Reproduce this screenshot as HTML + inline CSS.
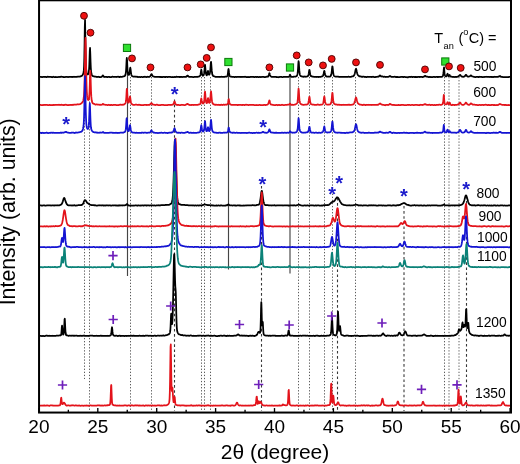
<!DOCTYPE html>
<html><head><meta charset="utf-8"><title>XRD patterns</title>
<style>
html,body{margin:0;padding:0;background:#fff;}
body{width:520px;height:464px;overflow:hidden;}
svg{display:block;}
.t{font-family:"Liberation Sans",sans-serif;fill:#000;}
</style></head><body>
<svg width="520" height="464" viewBox="0 0 520 464">
<rect x="0" y="0" width="520" height="464" fill="#ffffff"/>
<line x1="84.5" y1="77" x2="84.5" y2="379" stroke="#5c5c5c" stroke-width="1" stroke-dasharray="1.3 1.77"/>
<line x1="89.5" y1="77" x2="89.5" y2="411" stroke="#5c5c5c" stroke-width="1" stroke-dasharray="1.3 1.77"/>
<line x1="130.5" y1="77" x2="130.5" y2="411" stroke="#5c5c5c" stroke-width="1" stroke-dasharray="1.3 1.77"/>
<line x1="151.5" y1="77" x2="151.5" y2="411" stroke="#5c5c5c" stroke-width="1" stroke-dasharray="1.3 1.77"/>
<line x1="201.5" y1="77" x2="201.5" y2="411" stroke="#5c5c5c" stroke-width="1" stroke-dasharray="1.3 1.77"/>
<line x1="204.5" y1="77" x2="204.5" y2="411" stroke="#5c5c5c" stroke-width="1" stroke-dasharray="1.3 1.77"/>
<line x1="210.5" y1="77" x2="210.5" y2="411" stroke="#5c5c5c" stroke-width="1" stroke-dasharray="1.3 1.77"/>
<line x1="298.5" y1="77" x2="298.5" y2="411" stroke="#5c5c5c" stroke-width="1" stroke-dasharray="1.3 1.77"/>
<line x1="309.5" y1="77" x2="309.5" y2="411" stroke="#5c5c5c" stroke-width="1" stroke-dasharray="1.3 1.77"/>
<line x1="324.5" y1="77" x2="324.5" y2="411" stroke="#5c5c5c" stroke-width="1" stroke-dasharray="1.3 1.77"/>
<line x1="332.5" y1="77" x2="332.5" y2="411" stroke="#5c5c5c" stroke-width="1" stroke-dasharray="1.3 1.77"/>
<line x1="355.5" y1="77" x2="355.5" y2="411" stroke="#5c5c5c" stroke-width="1" stroke-dasharray="1.3 1.77"/>
<line x1="444.5" y1="77" x2="444.5" y2="411" stroke="#5c5c5c" stroke-width="1" stroke-dasharray="1.3 1.77"/>
<line x1="449.0" y1="77" x2="449.0" y2="411" stroke="#5c5c5c" stroke-width="1" stroke-dasharray="1.3 1.77"/>
<line x1="459.0" y1="77" x2="459.0" y2="411" stroke="#5c5c5c" stroke-width="1" stroke-dasharray="1.3 1.77"/>
<line x1="174.5" y1="99.5" x2="174.5" y2="411" stroke="#383838" stroke-width="1.1" stroke-dasharray="2.6 2.5"/>
<line x1="261.5" y1="186" x2="261.5" y2="411" stroke="#383838" stroke-width="1.1" stroke-dasharray="2.6 2.5"/>
<line x1="337.5" y1="198" x2="337.5" y2="411" stroke="#383838" stroke-width="1.1" stroke-dasharray="2.6 2.5"/>
<line x1="404.0" y1="206" x2="404.0" y2="411" stroke="#383838" stroke-width="1.1" stroke-dasharray="2.6 2.5"/>
<line x1="466.5" y1="196" x2="466.5" y2="411" stroke="#383838" stroke-width="1.1" stroke-dasharray="2.6 2.5"/>
<line x1="127.5" y1="60" x2="127.5" y2="276" stroke="#454545" stroke-width="1.15"/>
<line x1="228.5" y1="70" x2="228.5" y2="269.5" stroke="#454545" stroke-width="1.15"/>
<line x1="290.0" y1="76" x2="290.0" y2="273.5" stroke="#454545" stroke-width="1.15"/>
<polyline fill="none" stroke="#000000" stroke-width="1.75" stroke-linejoin="round" points="39.05,77.11 39.30,77.01 39.55,77.00 39.80,76.89 40.05,76.86 40.30,76.82 40.55,76.92 40.80,76.91 41.05,76.86 41.30,76.91 41.55,76.99 41.80,77.08 42.05,77.10 42.30,77.15 42.55,77.08 42.80,76.95 43.05,76.91 43.30,76.85 43.55,76.81 43.80,76.83 44.05,76.99 44.30,76.95 44.55,76.95 44.80,76.98 45.05,77.02 45.30,76.93 45.55,76.88 45.80,76.92 46.05,77.00 46.30,77.07 46.55,77.01 46.80,77.02 47.05,76.99 47.30,76.82 47.55,76.67 47.80,76.68 48.05,76.78 48.30,76.81 48.55,76.85 48.80,76.93 49.05,76.97 49.30,76.82 49.55,76.79 49.80,76.85 50.05,76.77 50.30,76.79 50.55,76.76 50.80,76.78 51.05,76.86 51.30,76.95 51.55,77.01 51.80,77.18 52.05,77.27 52.30,77.16 52.55,77.16 52.80,77.01 53.05,76.92 53.30,76.74 53.55,76.85 53.80,76.88 54.05,76.96 54.30,77.09 54.55,77.15 54.80,77.10 55.05,77.04 55.30,77.00 55.55,76.93 55.80,77.06 56.05,77.00 56.30,77.04 56.55,77.09 56.80,77.16 57.05,77.08 57.30,77.17 57.55,77.15 57.80,77.17 58.05,77.01 58.30,77.06 58.55,76.95 58.80,76.93 59.05,76.95 59.30,76.98 59.55,76.91 59.80,77.04 60.05,77.03 60.30,76.95 60.55,76.84 60.80,76.78 61.05,76.69 61.30,76.66 61.55,76.66 61.80,76.83 62.05,76.85 62.30,76.87 62.55,76.94 62.80,76.94 63.05,76.90 63.30,77.05 63.55,77.10 63.80,76.99 64.05,77.03 64.30,77.08 64.55,77.03 64.80,76.99 65.05,77.03 65.30,76.99 65.55,77.00 65.80,76.95 66.05,76.91 66.30,76.93 66.55,76.94 66.80,76.95 67.05,76.89 67.30,76.94 67.55,77.00 67.80,77.04 68.05,76.96 68.30,77.06 68.55,77.00 68.80,76.98 69.05,76.91 69.30,76.86 69.55,76.80 69.80,76.85 70.05,76.82 70.30,76.87 70.55,76.93 70.80,76.88 71.05,76.85 71.30,76.95 71.55,76.98 71.80,76.98 72.05,77.05 72.30,77.03 72.55,76.90 72.80,76.90 73.05,76.89 73.30,76.77 73.55,76.75 73.80,76.77 74.05,76.73 74.30,76.82 74.55,76.86 74.80,76.94 75.05,76.95 75.30,76.93 75.55,76.90 75.80,76.96 76.05,76.86 76.30,76.89 76.55,76.82 76.80,76.77 77.05,76.73 77.30,76.79 77.55,76.68 77.80,76.73 78.05,76.70 78.30,76.73 78.55,76.65 78.80,76.67 79.05,76.63 79.30,76.54 79.55,76.59 79.80,76.59 80.05,76.47 80.30,76.50 80.55,76.46 80.80,76.27 81.05,76.24 81.30,76.18 81.55,75.97 81.80,75.85 82.05,75.64 82.30,75.28 82.55,74.95 82.80,74.57 83.05,74.10 83.30,73.36 83.55,72.34 83.80,70.43 84.05,66.54 84.30,58.80 84.55,44.99 84.80,26.97 85.05,19.98 85.30,33.93 85.55,50.97 85.80,62.08 86.05,67.90 86.30,70.75 86.55,72.24 86.80,73.11 87.05,73.71 87.30,74.03 87.55,74.37 87.80,74.44 88.05,74.27 88.30,73.88 88.55,73.23 88.80,71.87 89.05,69.38 89.30,65.05 89.55,58.31 89.80,50.61 90.05,47.97 90.30,53.70 90.55,61.63 90.80,67.50 91.05,70.99 91.30,73.02 91.55,74.11 91.80,74.87 92.05,75.32 92.30,75.68 92.55,75.88 92.80,76.09 93.05,76.15 93.30,76.27 93.55,76.33 93.80,76.34 94.05,76.37 94.30,76.49 94.55,76.54 94.80,76.69 95.05,76.59 95.30,76.66 95.55,76.63 95.80,76.65 96.05,76.63 96.30,76.83 96.55,76.83 96.80,76.83 97.05,77.01 97.30,76.98 97.55,76.97 97.80,76.97 98.05,76.96 98.30,76.76 98.55,76.74 98.80,76.86 99.05,76.94 99.30,76.97 99.55,77.10 99.80,77.21 100.05,77.11 100.30,77.16 100.55,77.18 100.80,77.12 101.05,77.10 101.30,76.93 101.55,76.76 101.80,76.66 102.05,76.49 102.30,76.17 102.55,75.91 102.80,75.47 103.05,75.44 103.30,75.85 103.55,76.28 103.80,76.69 104.05,76.88 104.30,76.88 104.55,76.92 104.80,77.04 105.05,76.92 105.30,76.98 105.55,76.96 105.80,76.89 106.05,76.86 106.30,76.90 106.55,76.95 106.80,76.97 107.05,77.07 107.30,77.02 107.55,77.12 107.80,76.94 108.05,76.92 108.30,76.85 108.55,76.86 108.80,76.82 109.05,76.95 109.30,76.90 109.55,77.03 109.80,77.14 110.05,77.13 110.30,77.10 110.55,77.15 110.80,77.12 111.05,77.10 111.30,77.05 111.55,77.02 111.80,76.95 112.05,76.83 112.30,76.64 112.55,76.72 112.80,76.70 113.05,76.83 113.30,76.93 113.55,76.96 113.80,76.89 114.05,76.92 114.30,76.91 114.55,76.82 114.80,76.80 115.05,76.85 115.30,76.90 115.55,76.79 115.80,76.91 116.05,77.00 116.30,77.03 116.55,76.96 116.80,76.99 117.05,76.90 117.30,76.76 117.55,76.75 117.80,76.70 118.05,76.70 118.30,76.62 118.55,76.84 118.80,76.84 119.05,76.97 119.30,77.02 119.55,77.02 119.80,76.79 120.05,76.75 120.30,76.74 120.55,76.69 120.80,76.79 121.05,76.95 121.30,76.87 121.55,76.83 121.80,76.91 122.05,76.82 122.30,76.64 122.55,76.68 122.80,76.61 123.05,76.49 123.30,76.43 123.55,76.48 123.80,76.31 124.05,76.29 124.30,76.24 124.55,76.20 124.80,75.92 125.05,75.77 125.30,75.15 125.55,74.37 125.80,72.98 126.05,70.54 126.30,66.34 126.55,60.94 126.80,57.78 127.05,60.92 127.30,66.48 127.55,70.49 127.80,72.80 128.05,73.94 128.30,74.52 128.55,74.74 128.80,74.90 129.05,74.62 129.30,73.94 129.55,72.70 129.80,70.82 130.05,68.66 130.30,67.64 130.55,68.85 130.80,71.04 131.05,73.08 131.30,74.42 131.55,75.38 131.80,75.74 132.05,76.09 132.30,76.21 132.55,76.36 132.80,76.45 133.05,76.54 133.30,76.51 133.55,76.53 133.80,76.57 134.05,76.44 134.30,76.54 134.55,76.56 134.80,76.57 135.05,76.56 135.30,76.69 135.55,76.67 135.80,76.72 136.05,76.79 136.30,76.80 136.55,76.65 136.80,76.67 137.05,76.71 137.30,76.77 137.55,76.90 137.80,77.08 138.05,77.11 138.30,77.06 138.55,77.01 138.80,76.95 139.05,76.98 139.30,76.93 139.55,77.00 139.80,77.04 140.05,77.10 140.30,77.04 140.55,77.06 140.80,77.02 141.05,76.96 141.30,76.83 141.55,76.86 141.80,76.94 142.05,77.02 142.30,77.10 142.55,77.11 142.80,77.09 143.05,77.01 143.30,76.97 143.55,76.98 143.80,77.00 144.05,76.88 144.30,76.89 144.55,76.84 144.80,76.70 145.05,76.66 145.30,76.80 145.55,76.90 145.80,76.91 146.05,77.04 146.30,77.14 146.55,77.02 146.80,76.92 147.05,76.94 147.30,76.89 147.55,76.73 147.80,76.76 148.05,76.80 148.30,76.85 148.55,76.92 148.80,76.95 149.05,77.03 149.30,76.95 149.55,76.73 149.80,76.56 150.05,76.38 150.30,76.05 150.55,75.63 150.80,75.27 151.05,74.68 151.30,74.21 151.55,74.09 151.80,74.41 152.05,74.87 152.30,75.47 152.55,75.91 152.80,76.16 153.05,76.35 153.30,76.44 153.55,76.45 153.80,76.63 154.05,76.67 154.30,76.73 154.55,76.78 154.80,76.80 155.05,76.80 155.30,76.91 155.55,76.89 155.80,76.96 156.05,76.96 156.30,76.84 156.55,76.76 156.80,76.75 157.05,76.77 157.30,76.85 157.55,76.92 157.80,76.96 158.05,76.94 158.30,76.92 158.55,76.84 158.80,76.87 159.05,76.91 159.30,77.02 159.55,77.00 159.80,76.96 160.05,76.97 160.30,77.00 160.55,76.89 160.80,76.91 161.05,77.07 161.30,76.97 161.55,76.99 161.80,77.05 162.05,76.99 162.30,77.00 162.55,77.07 162.80,76.95 163.05,77.01 163.30,76.97 163.55,76.99 163.80,76.93 164.05,76.98 164.30,76.92 164.55,77.04 164.80,76.99 165.05,76.99 165.30,77.02 165.55,77.03 165.80,76.97 166.05,76.91 166.30,76.90 166.55,76.82 166.80,76.88 167.05,76.91 167.30,76.98 167.55,77.06 167.80,77.05 168.05,76.90 168.30,76.87 168.55,76.82 168.80,76.80 169.05,76.81 169.30,76.96 169.55,76.91 169.80,76.83 170.05,76.84 170.30,76.99 170.55,76.96 170.80,77.00 171.05,77.10 171.30,77.13 171.55,77.06 171.80,77.02 172.05,77.03 172.30,77.00 172.55,76.99 172.80,77.02 173.05,77.15 173.30,77.16 173.55,77.12 173.80,77.10 174.05,77.00 174.30,76.92 174.55,76.98 174.80,77.02 175.05,77.09 175.30,77.10 175.55,77.02 175.80,76.91 176.05,76.85 176.30,76.72 176.55,76.63 176.80,76.72 177.05,76.81 177.30,76.84 177.55,76.85 177.80,76.86 178.05,76.78 178.30,76.87 178.55,76.77 178.80,76.83 179.05,76.95 179.30,77.00 179.55,76.89 179.80,77.04 180.05,76.97 180.30,76.96 180.55,77.03 180.80,76.99 181.05,76.91 181.30,76.97 181.55,76.99 181.80,76.98 182.05,77.07 182.30,77.07 182.55,77.01 182.80,76.96 183.05,76.91 183.30,76.81 183.55,76.84 183.80,76.91 184.05,76.94 184.30,76.86 184.55,76.94 184.80,76.86 185.05,76.80 185.30,76.71 185.55,76.80 185.80,76.88 186.05,76.87 186.30,76.78 186.55,76.65 186.80,76.25 187.05,75.84 187.30,75.52 187.55,75.51 187.80,75.68 188.05,76.05 188.30,76.24 188.55,76.61 188.80,76.71 189.05,76.75 189.30,76.83 189.55,76.83 189.80,76.80 190.05,76.86 190.30,76.89 190.55,76.88 190.80,76.93 191.05,76.95 191.30,76.91 191.55,76.90 191.80,76.86 192.05,76.96 192.30,76.99 192.55,77.00 192.80,77.05 193.05,77.15 193.30,77.18 193.55,77.13 193.80,77.10 194.05,77.03 194.30,76.95 194.55,76.90 194.80,76.93 195.05,76.91 195.30,76.94 195.55,76.88 195.80,76.91 196.05,76.83 196.30,76.87 196.55,76.81 196.80,76.83 197.05,76.72 197.30,76.81 197.55,76.79 197.80,76.80 198.05,76.74 198.30,76.71 198.55,76.61 198.80,76.63 199.05,76.50 199.30,76.41 199.55,76.31 199.80,76.06 200.05,75.58 200.30,75.10 200.55,74.21 200.80,72.57 201.05,70.66 201.30,69.72 201.55,70.79 201.80,72.61 202.05,74.30 202.30,75.21 202.55,75.57 202.80,75.75 203.05,75.74 203.30,75.56 203.55,75.20 203.80,74.76 204.05,73.67 204.30,71.97 204.55,69.13 204.80,65.97 205.05,64.79 205.30,67.22 205.55,70.30 205.80,72.68 206.05,74.09 206.30,74.83 206.55,75.10 206.80,75.34 207.05,74.88 207.30,73.92 207.55,72.40 207.80,71.12 208.05,70.99 208.30,72.50 208.55,73.81 208.80,74.52 209.05,74.70 209.30,74.74 209.55,74.28 209.80,73.50 210.05,72.19 210.30,69.85 210.55,66.49 210.80,62.90 211.05,61.82 211.30,64.26 211.55,67.93 211.80,70.90 212.05,73.01 212.30,74.33 212.55,74.99 212.80,75.42 213.05,75.77 213.30,76.08 213.55,76.11 213.80,76.22 214.05,76.26 214.30,76.37 214.55,76.45 214.80,76.52 215.05,76.65 215.30,76.77 215.55,76.81 215.80,76.80 216.05,76.83 216.30,76.85 216.55,76.88 216.80,76.86 217.05,76.87 217.30,76.88 217.55,76.86 217.80,76.85 218.05,76.91 218.30,76.83 218.55,76.86 218.80,76.91 219.05,76.84 219.30,76.90 219.55,77.00 219.80,76.97 220.05,76.81 220.30,76.94 220.55,76.81 220.80,76.77 221.05,76.81 221.30,76.85 221.55,76.74 221.80,76.73 222.05,76.75 222.30,76.75 222.55,76.83 222.80,76.90 223.05,76.94 223.30,76.94 223.55,76.87 223.80,76.95 224.05,76.93 224.30,76.84 224.55,76.76 224.80,76.87 225.05,76.68 225.30,76.62 225.55,76.72 225.80,76.68 226.05,76.61 226.30,76.70 226.55,76.60 226.80,76.51 227.05,76.33 227.30,75.89 227.55,75.20 227.80,74.09 228.05,72.09 228.30,69.86 228.55,68.99 228.80,70.67 229.05,72.89 229.30,74.56 229.55,75.48 229.80,76.07 230.05,76.31 230.30,76.53 230.55,76.62 230.80,76.57 231.05,76.55 231.30,76.70 231.55,76.76 231.80,76.78 232.05,76.91 232.30,76.99 232.55,76.97 232.80,76.94 233.05,76.90 233.30,76.86 233.55,76.83 233.80,76.95 234.05,76.98 234.30,77.03 234.55,77.03 234.80,77.05 235.05,76.92 235.30,76.94 235.55,76.94 235.80,77.00 236.05,76.97 236.30,77.00 236.55,77.02 236.80,76.97 237.05,76.93 237.30,76.98 237.55,76.95 237.80,76.88 238.05,76.85 238.30,76.90 238.55,76.84 238.80,76.79 239.05,76.85 239.30,76.85 239.55,76.84 239.80,76.92 240.05,77.01 240.30,76.97 240.55,77.00 240.80,76.86 241.05,76.91 241.30,76.85 241.55,76.84 241.80,76.98 242.05,77.05 242.30,76.96 242.55,76.97 242.80,76.99 243.05,76.86 243.30,76.86 243.55,76.94 243.80,76.99 244.05,76.85 244.30,76.80 244.55,76.84 244.80,76.77 245.05,76.71 245.30,76.92 245.55,76.93 245.80,76.98 246.05,76.99 246.30,77.04 246.55,77.00 246.80,77.13 247.05,77.06 247.30,77.02 247.55,77.04 247.80,77.03 248.05,76.92 248.30,77.01 248.55,77.10 248.80,77.13 249.05,77.13 249.30,77.21 249.55,77.12 249.80,77.01 250.05,76.94 250.30,76.94 250.55,76.89 250.80,77.00 251.05,76.97 251.30,76.92 251.55,76.88 251.80,76.98 252.05,76.87 252.30,76.94 252.55,76.94 252.80,76.93 253.05,76.80 253.30,76.86 253.55,76.91 253.80,77.01 254.05,77.01 254.30,77.21 254.55,77.11 254.80,76.97 255.05,76.90 255.30,76.94 255.55,76.85 255.80,76.85 256.05,76.99 256.30,77.09 256.55,77.04 256.80,76.96 257.05,76.93 257.30,76.91 257.55,76.86 257.80,76.95 258.05,77.03 258.30,77.19 258.55,77.18 258.80,77.19 259.05,77.10 259.30,77.01 259.55,76.95 259.80,76.90 260.05,76.88 260.30,77.00 260.55,77.06 260.80,77.01 261.05,77.01 261.30,77.05 261.55,76.94 261.80,76.92 262.05,76.94 262.30,76.98 262.55,76.97 262.80,76.98 263.05,76.90 263.30,76.99 263.55,76.99 263.80,76.97 264.05,76.99 264.30,77.10 264.55,77.09 264.80,77.14 265.05,77.08 265.30,77.06 265.55,77.03 265.80,76.96 266.05,76.91 266.30,76.86 266.55,76.74 266.80,76.71 267.05,76.71 267.30,76.66 267.55,76.71 267.80,76.77 268.05,76.55 268.30,76.27 268.55,75.73 268.80,74.95 269.05,73.95 269.30,73.22 269.55,73.28 269.80,74.16 270.05,74.96 270.30,75.65 270.55,75.97 270.80,76.25 271.05,76.45 271.30,76.74 271.55,76.82 271.80,76.94 272.05,76.87 272.30,76.95 272.55,76.79 272.80,76.83 273.05,76.76 273.30,76.85 273.55,76.80 273.80,76.89 274.05,76.85 274.30,76.93 274.55,76.89 274.80,76.92 275.05,76.92 275.30,76.92 275.55,76.98 275.80,76.98 276.05,76.98 276.30,77.03 276.55,77.00 276.80,76.99 277.05,77.09 277.30,77.01 277.55,77.05 277.80,77.17 278.05,77.15 278.30,77.15 278.55,77.27 278.80,77.10 279.05,77.05 279.30,77.06 279.55,77.00 279.80,76.95 280.05,76.99 280.30,76.88 280.55,76.82 280.80,76.83 281.05,76.82 281.30,76.84 281.55,76.91 281.80,76.98 282.05,77.05 282.30,77.04 282.55,77.00 282.80,77.00 283.05,77.06 283.30,76.96 283.55,76.91 283.80,76.95 284.05,76.90 284.30,76.89 284.55,76.80 284.80,76.90 285.05,76.87 285.30,76.86 285.55,76.82 285.80,76.84 286.05,76.79 286.30,76.85 286.55,76.88 286.80,76.84 287.05,76.97 287.30,76.90 287.55,76.84 287.80,76.87 288.05,76.95 288.30,76.84 288.55,76.83 288.80,76.80 289.05,76.49 289.30,76.10 289.55,75.55 289.80,74.87 290.05,74.70 290.30,75.27 290.55,75.93 290.80,76.41 291.05,76.76 291.30,76.75 291.55,76.77 291.80,76.72 292.05,76.76 292.30,76.82 292.55,76.84 292.80,76.89 293.05,76.87 293.30,76.87 293.55,76.71 293.80,76.76 294.05,76.70 294.30,76.69 294.55,76.64 294.80,76.73 295.05,76.66 295.30,76.64 295.55,76.58 295.80,76.53 296.05,76.41 296.30,76.27 296.55,76.15 296.80,75.95 297.05,75.56 297.30,74.77 297.55,73.63 297.80,71.59 298.05,68.21 298.30,64.01 298.55,61.12 298.80,62.42 299.05,66.29 299.30,70.13 299.55,72.56 299.80,74.18 300.05,75.03 300.30,75.55 300.55,75.73 300.80,76.09 301.05,76.21 301.30,76.27 301.55,76.38 301.80,76.46 302.05,76.49 302.30,76.60 302.55,76.63 302.80,76.67 303.05,76.68 303.30,76.76 303.55,76.67 303.80,76.75 304.05,76.59 304.30,76.59 304.55,76.46 304.80,76.58 305.05,76.54 305.30,76.62 305.55,76.63 305.80,76.77 306.05,76.69 306.30,76.68 306.55,76.64 306.80,76.54 307.05,76.44 307.30,76.48 307.55,76.30 307.80,76.23 308.05,75.95 308.30,75.47 308.55,74.45 308.80,73.13 309.05,71.30 309.30,69.98 309.55,70.11 309.80,71.72 310.05,73.33 310.30,74.72 310.55,75.52 310.80,75.96 311.05,76.12 311.30,76.26 311.55,76.26 311.80,76.45 312.05,76.46 312.30,76.53 312.55,76.72 312.80,76.70 313.05,76.66 313.30,76.71 313.55,76.76 313.80,76.76 314.05,76.87 314.30,76.85 314.55,76.92 314.80,76.95 315.05,76.87 315.30,76.88 315.55,76.82 315.80,76.85 316.05,76.76 316.30,76.81 316.55,76.91 316.80,77.02 317.05,76.94 317.30,76.97 317.55,76.92 317.80,76.88 318.05,76.85 318.30,76.87 318.55,77.04 318.80,77.02 319.05,76.94 319.30,76.90 319.55,76.90 319.80,76.78 320.05,76.80 320.30,76.85 320.55,76.88 320.80,76.83 321.05,76.67 321.30,76.69 321.55,76.57 321.80,76.46 322.05,76.40 322.30,76.38 322.55,76.17 322.80,76.02 323.05,75.71 323.30,75.18 323.55,74.30 323.80,73.03 324.05,71.51 324.30,70.79 324.55,71.51 324.80,72.99 325.05,74.22 325.30,75.16 325.55,75.73 325.80,76.09 326.05,76.29 326.30,76.46 326.55,76.49 326.80,76.64 327.05,76.56 327.30,76.53 327.55,76.56 327.80,76.54 328.05,76.49 328.30,76.54 328.55,76.61 328.80,76.55 329.05,76.59 329.30,76.54 329.55,76.52 329.80,76.57 330.05,76.58 330.30,76.38 330.55,76.15 330.80,75.79 331.05,75.23 331.30,74.35 331.55,73.10 331.80,70.99 332.05,68.38 332.30,66.28 332.55,66.53 332.80,68.79 333.05,71.35 333.30,73.35 333.55,74.53 333.80,75.28 334.05,75.77 334.30,76.15 334.55,76.27 334.80,76.38 335.05,76.46 335.30,76.58 335.55,76.56 335.80,76.62 336.05,76.73 336.30,76.69 336.55,76.65 336.80,76.68 337.05,76.68 337.30,76.54 337.55,76.63 337.80,76.69 338.05,76.68 338.30,76.66 338.55,76.75 338.80,76.83 339.05,76.90 339.30,76.96 339.55,77.00 339.80,76.97 340.05,76.90 340.30,76.90 340.55,76.88 340.80,76.91 341.05,76.96 341.30,76.99 341.55,76.98 341.80,76.90 342.05,76.85 342.30,76.81 342.55,76.85 342.80,76.79 343.05,76.88 343.30,76.87 343.55,76.92 343.80,76.91 344.05,76.94 344.30,76.93 344.55,76.96 344.80,76.97 345.05,76.92 345.30,76.93 345.55,76.90 345.80,76.84 346.05,76.80 346.30,76.84 346.55,76.79 346.80,76.89 347.05,76.90 347.30,76.92 347.55,76.91 347.80,76.86 348.05,76.77 348.30,76.72 348.55,76.67 348.80,76.68 349.05,76.85 349.30,76.88 349.55,76.87 349.80,76.85 350.05,76.88 350.30,76.77 350.55,76.80 350.80,76.82 351.05,76.79 351.30,76.61 351.55,76.55 351.80,76.48 352.05,76.42 352.30,76.44 352.55,76.47 352.80,76.44 353.05,76.26 353.30,76.17 353.55,76.05 353.80,75.70 354.05,75.35 354.30,74.96 354.55,74.34 354.80,73.49 355.05,72.39 355.30,71.19 355.55,69.91 355.80,69.03 356.05,68.72 356.30,69.39 356.55,70.36 356.80,71.63 357.05,72.68 357.30,73.67 357.55,74.38 357.80,74.91 358.05,75.20 358.30,75.49 358.55,75.62 358.80,75.80 359.05,76.09 359.30,76.32 359.55,76.42 359.80,76.42 360.05,76.45 360.30,76.35 360.55,76.33 360.80,76.40 361.05,76.68 361.30,76.63 361.55,76.74 361.80,76.86 362.05,76.89 362.30,76.73 362.55,76.92 362.80,76.81 363.05,76.63 363.30,76.60 363.55,76.67 363.80,76.63 364.05,76.74 364.30,76.95 364.55,77.01 364.80,76.99 365.05,76.94 365.30,77.02 365.55,76.91 365.80,76.90 366.05,77.00 366.30,77.08 366.55,77.08 366.80,77.01 367.05,76.98 367.30,76.88 367.55,76.81 367.80,76.73 368.05,76.79 368.30,76.88 368.55,76.85 368.80,76.87 369.05,76.88 369.30,76.87 369.55,76.82 369.80,76.91 370.05,76.91 370.30,76.90 370.55,76.94 370.80,76.96 371.05,76.95 371.30,76.92 371.55,77.01 371.80,77.02 372.05,76.95 372.30,76.86 372.55,76.80 372.80,76.77 373.05,76.72 373.30,76.76 373.55,76.82 373.80,76.96 374.05,77.05 374.30,77.08 374.55,77.20 374.80,77.23 375.05,77.22 375.30,77.09 375.55,77.03 375.80,76.94 376.05,76.97 376.30,76.82 376.55,76.82 376.80,76.88 377.05,76.87 377.30,76.72 377.55,76.74 377.80,76.75 378.05,76.77 378.30,76.66 378.55,76.65 378.80,76.54 379.05,76.32 379.30,75.98 379.55,75.74 379.80,75.49 380.05,75.44 380.30,75.58 380.55,75.81 380.80,76.08 381.05,76.29 381.30,76.50 381.55,76.41 381.80,76.43 382.05,76.46 382.30,76.45 382.55,76.48 382.80,76.68 383.05,76.73 383.30,76.77 383.55,76.80 383.80,76.73 384.05,76.71 384.30,76.68 384.55,76.73 384.80,76.78 385.05,76.88 385.30,76.90 385.55,77.00 385.80,76.90 386.05,76.92 386.30,76.84 386.55,76.86 386.80,76.91 387.05,76.92 387.30,76.92 387.55,76.95 387.80,76.96 388.05,76.86 388.30,76.83 388.55,76.75 388.80,76.65 389.05,76.49 389.30,76.30 389.55,76.11 389.80,76.02 390.05,75.98 390.30,76.04 390.55,76.29 390.80,76.53 391.05,76.67 391.30,76.82 391.55,76.90 391.80,76.93 392.05,76.94 392.30,76.94 392.55,76.83 392.80,76.86 393.05,76.88 393.30,76.89 393.55,76.88 393.80,76.98 394.05,76.89 394.30,76.80 394.55,76.62 394.80,76.62 395.05,76.71 395.30,76.90 395.55,76.92 395.80,77.11 396.05,77.19 396.30,77.09 396.55,76.90 396.80,77.03 397.05,76.98 397.30,76.89 397.55,77.00 397.80,77.13 398.05,77.10 398.30,77.20 398.55,77.21 398.80,77.07 399.05,77.09 399.30,77.05 399.55,77.01 399.80,77.04 400.05,77.05 400.30,77.01 400.55,76.99 400.80,76.94 401.05,76.92 401.30,76.98 401.55,76.99 401.80,76.94 402.05,76.99 402.30,76.92 402.55,77.01 402.80,76.96 403.05,77.03 403.30,77.06 403.55,77.13 403.80,76.95 404.05,76.91 404.30,76.93 404.55,76.88 404.80,76.94 405.05,77.02 405.30,77.07 405.55,77.08 405.80,77.13 406.05,77.05 406.30,77.22 406.55,77.22 406.80,77.26 407.05,77.29 407.30,77.37 407.55,77.20 407.80,77.26 408.05,77.27 408.30,77.03 408.55,77.01 408.80,76.97 409.05,76.90 409.30,76.83 409.55,76.98 409.80,76.98 410.05,76.97 410.30,77.07 410.55,76.95 410.80,76.89 411.05,76.80 411.30,76.84 411.55,76.75 411.80,76.89 412.05,76.89 412.30,77.02 412.55,77.06 412.80,77.05 413.05,76.94 413.30,76.92 413.55,76.77 413.80,76.79 414.05,76.86 414.30,76.88 414.55,77.04 414.80,77.11 415.05,76.92 415.30,76.94 415.55,77.07 415.80,76.98 416.05,76.94 416.30,77.13 416.55,77.04 416.80,76.97 417.05,77.00 417.30,77.06 417.55,76.97 417.80,76.94 418.05,76.98 418.30,76.84 418.55,76.84 418.80,76.88 419.05,76.96 419.30,76.90 419.55,77.02 419.80,77.05 420.05,76.98 420.30,76.95 420.55,76.98 420.80,76.90 421.05,76.81 421.30,76.94 421.55,76.99 421.80,76.92 422.05,77.02 422.30,77.08 422.55,77.06 422.80,77.04 423.05,76.93 423.30,76.84 423.55,76.83 423.80,76.75 424.05,76.53 424.30,76.43 424.55,76.27 424.80,76.01 425.05,75.87 425.30,75.95 425.55,76.23 425.80,76.43 426.05,76.64 426.30,76.69 426.55,76.74 426.80,76.68 427.05,76.71 427.30,76.62 427.55,76.72 427.80,76.92 428.05,76.96 428.30,76.93 428.55,77.08 428.80,77.10 429.05,76.98 429.30,77.01 429.55,77.02 429.80,76.96 430.05,76.95 430.30,77.00 430.55,77.07 430.80,76.98 431.05,77.06 431.30,77.07 431.55,77.05 431.80,77.00 432.05,77.14 432.30,77.10 432.55,77.04 432.80,77.06 433.05,77.00 433.30,76.88 433.55,76.82 433.80,76.80 434.05,76.79 434.30,76.87 434.55,76.95 434.80,77.07 435.05,77.10 435.30,77.06 435.55,76.98 435.80,76.92 436.05,76.82 436.30,76.90 436.55,76.85 436.80,76.92 437.05,76.96 437.30,77.02 437.55,76.92 437.80,77.03 438.05,76.98 438.30,77.01 438.55,76.86 438.80,76.90 439.05,76.90 439.30,76.84 439.55,76.84 439.80,76.87 440.05,76.89 440.30,76.84 440.55,76.94 440.80,76.90 441.05,76.87 441.30,76.87 441.55,76.89 441.80,76.75 442.05,76.68 442.30,76.67 442.55,76.39 442.80,76.01 443.05,75.63 443.30,74.49 443.55,72.21 443.80,68.77 444.05,67.28 444.30,70.21 444.55,73.44 444.80,75.05 445.05,75.68 445.30,76.15 445.55,76.33 445.80,76.38 446.05,76.41 446.30,76.38 446.55,76.04 446.80,75.54 447.05,74.79 447.30,74.01 447.55,73.75 447.80,74.40 448.05,75.32 448.30,75.93 448.55,76.13 448.80,76.05 449.05,75.81 449.30,75.53 449.55,74.95 449.80,74.99 450.05,75.57 450.30,76.06 450.55,76.27 450.80,76.52 451.05,76.56 451.30,76.62 451.55,76.69 451.80,76.72 452.05,76.80 452.30,76.84 452.55,76.79 452.80,76.85 453.05,77.01 453.30,76.93 453.55,76.86 453.80,76.96 454.05,77.06 454.30,77.03 454.55,76.99 454.80,76.96 455.05,76.98 455.30,76.86 455.55,76.82 455.80,76.87 456.05,77.06 456.30,76.99 456.55,76.97 456.80,76.94 457.05,76.87 457.30,76.77 457.55,76.74 457.80,76.60 458.05,76.48 458.30,76.40 458.55,76.19 458.80,76.04 459.05,75.95 459.30,75.70 459.55,75.31 459.80,74.97 460.05,74.90 460.30,75.03 460.55,75.36 460.80,75.73 461.05,76.01 461.30,76.30 461.55,76.43 461.80,76.52 462.05,76.59 462.30,76.81 462.55,76.70 462.80,76.73 463.05,76.75 463.30,76.80 463.55,76.78 463.80,76.67 464.05,76.67 464.30,76.56 464.55,76.42 464.80,76.14 465.05,76.01 465.30,75.59 465.55,75.21 465.80,74.94 466.05,74.86 466.30,75.01 466.55,75.45 466.80,75.85 467.05,76.10 467.30,76.34 467.55,76.47 467.80,76.58 468.05,76.58 468.30,76.54 468.55,76.58 468.80,76.55 469.05,76.44 469.30,76.44 469.55,76.48 469.80,76.31 470.05,76.18 470.30,75.96 470.55,75.72 470.80,75.42 471.05,75.39 471.30,75.64 471.55,75.93 471.80,76.17 472.05,76.37 472.30,76.48 472.55,76.47 472.80,76.50 473.05,76.54 473.30,76.64 473.55,76.73 473.80,76.79 474.05,76.88 474.30,76.85 474.55,76.95 474.80,77.07 475.05,77.09 475.30,77.11 475.55,77.18 475.80,77.12 476.05,76.96 476.30,76.89 476.55,76.91 476.80,76.85 477.05,76.83 477.30,76.82 477.55,76.86 477.80,76.87 478.05,77.01 478.30,76.99 478.55,77.02 478.80,77.07 479.05,77.00 479.30,76.82 479.55,76.83 479.80,76.74 480.05,76.75 480.30,76.75 480.55,76.85 480.80,76.77 481.05,76.85 481.30,76.86 481.55,76.96 481.80,76.99 482.05,77.09 482.30,77.07 482.55,77.07 482.80,77.01 483.05,76.95 483.30,76.99 483.55,77.01 483.80,77.08 484.05,77.03 484.30,77.02 484.55,76.94 484.80,76.92 485.05,76.80 485.30,76.84 485.55,76.79 485.80,76.75 486.05,76.74 486.30,76.75 486.55,76.80 486.80,76.87 487.05,76.90 487.30,76.98 487.55,76.95 487.80,76.90 488.05,76.90 488.30,76.87 488.55,76.77 488.80,76.80 489.05,76.84 489.30,76.93 489.55,76.95 489.80,77.04 490.05,77.05 490.30,76.94 490.55,76.78 490.80,76.89 491.05,76.83 491.30,76.86 491.55,77.00 491.80,77.08 492.05,76.98 492.30,77.04 492.55,77.01 492.80,76.95 493.05,76.95 493.30,77.02 493.55,77.03 493.80,76.99 494.05,76.90 494.30,76.89 494.55,76.80 494.80,76.73 495.05,76.84 495.30,76.87 495.55,76.88 495.80,76.91 496.05,76.85 496.30,76.82 496.55,76.88 496.80,76.97 497.05,76.90 497.30,76.97 497.55,76.95 497.80,76.88 498.05,76.71 498.30,76.76 498.55,76.72 498.80,76.63 499.05,76.47 499.30,76.43 499.55,76.18 499.80,76.00 500.05,75.98 500.30,76.19 500.55,76.27 500.80,76.53 501.05,76.80 501.30,76.88 501.55,76.82 501.80,76.95 502.05,76.99 502.30,76.88 502.55,76.97 502.80,77.04 503.05,77.02 503.30,77.02 503.55,77.09 503.80,77.08 504.05,77.09 504.30,77.12 504.55,77.07 504.80,77.07 505.05,77.04 505.30,77.07 505.55,77.03 505.80,77.08 506.05,77.07 506.30,77.10 506.55,77.11 506.80,77.12 507.05,77.03 507.30,77.04 507.55,77.05 507.80,77.03 508.05,77.09 508.30,77.12 508.55,77.10 508.80,77.00 509.05,76.88 509.30,76.85 509.55,76.86 509.80,76.87 510.05,76.95 510.30,77.00 510.55,77.07 510.80,77.07 511.05,77.07"/>
<polyline fill="none" stroke="#e3131b" stroke-width="1.75" stroke-linejoin="round" points="39.05,104.86 39.30,104.84 39.55,104.90 39.80,104.90 40.05,104.90 40.30,104.97 40.55,104.99 40.80,104.94 41.05,105.06 41.30,105.08 41.55,105.09 41.80,105.13 42.05,105.15 42.30,105.10 42.55,105.01 42.80,105.03 43.05,104.97 43.30,105.02 43.55,104.99 43.80,105.00 44.05,105.01 44.30,104.99 44.55,104.83 44.80,104.92 45.05,104.90 45.30,104.91 45.55,104.90 45.80,105.00 46.05,104.95 46.30,104.93 46.55,104.86 46.80,104.89 47.05,104.87 47.30,104.89 47.55,105.07 47.80,105.05 48.05,105.07 48.30,105.18 48.55,105.19 48.80,105.14 49.05,105.08 49.30,105.01 49.55,104.87 49.80,104.82 50.05,104.80 50.30,105.03 50.55,105.03 50.80,105.04 51.05,105.08 51.30,105.07 51.55,104.99 51.80,105.03 52.05,105.01 52.30,105.08 52.55,105.09 52.80,104.97 53.05,104.97 53.30,105.01 53.55,104.82 53.80,104.84 54.05,104.91 54.30,104.91 54.55,104.88 54.80,105.04 55.05,104.99 55.30,104.94 55.55,104.86 55.80,104.83 56.05,104.78 56.30,104.86 56.55,104.84 56.80,104.84 57.05,104.90 57.30,104.86 57.55,104.82 57.80,104.85 58.05,104.96 58.30,104.86 58.55,104.80 58.80,104.72 59.05,104.73 59.30,104.76 59.55,104.92 59.80,104.90 60.05,105.02 60.30,105.00 60.55,104.95 60.80,104.95 61.05,104.89 61.30,104.73 61.55,104.73 61.80,104.75 62.05,104.75 62.30,104.93 62.55,104.96 62.80,105.04 63.05,105.01 63.30,105.03 63.55,104.96 63.80,105.06 64.05,104.96 64.30,105.03 64.55,104.88 64.80,104.89 65.05,104.75 65.30,104.80 65.55,104.71 65.80,104.73 66.05,104.74 66.30,104.86 66.55,104.87 66.80,104.93 67.05,105.02 67.30,105.06 67.55,105.07 67.80,105.09 68.05,105.17 68.30,105.11 68.55,105.08 68.80,104.97 69.05,105.07 69.30,104.95 69.55,104.98 69.80,105.00 70.05,105.05 70.30,104.88 70.55,104.79 70.80,104.76 71.05,104.79 71.30,104.80 71.55,104.93 71.80,105.07 72.05,105.05 72.30,104.87 72.55,104.84 72.80,104.78 73.05,104.71 73.30,104.74 73.55,104.83 73.80,104.82 74.05,104.70 74.30,104.68 74.55,104.69 74.80,104.61 75.05,104.56 75.30,104.57 75.55,104.56 75.80,104.51 76.05,104.54 76.30,104.51 76.55,104.54 76.80,104.50 77.05,104.44 77.30,104.32 77.55,104.30 77.80,104.24 78.05,104.25 78.30,104.29 78.55,104.35 78.80,104.38 79.05,104.31 79.30,104.29 79.55,104.25 79.80,104.22 80.05,104.11 80.30,104.08 80.55,103.92 80.80,103.70 81.05,103.52 81.30,103.31 81.55,103.05 81.80,102.89 82.05,102.73 82.30,102.47 82.55,102.14 82.80,101.74 83.05,101.09 83.30,100.19 83.55,98.85 83.80,97.23 84.05,94.48 84.30,89.91 84.55,82.50 84.80,71.40 85.05,56.63 85.30,42.39 85.55,37.82 85.80,47.23 86.05,62.47 86.30,75.90 86.55,85.43 86.80,91.55 87.05,95.15 87.30,97.39 87.55,98.63 87.80,99.44 88.05,99.91 88.30,100.07 88.55,99.94 88.80,99.42 89.05,98.21 89.30,95.69 89.55,91.25 89.80,84.12 90.05,75.50 90.30,70.92 90.55,75.60 90.80,84.31 91.05,91.61 91.30,96.39 91.55,99.10 91.80,100.81 92.05,101.89 92.30,102.52 92.55,102.87 92.80,103.30 93.05,103.54 93.30,103.62 93.55,103.68 93.80,103.89 94.05,103.89 94.30,103.93 94.55,104.11 94.80,104.25 95.05,104.40 95.30,104.56 95.55,104.59 95.80,104.57 96.05,104.53 96.30,104.43 96.55,104.42 96.80,104.44 97.05,104.44 97.30,104.50 97.55,104.58 97.80,104.67 98.05,104.66 98.30,104.60 98.55,104.55 98.80,104.66 99.05,104.68 99.30,104.69 99.55,104.80 99.80,104.85 100.05,104.73 100.30,104.70 100.55,104.76 100.80,104.83 101.05,104.81 101.30,104.81 101.55,104.76 101.80,104.68 102.05,104.58 102.30,104.39 102.55,104.24 102.80,103.95 103.05,103.88 103.30,104.04 103.55,104.41 103.80,104.51 104.05,104.62 104.30,104.54 104.55,104.65 104.80,104.61 105.05,104.68 105.30,104.74 105.55,104.86 105.80,104.83 106.05,104.92 106.30,104.89 106.55,104.86 106.80,104.92 107.05,104.96 107.30,105.05 107.55,105.07 107.80,105.04 108.05,104.97 108.30,104.88 108.55,104.78 108.80,104.75 109.05,104.87 109.30,104.93 109.55,105.09 109.80,105.01 110.05,105.06 110.30,105.02 110.55,105.01 110.80,104.90 111.05,105.00 111.30,105.00 111.55,104.95 111.80,104.95 112.05,105.02 112.30,105.03 112.55,105.04 112.80,105.03 113.05,105.04 113.30,104.96 113.55,104.98 113.80,104.95 114.05,104.99 114.30,104.94 114.55,104.97 114.80,104.93 115.05,104.89 115.30,104.90 115.55,104.95 115.80,104.96 116.05,105.03 116.30,105.06 116.55,105.01 116.80,105.04 117.05,105.17 117.30,105.11 117.55,105.20 117.80,105.21 118.05,105.11 118.30,105.01 118.55,105.07 118.80,104.99 119.05,105.00 119.30,104.98 119.55,104.83 119.80,104.77 120.05,104.68 120.30,104.64 120.55,104.66 120.80,104.77 121.05,104.79 121.30,104.76 121.55,104.74 121.80,104.75 122.05,104.79 122.30,104.73 122.55,104.75 122.80,104.70 123.05,104.77 123.30,104.62 123.55,104.57 123.80,104.57 124.05,104.47 124.30,104.25 124.55,104.08 124.80,103.87 125.05,103.68 125.30,103.44 125.55,102.88 125.80,102.17 126.05,100.47 126.30,97.37 126.55,92.91 126.80,88.81 127.05,89.28 127.30,93.97 127.55,98.19 127.80,100.73 128.05,102.02 128.30,102.61 128.55,102.68 128.80,102.54 129.05,101.86 129.30,100.71 129.55,98.89 129.80,97.02 130.05,96.46 130.30,97.80 130.55,99.79 130.80,101.60 131.05,102.79 131.30,103.45 131.55,103.86 131.80,104.02 132.05,104.19 132.30,104.40 132.55,104.55 132.80,104.63 133.05,104.80 133.30,104.83 133.55,104.87 133.80,104.90 134.05,104.90 134.30,104.91 134.55,104.89 134.80,104.80 135.05,104.72 135.30,104.74 135.55,104.63 135.80,104.67 136.05,104.68 136.30,104.66 136.55,104.66 136.80,104.75 137.05,104.80 137.30,104.77 137.55,104.84 137.80,104.87 138.05,104.87 138.30,104.75 138.55,104.83 138.80,104.81 139.05,104.74 139.30,104.71 139.55,104.81 139.80,104.87 140.05,104.87 140.30,104.94 140.55,105.08 140.80,105.10 141.05,104.99 141.30,105.05 141.55,105.06 141.80,105.14 142.05,105.10 142.30,105.18 142.55,105.20 142.80,105.20 143.05,105.02 143.30,105.03 143.55,105.05 143.80,104.99 144.05,104.97 144.30,104.98 144.55,104.98 144.80,104.92 145.05,104.98 145.30,104.94 145.55,104.96 145.80,104.92 146.05,104.91 146.30,104.88 146.55,105.01 146.80,105.00 147.05,105.06 147.30,105.01 147.55,104.97 147.80,104.90 148.05,104.95 148.30,104.93 148.55,104.87 148.80,105.00 149.05,105.03 149.30,104.93 149.55,104.79 149.80,104.74 150.05,104.50 150.30,104.17 150.55,103.97 150.80,103.68 151.05,103.48 151.30,103.14 151.55,103.07 151.80,103.36 152.05,103.77 152.30,104.00 152.55,104.30 152.80,104.57 153.05,104.60 153.30,104.69 153.55,104.73 153.80,104.71 154.05,104.70 154.30,104.75 154.55,104.85 154.80,104.90 155.05,104.96 155.30,105.00 155.55,105.03 155.80,104.84 156.05,104.81 156.30,104.73 156.55,104.64 156.80,104.57 157.05,104.68 157.30,104.71 157.55,104.83 157.80,104.98 158.05,105.05 158.30,105.07 158.55,105.06 158.80,105.15 159.05,105.15 159.30,105.10 159.55,105.05 159.80,105.11 160.05,105.06 160.30,104.98 160.55,105.07 160.80,105.04 161.05,104.99 161.30,104.99 161.55,104.98 161.80,104.93 162.05,104.99 162.30,104.99 162.55,104.84 162.80,104.86 163.05,104.86 163.30,104.87 163.55,104.92 163.80,105.06 164.05,105.06 164.30,105.04 164.55,105.12 164.80,105.12 165.05,105.08 165.30,105.08 165.55,105.15 165.80,105.12 166.05,105.07 166.30,105.09 166.55,105.10 166.80,105.05 167.05,105.09 167.30,105.02 167.55,105.04 167.80,104.98 168.05,104.95 168.30,104.89 168.55,104.89 168.80,104.80 169.05,104.79 169.30,104.79 169.55,104.76 169.80,104.88 170.05,104.89 170.30,104.99 170.55,104.95 170.80,105.03 171.05,104.94 171.30,104.93 171.55,104.88 171.80,104.92 172.05,104.77 172.30,104.67 172.55,104.68 172.80,104.63 173.05,104.48 173.30,104.21 173.55,103.95 173.80,103.40 174.05,102.47 174.30,101.62 174.55,101.42 174.80,101.93 175.05,102.71 175.30,103.50 175.55,104.08 175.80,104.41 176.05,104.67 176.30,104.83 176.55,104.87 176.80,104.76 177.05,104.77 177.30,104.76 177.55,104.76 177.80,104.77 178.05,105.01 178.30,104.92 178.55,104.94 178.80,104.96 179.05,105.04 179.30,105.02 179.55,105.14 179.80,105.12 180.05,105.07 180.30,105.07 180.55,105.02 180.80,105.03 181.05,104.96 181.30,104.90 181.55,104.86 181.80,104.87 182.05,104.75 182.30,104.76 182.55,104.81 182.80,104.82 183.05,104.81 183.30,104.94 183.55,104.98 183.80,105.01 184.05,105.06 184.30,105.02 184.55,105.08 184.80,105.06 185.05,105.03 185.30,104.85 185.55,104.84 185.80,104.65 186.05,104.58 186.30,104.50 186.55,104.42 186.80,104.27 187.05,104.00 187.30,103.85 187.55,103.86 187.80,104.02 188.05,104.22 188.30,104.46 188.55,104.56 188.80,104.67 189.05,104.79 189.30,104.86 189.55,104.93 189.80,105.08 190.05,105.01 190.30,105.00 190.55,105.00 190.80,104.96 191.05,104.98 191.30,105.01 191.55,105.02 191.80,104.91 192.05,104.89 192.30,104.80 192.55,104.82 192.80,104.84 193.05,104.93 193.30,104.98 193.55,105.03 193.80,104.99 194.05,104.94 194.30,104.94 194.55,104.91 194.80,104.89 195.05,104.83 195.30,104.77 195.55,104.78 195.80,104.77 196.05,104.77 196.30,104.85 196.55,104.87 196.80,104.90 197.05,104.94 197.30,104.87 197.55,104.82 197.80,104.81 198.05,104.64 198.30,104.64 198.55,104.63 198.80,104.52 199.05,104.40 199.30,104.46 199.55,104.30 199.80,104.24 200.05,104.04 200.30,103.59 200.55,102.71 200.80,101.35 201.05,99.38 201.30,98.42 201.55,99.28 201.80,100.89 202.05,102.07 202.30,102.97 202.55,103.28 202.80,103.45 203.05,103.56 203.30,103.57 203.55,103.24 203.80,102.62 204.05,101.58 204.30,99.40 204.55,96.23 204.80,92.76 205.05,91.65 205.30,94.18 205.55,97.85 205.80,100.50 206.05,101.97 206.30,102.72 206.55,103.15 206.80,103.13 207.05,102.82 207.30,102.04 207.55,100.52 207.80,98.70 208.05,98.03 208.30,99.23 208.55,100.84 208.80,102.02 209.05,102.57 209.30,102.78 209.55,102.53 209.80,101.88 210.05,100.64 210.30,98.59 210.55,95.53 210.80,92.40 211.05,91.37 211.30,93.50 211.55,96.76 211.80,99.54 212.05,101.47 212.30,102.58 212.55,103.24 212.80,103.72 213.05,104.01 213.30,104.07 213.55,104.22 213.80,104.35 214.05,104.42 214.30,104.60 214.55,104.65 214.80,104.74 215.05,104.78 215.30,104.81 215.55,104.70 215.80,104.77 216.05,104.72 216.30,104.71 216.55,104.77 216.80,104.77 217.05,104.78 217.30,104.87 217.55,104.89 217.80,104.91 218.05,104.86 218.30,104.80 218.55,104.73 218.80,104.77 219.05,104.84 219.30,104.89 219.55,104.96 219.80,105.09 220.05,105.08 220.30,104.88 220.55,104.85 220.80,104.81 221.05,104.65 221.30,104.66 221.55,104.74 221.80,104.87 222.05,104.93 222.30,105.02 222.55,105.01 222.80,104.96 223.05,104.76 223.30,104.71 223.55,104.59 223.80,104.60 224.05,104.72 224.30,104.78 224.55,104.81 224.80,104.87 225.05,104.77 225.30,104.68 225.55,104.67 225.80,104.66 226.05,104.68 226.30,104.77 226.55,104.68 226.80,104.65 227.05,104.58 227.30,104.39 227.55,104.06 227.80,103.61 228.05,102.63 228.30,101.03 228.55,99.31 228.80,99.10 229.05,100.64 229.30,102.24 229.55,103.33 229.80,103.96 230.05,104.29 230.30,104.39 230.55,104.54 230.80,104.59 231.05,104.64 231.30,104.79 231.55,104.83 231.80,104.79 232.05,104.83 232.30,104.93 232.55,104.89 232.80,104.91 233.05,104.95 233.30,104.99 233.55,104.90 233.80,104.80 234.05,104.86 234.30,104.89 234.55,104.86 234.80,104.91 235.05,104.90 235.30,104.85 235.55,104.84 235.80,104.94 236.05,104.93 236.30,104.99 236.55,104.96 236.80,104.91 237.05,104.92 237.30,105.03 237.55,105.04 237.80,104.99 238.05,105.05 238.30,104.99 238.55,104.89 238.80,104.80 239.05,104.96 239.30,104.88 239.55,104.91 239.80,104.90 240.05,104.97 240.30,104.93 240.55,104.94 240.80,104.87 241.05,104.90 241.30,104.98 241.55,104.98 241.80,105.04 242.05,105.00 242.30,105.06 242.55,104.98 242.80,104.95 243.05,104.85 243.30,104.90 243.55,104.87 243.80,104.87 244.05,104.89 244.30,105.05 244.55,105.14 244.80,105.08 245.05,105.02 245.30,104.87 245.55,104.78 245.80,104.62 246.05,104.67 246.30,104.64 246.55,104.82 246.80,104.84 247.05,104.84 247.30,104.83 247.55,104.97 247.80,104.94 248.05,104.94 248.30,105.05 248.55,105.06 248.80,105.02 249.05,104.99 249.30,104.93 249.55,104.93 249.80,104.84 250.05,104.85 250.30,104.78 250.55,104.90 250.80,104.87 251.05,104.88 251.30,104.90 251.55,104.95 251.80,104.93 252.05,104.93 252.30,104.98 252.55,104.95 252.80,104.88 253.05,104.87 253.30,104.90 253.55,104.85 253.80,104.89 254.05,105.03 254.30,105.06 254.55,105.09 254.80,105.18 255.05,105.14 255.30,105.19 255.55,105.15 255.80,105.06 256.05,105.09 256.30,105.08 256.55,105.01 256.80,104.97 257.05,105.06 257.30,105.05 257.55,105.07 257.80,105.05 258.05,105.13 258.30,105.07 258.55,105.03 258.80,105.05 259.05,104.99 259.30,104.90 259.55,104.92 259.80,104.92 260.05,104.97 260.30,105.02 260.55,105.11 260.80,105.08 261.05,105.14 261.30,105.06 261.55,105.07 261.80,105.03 262.05,105.03 262.30,105.05 262.55,105.11 262.80,105.02 263.05,105.04 263.30,105.03 263.55,105.02 263.80,104.95 264.05,105.01 264.30,104.96 264.55,104.95 264.80,104.88 265.05,104.97 265.30,105.02 265.55,105.03 265.80,105.02 266.05,104.99 266.30,104.90 266.55,104.89 266.80,104.79 267.05,104.80 267.30,104.66 267.55,104.55 267.80,104.27 268.05,104.07 268.30,103.74 268.55,103.20 268.80,102.34 269.05,101.27 269.30,100.42 269.55,100.48 269.80,101.53 270.05,102.65 270.30,103.50 270.55,104.05 270.80,104.41 271.05,104.50 271.30,104.62 271.55,104.64 271.80,104.64 272.05,104.68 272.30,104.76 272.55,104.76 272.80,104.78 273.05,104.87 273.30,104.96 273.55,105.00 273.80,105.05 274.05,105.10 274.30,105.14 274.55,105.02 274.80,105.15 275.05,105.13 275.30,105.15 275.55,105.15 275.80,105.12 276.05,104.94 276.30,104.89 276.55,104.88 276.80,104.91 277.05,104.92 277.30,105.08 277.55,105.17 277.80,105.26 278.05,105.18 278.30,105.15 278.55,104.97 278.80,104.99 279.05,104.89 279.30,104.90 279.55,104.99 279.80,105.13 280.05,105.13 280.30,105.16 280.55,105.15 280.80,105.19 281.05,105.06 281.30,104.96 281.55,104.87 281.80,104.82 282.05,104.69 282.30,104.79 282.55,104.81 282.80,104.97 283.05,105.00 283.30,105.09 283.55,105.02 283.80,105.07 284.05,105.01 284.30,105.01 284.55,105.01 284.80,104.99 285.05,104.92 285.30,104.84 285.55,104.90 285.80,104.83 286.05,104.81 286.30,104.88 286.55,104.92 286.80,104.80 287.05,104.78 287.30,104.80 287.55,104.68 287.80,104.66 288.05,104.65 288.30,104.62 288.55,104.65 288.80,104.72 289.05,104.68 289.30,104.49 289.55,104.22 289.80,103.73 290.05,103.58 290.30,103.85 290.55,104.32 290.80,104.68 291.05,104.92 291.30,104.92 291.55,104.90 291.80,104.88 292.05,104.73 292.30,104.76 292.55,104.74 292.80,104.83 293.05,104.85 293.30,104.87 293.55,104.79 293.80,104.80 294.05,104.74 294.30,104.71 294.55,104.73 294.80,104.64 295.05,104.57 295.30,104.49 295.55,104.39 295.80,104.30 296.05,104.12 296.30,103.92 296.55,103.73 296.80,103.57 297.05,103.17 297.30,102.54 297.55,101.44 297.80,99.31 298.05,95.82 298.30,91.51 298.55,88.67 298.80,90.04 299.05,94.15 299.30,97.98 299.55,100.63 299.80,102.05 300.05,102.86 300.30,103.44 300.55,103.77 300.80,103.92 301.05,104.15 301.30,104.28 301.55,104.40 301.80,104.52 302.05,104.65 302.30,104.71 302.55,104.73 302.80,104.74 303.05,104.83 303.30,104.80 303.55,104.75 303.80,104.78 304.05,104.82 304.30,104.75 304.55,104.74 304.80,104.70 305.05,104.71 305.30,104.56 305.55,104.59 305.80,104.56 306.05,104.53 306.30,104.55 306.55,104.59 306.80,104.51 307.05,104.43 307.30,104.43 307.55,104.25 307.80,104.02 308.05,103.67 308.30,103.14 308.55,102.04 308.80,100.48 309.05,98.44 309.30,96.76 309.55,96.96 309.80,98.82 310.05,100.82 310.30,102.31 310.55,103.27 310.80,103.81 311.05,104.18 311.30,104.23 311.55,104.29 311.80,104.38 312.05,104.48 312.30,104.53 312.55,104.63 312.80,104.65 313.05,104.59 313.30,104.58 313.55,104.54 313.80,104.59 314.05,104.72 314.30,104.80 314.55,104.88 314.80,104.89 315.05,104.87 315.30,104.84 315.55,104.79 315.80,104.85 316.05,104.85 316.30,104.92 316.55,104.88 316.80,104.90 317.05,104.72 317.30,104.68 317.55,104.53 317.80,104.43 318.05,104.54 318.30,104.55 318.55,104.61 318.80,104.76 319.05,104.86 319.30,104.81 319.55,104.89 319.80,104.89 320.05,104.82 320.30,104.78 320.55,104.71 320.80,104.67 321.05,104.61 321.30,104.60 321.55,104.63 321.80,104.63 322.05,104.54 322.30,104.45 322.55,104.29 322.80,103.87 323.05,103.35 323.30,102.55 323.55,101.34 323.80,99.36 324.05,97.38 324.30,96.41 324.55,97.48 324.80,99.43 325.05,101.24 325.30,102.56 325.55,103.35 325.80,103.77 326.05,104.08 326.30,104.38 326.55,104.44 326.80,104.50 327.05,104.58 327.30,104.59 327.55,104.55 327.80,104.57 328.05,104.58 328.30,104.50 328.55,104.55 328.80,104.59 329.05,104.57 329.30,104.54 329.55,104.51 329.80,104.47 330.05,104.43 330.30,104.26 330.55,103.98 330.80,103.55 331.05,102.94 331.30,101.96 331.55,100.45 331.80,98.02 332.05,95.17 332.30,92.79 332.55,93.07 332.80,95.74 333.05,98.74 333.30,100.91 333.55,102.28 333.80,103.14 334.05,103.65 334.30,103.91 334.55,104.05 334.80,104.09 335.05,104.25 335.30,104.34 335.55,104.48 335.80,104.54 336.05,104.62 336.30,104.50 336.55,104.49 336.80,104.48 337.05,104.50 337.30,104.61 337.55,104.78 337.80,104.78 338.05,104.77 338.30,104.86 338.55,104.71 338.80,104.66 339.05,104.76 339.30,104.81 339.55,104.75 339.80,104.90 340.05,104.89 340.30,104.81 340.55,104.82 340.80,104.84 341.05,104.84 341.30,104.93 341.55,105.04 341.80,104.91 342.05,104.94 342.30,104.94 342.55,104.92 342.80,104.84 343.05,104.94 343.30,104.95 343.55,104.88 343.80,104.75 344.05,104.80 344.30,104.85 344.55,104.77 344.80,104.87 345.05,104.91 345.30,104.89 345.55,104.79 345.80,104.84 346.05,104.75 346.30,104.77 346.55,104.76 346.80,104.85 347.05,104.80 347.30,104.91 347.55,104.89 347.80,104.78 348.05,104.73 348.30,104.87 348.55,104.76 348.80,104.72 349.05,104.76 349.30,104.78 349.55,104.70 349.80,104.74 350.05,104.85 350.30,104.97 350.55,104.94 350.80,104.92 351.05,104.88 351.30,104.82 351.55,104.75 351.80,104.72 352.05,104.61 352.30,104.60 352.55,104.60 352.80,104.47 353.05,104.44 353.30,104.42 353.55,104.12 353.80,103.78 354.05,103.38 354.30,102.81 354.55,102.11 354.80,101.42 355.05,100.52 355.30,99.40 355.55,98.41 355.80,97.66 356.05,97.50 356.30,97.91 356.55,98.83 356.80,99.88 357.05,100.94 357.30,101.79 357.55,102.51 357.80,103.10 358.05,103.46 358.30,103.69 358.55,103.83 358.80,103.99 359.05,104.18 359.30,104.36 359.55,104.50 359.80,104.60 360.05,104.68 360.30,104.70 360.55,104.65 360.80,104.71 361.05,104.74 361.30,104.72 361.55,104.81 361.80,104.90 362.05,104.91 362.30,105.03 362.55,105.10 362.80,105.10 363.05,105.08 363.30,104.96 363.55,104.74 363.80,104.64 364.05,104.72 364.30,104.71 364.55,104.79 364.80,104.95 365.05,105.06 365.30,104.97 365.55,105.01 365.80,105.05 366.05,105.01 366.30,104.93 366.55,104.79 366.80,104.76 367.05,104.74 367.30,104.78 367.55,104.86 367.80,104.90 368.05,104.85 368.30,104.88 368.55,104.79 368.80,104.75 369.05,104.82 369.30,104.90 369.55,104.82 369.80,104.94 370.05,104.86 370.30,104.90 370.55,104.88 370.80,104.90 371.05,104.87 371.30,105.00 371.55,104.90 371.80,104.89 372.05,104.85 372.30,104.89 372.55,104.86 372.80,104.87 373.05,104.86 373.30,104.87 373.55,104.82 373.80,104.83 374.05,104.85 374.30,104.86 374.55,104.83 374.80,104.91 375.05,104.79 375.30,104.82 375.55,104.80 375.80,104.93 376.05,104.82 376.30,104.85 376.55,104.77 376.80,104.83 377.05,104.67 377.30,104.74 377.55,104.80 377.80,104.91 378.05,104.75 378.30,104.71 378.55,104.53 378.80,104.37 379.05,104.03 379.30,103.92 379.55,103.68 379.80,103.54 380.05,103.44 380.30,103.61 380.55,103.74 380.80,104.07 381.05,104.15 381.30,104.38 381.55,104.48 381.80,104.57 382.05,104.57 382.30,104.75 382.55,104.76 382.80,104.80 383.05,104.78 383.30,104.93 383.55,104.90 383.80,104.92 384.05,104.93 384.30,105.04 384.55,105.02 384.80,105.09 385.05,105.15 385.30,105.26 385.55,105.10 385.80,105.00 386.05,104.88 386.30,104.83 386.55,104.76 386.80,104.80 387.05,104.91 387.30,104.97 387.55,105.01 387.80,104.95 388.05,105.03 388.30,104.98 388.55,104.89 388.80,104.74 389.05,104.65 389.30,104.42 389.55,104.19 389.80,103.95 390.05,103.92 390.30,104.03 390.55,104.17 390.80,104.37 391.05,104.51 391.30,104.53 391.55,104.66 391.80,104.80 392.05,104.77 392.30,104.96 392.55,105.02 392.80,104.96 393.05,104.95 393.30,105.02 393.55,104.98 393.80,104.96 394.05,104.95 394.30,104.98 394.55,105.01 394.80,105.00 395.05,105.09 395.30,105.16 395.55,105.08 395.80,105.02 396.05,105.11 396.30,105.06 396.55,105.05 396.80,105.04 397.05,105.20 397.30,105.06 397.55,105.11 397.80,105.10 398.05,105.09 398.30,104.92 398.55,105.02 398.80,104.95 399.05,104.97 399.30,105.04 399.55,105.11 399.80,105.17 400.05,105.15 400.30,105.12 400.55,105.10 400.80,104.99 401.05,104.87 401.30,104.94 401.55,104.94 401.80,105.00 402.05,104.94 402.30,104.91 402.55,104.79 402.80,104.78 403.05,104.80 403.30,104.93 403.55,104.93 403.80,105.05 404.05,105.08 404.30,105.06 404.55,105.02 404.80,105.03 405.05,105.08 405.30,105.03 405.55,105.01 405.80,105.04 406.05,105.09 406.30,105.06 406.55,105.04 406.80,105.02 407.05,105.00 407.30,104.98 407.55,104.98 407.80,104.92 408.05,105.02 408.30,104.98 408.55,104.97 408.80,104.89 409.05,104.93 409.30,104.85 409.55,104.93 409.80,104.94 410.05,105.04 410.30,105.05 410.55,105.13 410.80,105.02 411.05,105.02 411.30,105.00 411.55,104.99 411.80,104.91 412.05,104.94 412.30,104.95 412.55,104.91 412.80,104.97 413.05,104.99 413.30,105.06 413.55,105.04 413.80,105.02 414.05,105.02 414.30,105.04 414.55,105.00 414.80,104.94 415.05,104.95 415.30,104.97 415.55,104.85 415.80,104.88 416.05,104.92 416.30,104.99 416.55,104.86 416.80,104.97 417.05,104.90 417.30,104.94 417.55,104.99 417.80,105.05 418.05,105.12 418.30,105.18 418.55,105.18 418.80,105.21 419.05,105.28 419.30,105.21 419.55,105.08 419.80,105.01 420.05,104.91 420.30,104.82 420.55,104.74 420.80,104.88 421.05,104.84 421.30,104.76 421.55,104.83 421.80,104.97 422.05,104.90 422.30,104.97 422.55,105.04 422.80,104.95 423.05,104.78 423.30,104.80 423.55,104.68 423.80,104.52 424.05,104.52 424.30,104.31 424.55,104.19 424.80,104.16 425.05,104.12 425.30,104.19 425.55,104.48 425.80,104.51 426.05,104.56 426.30,104.67 426.55,104.76 426.80,104.74 427.05,104.76 427.30,104.79 427.55,104.80 427.80,104.85 428.05,104.89 428.30,104.92 428.55,104.91 428.80,104.90 429.05,104.70 429.30,104.73 429.55,104.73 429.80,104.75 430.05,104.85 430.30,105.01 430.55,105.04 430.80,105.04 431.05,105.05 431.30,104.96 431.55,104.89 431.80,104.84 432.05,104.86 432.30,104.92 432.55,104.91 432.80,104.99 433.05,105.02 433.30,105.05 433.55,105.02 433.80,105.04 434.05,104.95 434.30,104.98 434.55,104.97 434.80,105.16 435.05,105.12 435.30,105.07 435.55,105.08 435.80,105.07 436.05,104.82 436.30,104.82 436.55,104.88 436.80,104.77 437.05,104.83 437.30,104.82 437.55,104.87 437.80,104.91 438.05,104.96 438.30,104.89 438.55,104.86 438.80,104.78 439.05,104.66 439.30,104.68 439.55,104.66 439.80,104.68 440.05,104.76 440.30,104.84 440.55,104.83 440.80,104.86 441.05,104.84 441.30,104.74 441.55,104.69 441.80,104.57 442.05,104.44 442.30,104.27 442.55,104.11 442.80,103.70 443.05,102.76 443.30,100.79 443.55,97.41 443.80,94.96 444.05,97.39 444.30,100.79 444.55,102.77 444.80,103.61 445.05,104.09 445.30,104.21 445.55,104.33 445.80,104.35 446.05,104.45 446.30,104.31 446.55,104.12 446.80,103.79 447.05,103.24 447.30,102.48 447.55,102.28 447.80,102.92 448.05,103.56 448.30,104.02 448.55,104.27 448.80,104.14 449.05,103.78 449.30,103.24 449.55,102.77 449.80,102.68 450.05,103.27 450.30,103.92 450.55,104.49 450.80,104.66 451.05,104.88 451.30,105.03 451.55,105.23 451.80,105.13 452.05,105.11 452.30,105.00 452.55,104.98 452.80,104.75 453.05,104.85 453.30,104.78 453.55,104.87 453.80,104.87 454.05,104.99 454.30,104.98 454.55,105.09 454.80,105.05 455.05,104.92 455.30,104.82 455.55,104.79 455.80,104.87 456.05,104.85 456.30,104.86 456.55,104.97 456.80,104.90 457.05,104.79 457.30,104.70 457.55,104.57 457.80,104.45 458.05,104.41 458.30,104.34 458.55,104.21 458.80,104.20 459.05,103.93 459.30,103.58 459.55,103.06 459.80,102.66 460.05,102.51 460.30,102.61 460.55,103.03 460.80,103.52 461.05,103.84 461.30,104.05 461.55,104.39 461.80,104.50 462.05,104.64 462.30,104.79 462.55,104.92 462.80,104.85 463.05,104.94 463.30,104.91 463.55,104.86 463.80,104.69 464.05,104.55 464.30,104.37 464.55,104.10 464.80,103.92 465.05,103.73 465.30,103.41 465.55,102.98 465.80,102.64 466.05,102.52 466.30,102.76 466.55,103.13 466.80,103.55 467.05,103.91 467.30,104.20 467.55,104.35 467.80,104.48 468.05,104.65 468.30,104.74 468.55,104.77 468.80,104.88 469.05,104.90 469.30,104.81 469.55,104.71 469.80,104.48 470.05,104.23 470.30,104.02 470.55,103.72 470.80,103.46 471.05,103.44 471.30,103.53 471.55,103.83 471.80,103.98 472.05,104.22 472.30,104.37 472.55,104.52 472.80,104.57 473.05,104.71 473.30,104.65 473.55,104.59 473.80,104.54 474.05,104.50 474.30,104.52 474.55,104.60 474.80,104.71 475.05,104.83 475.30,104.85 475.55,104.80 475.80,104.80 476.05,104.77 476.30,104.85 476.55,104.93 476.80,104.96 477.05,104.98 477.30,105.09 477.55,105.01 477.80,105.02 478.05,105.08 478.30,105.11 478.55,105.08 478.80,105.04 479.05,104.95 479.30,104.92 479.55,104.96 479.80,104.95 480.05,104.91 480.30,105.01 480.55,105.05 480.80,105.04 481.05,105.04 481.30,105.11 481.55,104.96 481.80,104.95 482.05,104.81 482.30,104.78 482.55,104.87 482.80,104.98 483.05,104.99 483.30,105.05 483.55,105.08 483.80,104.92 484.05,104.90 484.30,104.89 484.55,104.90 484.80,104.83 485.05,104.78 485.30,104.76 485.55,104.70 485.80,104.68 486.05,104.76 486.30,104.79 486.55,104.86 486.80,104.83 487.05,104.99 487.30,105.03 487.55,105.16 487.80,105.07 488.05,105.15 488.30,105.03 488.55,104.94 488.80,104.88 489.05,104.98 489.30,104.98 489.55,105.07 489.80,105.16 490.05,105.19 490.30,105.17 490.55,105.17 490.80,105.01 491.05,104.97 491.30,104.93 491.55,104.97 491.80,105.02 492.05,104.96 492.30,104.94 492.55,104.92 492.80,104.93 493.05,104.87 493.30,105.01 493.55,105.04 493.80,105.04 494.05,104.96 494.30,105.04 494.55,104.99 494.80,104.98 495.05,105.02 495.30,105.13 495.55,105.16 495.80,105.19 496.05,105.14 496.30,105.18 496.55,105.05 496.80,104.94 497.05,104.90 497.30,104.99 497.55,105.07 497.80,105.08 498.05,104.98 498.30,104.90 498.55,104.77 498.80,104.52 499.05,104.34 499.30,104.26 499.55,104.12 499.80,104.00 500.05,103.93 500.30,104.07 500.55,104.18 500.80,104.40 501.05,104.38 501.30,104.54 501.55,104.66 501.80,104.74 502.05,104.78 502.30,104.87 502.55,104.92 502.80,104.85 503.05,104.93 503.30,104.87 503.55,104.89 503.80,104.92 504.05,104.91 504.30,104.92 504.55,105.03 504.80,105.06 505.05,104.91 505.30,105.04 505.55,104.94 505.80,104.90 506.05,104.91 506.30,105.11 506.55,105.02 506.80,105.04 507.05,105.08 507.30,105.14 507.55,105.01 507.80,105.04 508.05,105.08 508.30,105.06 508.55,104.96 508.80,105.03 509.05,105.03 509.30,105.16 509.55,105.05 509.80,105.16 510.05,105.14 510.30,105.06 510.55,104.86 510.80,104.96 511.05,104.87"/>
<polyline fill="none" stroke="#1414d2" stroke-width="1.75" stroke-linejoin="round" points="39.05,132.97 39.30,132.90 39.55,132.92 39.80,132.80 40.05,132.81 40.30,132.68 40.55,132.86 40.80,132.84 41.05,132.91 41.30,133.03 41.55,133.13 41.80,132.98 42.05,132.99 42.30,132.98 42.55,132.91 42.80,132.74 43.05,132.84 43.30,132.85 43.55,132.82 43.80,133.03 44.05,133.08 44.30,133.02 44.55,132.99 44.80,132.98 45.05,132.78 45.30,132.93 45.55,132.88 45.80,132.76 46.05,132.77 46.30,132.72 46.55,132.61 46.80,132.63 47.05,132.73 47.30,132.88 47.55,132.93 47.80,133.07 48.05,133.10 48.30,133.07 48.55,132.84 48.80,132.85 49.05,132.76 49.30,132.90 49.55,132.84 49.80,132.90 50.05,132.87 50.30,132.83 50.55,132.69 50.80,132.73 51.05,132.76 51.30,132.73 51.55,132.69 51.80,132.70 52.05,132.81 52.30,132.78 52.55,132.73 52.80,132.76 53.05,132.74 53.30,132.68 53.55,132.78 53.80,132.82 54.05,132.83 54.30,132.79 54.55,132.89 54.80,132.84 55.05,132.88 55.30,132.85 55.55,132.93 55.80,132.77 56.05,132.81 56.30,132.88 56.55,132.96 56.80,132.92 57.05,132.99 57.30,132.97 57.55,132.91 57.80,132.93 58.05,132.84 58.30,132.91 58.55,132.86 58.80,132.93 59.05,132.90 59.30,132.95 59.55,132.87 59.80,132.84 60.05,132.82 60.30,132.72 60.55,132.67 60.80,132.73 61.05,132.78 61.30,132.68 61.55,132.78 61.80,132.79 62.05,132.74 62.30,132.64 62.55,132.72 62.80,132.68 63.05,132.75 63.30,132.63 63.55,132.62 63.80,132.49 64.05,132.44 64.30,132.38 64.55,132.34 64.80,132.28 65.05,132.22 65.30,132.10 65.55,131.90 65.80,131.84 66.05,131.89 66.30,131.91 66.55,132.13 66.80,132.25 67.05,132.38 67.30,132.38 67.55,132.56 67.80,132.53 68.05,132.70 68.30,132.64 68.55,132.75 68.80,132.77 69.05,132.85 69.30,132.77 69.55,132.93 69.80,132.89 70.05,132.90 70.30,132.85 70.55,132.91 70.80,132.91 71.05,132.88 71.30,132.74 71.55,132.74 71.80,132.74 72.05,132.63 72.30,132.62 72.55,132.63 72.80,132.64 73.05,132.54 73.30,132.62 73.55,132.69 73.80,132.87 74.05,132.90 74.30,133.01 74.55,132.96 74.80,133.00 75.05,132.79 75.30,132.65 75.55,132.68 75.80,132.62 76.05,132.45 76.30,132.50 76.55,132.59 76.80,132.54 77.05,132.60 77.30,132.61 77.55,132.62 77.80,132.58 78.05,132.49 78.30,132.45 78.55,132.38 78.80,132.42 79.05,132.35 79.30,132.32 79.55,132.21 79.80,132.11 80.05,132.05 80.30,131.94 80.55,131.85 80.80,131.77 81.05,131.82 81.30,131.60 81.55,131.55 81.80,131.37 82.05,131.08 82.30,130.66 82.55,130.35 82.80,129.62 83.05,128.75 83.30,127.54 83.55,125.71 83.80,122.39 84.05,116.98 84.30,107.86 84.55,94.77 84.80,81.00 85.05,76.25 85.30,85.84 85.55,100.09 85.80,111.68 86.05,119.00 86.30,123.52 86.55,125.93 86.80,127.44 87.05,128.19 87.30,128.73 87.55,128.96 87.80,129.03 88.05,128.86 88.30,128.43 88.55,127.43 88.80,125.13 89.05,121.14 89.30,114.82 89.55,107.25 89.80,103.22 90.05,107.50 90.30,115.26 90.55,121.64 90.80,125.74 91.05,128.03 91.30,129.29 91.55,129.95 91.80,130.52 92.05,130.86 92.30,131.18 92.55,131.39 92.80,131.71 93.05,131.85 93.30,132.03 93.55,132.17 93.80,132.20 94.05,132.27 94.30,132.33 94.55,132.42 94.80,132.42 95.05,132.50 95.30,132.45 95.55,132.44 95.80,132.45 96.05,132.52 96.30,132.47 96.55,132.51 96.80,132.61 97.05,132.61 97.30,132.64 97.55,132.77 97.80,132.72 98.05,132.65 98.30,132.74 98.55,132.75 98.80,132.75 99.05,132.82 99.30,132.73 99.55,132.66 99.80,132.51 100.05,132.48 100.30,132.47 100.55,132.59 100.80,132.61 101.05,132.71 101.30,132.64 101.55,132.60 101.80,132.62 102.05,132.63 102.30,132.42 102.55,132.28 102.80,132.07 103.05,131.95 103.30,132.05 103.55,132.47 103.80,132.74 104.05,132.81 104.30,132.80 104.55,132.77 104.80,132.77 105.05,132.76 105.30,132.75 105.55,132.81 105.80,132.88 106.05,132.95 106.30,132.84 106.55,132.89 106.80,132.86 107.05,132.92 107.30,132.84 107.55,132.96 107.80,132.91 108.05,132.91 108.30,132.84 108.55,132.76 108.80,132.75 109.05,132.76 109.30,132.71 109.55,132.75 109.80,132.78 110.05,132.63 110.30,132.62 110.55,132.70 110.80,132.65 111.05,132.65 111.30,132.68 111.55,132.63 111.80,132.73 112.05,132.69 112.30,132.75 112.55,132.84 112.80,132.91 113.05,132.70 113.30,132.83 113.55,132.76 113.80,132.84 114.05,132.82 114.30,132.87 114.55,132.87 114.80,132.89 115.05,132.79 115.30,132.86 115.55,132.87 115.80,132.74 116.05,132.76 116.30,132.80 116.55,132.74 116.80,132.77 117.05,132.91 117.30,132.96 117.55,132.91 117.80,133.03 118.05,133.02 118.30,132.96 118.55,132.85 118.80,132.88 119.05,132.83 119.30,132.84 119.55,132.74 119.80,132.80 120.05,132.75 120.30,132.71 120.55,132.64 120.80,132.73 121.05,132.66 121.30,132.71 121.55,132.68 121.80,132.72 122.05,132.69 122.30,132.75 122.55,132.76 122.80,132.72 123.05,132.71 123.30,132.63 123.55,132.55 123.80,132.33 124.05,132.24 124.30,132.21 124.55,132.12 124.80,131.92 125.05,131.71 125.30,131.27 125.55,130.51 125.80,129.14 126.05,126.66 126.30,122.90 126.55,118.80 126.80,118.21 127.05,121.98 127.30,126.14 127.55,128.81 127.80,130.18 128.05,130.87 128.30,131.20 128.55,131.22 128.80,130.88 129.05,130.27 129.30,129.11 129.55,127.43 129.80,125.68 130.05,125.14 130.30,126.35 130.55,128.18 130.80,129.75 131.05,130.76 131.30,131.39 131.55,131.84 131.80,132.17 132.05,132.41 132.30,132.44 132.55,132.59 132.80,132.53 133.05,132.56 133.30,132.52 133.55,132.68 133.80,132.58 134.05,132.71 134.30,132.61 134.55,132.69 134.80,132.62 135.05,132.80 135.30,132.75 135.55,132.84 135.80,132.77 136.05,132.86 136.30,132.74 136.55,132.76 136.80,132.74 137.05,132.75 137.30,132.78 137.55,132.77 137.80,132.79 138.05,132.80 138.30,132.80 138.55,132.76 138.80,132.80 139.05,132.74 139.30,132.79 139.55,132.80 139.80,132.80 140.05,132.91 140.30,132.97 140.55,132.86 140.80,132.93 141.05,132.87 141.30,132.72 141.55,132.68 141.80,132.80 142.05,132.65 142.30,132.67 142.55,132.65 142.80,132.72 143.05,132.69 143.30,132.77 143.55,132.80 143.80,132.80 144.05,132.70 144.30,132.73 144.55,132.70 144.80,132.70 145.05,132.72 145.30,132.71 145.55,132.59 145.80,132.64 146.05,132.74 146.30,132.77 146.55,132.91 146.80,132.97 147.05,132.94 147.30,132.85 147.55,132.79 147.80,132.70 148.05,132.67 148.30,132.69 148.55,132.53 148.80,132.61 149.05,132.63 149.30,132.63 149.55,132.55 149.80,132.55 150.05,132.34 150.30,132.08 150.55,131.68 150.80,131.21 151.05,130.72 151.30,130.45 151.55,130.30 151.80,130.73 152.05,131.19 152.30,131.50 152.55,131.75 152.80,132.05 153.05,132.23 153.30,132.35 153.55,132.63 153.80,132.65 154.05,132.71 154.30,132.67 154.55,132.69 154.80,132.73 155.05,132.82 155.30,132.77 155.55,132.81 155.80,132.83 156.05,132.82 156.30,132.77 156.55,132.78 156.80,132.80 157.05,132.93 157.30,132.96 157.55,133.02 157.80,133.05 158.05,133.11 158.30,133.02 158.55,133.00 158.80,132.93 159.05,132.89 159.30,132.80 159.55,132.83 159.80,132.75 160.05,132.76 160.30,132.82 160.55,132.81 160.80,132.71 161.05,132.68 161.30,132.67 161.55,132.68 161.80,132.71 162.05,132.75 162.30,132.92 162.55,132.89 162.80,132.85 163.05,132.81 163.30,132.84 163.55,132.76 163.80,132.79 164.05,132.77 164.30,132.69 164.55,132.72 164.80,132.66 165.05,132.70 165.30,132.80 165.55,132.88 165.80,132.76 166.05,132.79 166.30,132.80 166.55,132.84 166.80,132.85 167.05,132.89 167.30,133.07 167.55,133.11 167.80,133.03 168.05,132.96 168.30,132.93 168.55,132.75 168.80,132.70 169.05,132.64 169.30,132.70 169.55,132.75 169.80,132.66 170.05,132.73 170.30,132.65 170.55,132.66 170.80,132.62 171.05,132.57 171.30,132.40 171.55,132.52 171.80,132.34 172.05,132.28 172.30,132.38 172.55,132.25 172.80,132.05 173.05,131.78 173.30,131.41 173.55,130.76 173.80,130.07 174.05,129.15 174.30,128.57 174.55,128.28 174.80,128.82 175.05,129.63 175.30,130.45 175.55,131.08 175.80,131.69 176.05,131.97 176.30,132.18 176.55,132.47 176.80,132.56 177.05,132.55 177.30,132.70 177.55,132.81 177.80,132.75 178.05,132.71 178.30,132.83 178.55,132.73 178.80,132.68 179.05,132.67 179.30,132.67 179.55,132.73 179.80,132.79 180.05,132.86 180.30,132.86 180.55,133.01 180.80,132.75 181.05,132.70 181.30,132.51 181.55,132.55 181.80,132.52 182.05,132.70 182.30,132.65 182.55,132.80 182.80,132.77 183.05,132.75 183.30,132.78 183.55,132.82 183.80,132.86 184.05,132.91 184.30,132.93 184.55,132.82 184.80,132.81 185.05,132.73 185.30,132.62 185.55,132.51 185.80,132.46 186.05,132.46 186.30,132.36 186.55,132.33 186.80,132.18 187.05,132.13 187.30,131.96 187.55,131.94 187.80,131.94 188.05,132.19 188.30,132.34 188.55,132.47 188.80,132.62 189.05,132.86 189.30,132.82 189.55,132.83 189.80,132.86 190.05,132.83 190.30,132.69 190.55,132.74 190.80,132.70 191.05,132.76 191.30,132.74 191.55,132.78 191.80,132.90 192.05,132.91 192.30,132.90 192.55,132.95 192.80,132.91 193.05,132.80 193.30,132.80 193.55,132.68 193.80,132.77 194.05,132.80 194.30,132.76 194.55,132.76 194.80,132.87 195.05,132.80 195.30,132.83 195.55,132.93 195.80,132.95 196.05,132.91 196.30,132.89 196.55,132.85 196.80,132.75 197.05,132.73 197.30,132.68 197.55,132.59 197.80,132.59 198.05,132.57 198.30,132.50 198.55,132.45 198.80,132.52 199.05,132.43 199.30,132.39 199.55,132.29 199.80,132.08 200.05,131.68 200.30,131.12 200.55,130.09 200.80,128.30 201.05,126.20 201.30,125.09 201.55,126.11 201.80,128.02 202.05,129.74 202.30,130.76 202.55,131.26 202.80,131.41 203.05,131.55 203.30,131.47 203.55,131.22 203.80,130.64 204.05,129.84 204.30,128.00 204.55,125.36 204.80,122.32 205.05,121.20 205.30,123.39 205.55,126.57 205.80,128.81 206.05,130.10 206.30,130.89 206.55,131.20 206.80,131.21 207.05,130.87 207.30,130.23 207.55,129.01 207.80,127.64 208.05,127.18 208.30,128.20 208.55,129.62 208.80,130.64 209.05,131.10 209.30,131.06 209.55,130.83 209.80,130.07 210.05,128.77 210.30,126.62 210.55,123.75 210.80,120.77 211.05,119.84 211.30,121.94 211.55,125.19 211.80,127.84 212.05,129.59 212.30,130.62 212.55,131.22 212.80,131.67 213.05,131.94 213.30,132.14 213.55,132.25 213.80,132.37 214.05,132.41 214.30,132.49 214.55,132.50 214.80,132.59 215.05,132.54 215.30,132.56 215.55,132.58 215.80,132.51 216.05,132.56 216.30,132.73 216.55,132.81 216.80,132.82 217.05,132.96 217.30,132.84 217.55,132.92 217.80,132.83 218.05,132.85 218.30,132.82 218.55,132.87 218.80,132.67 219.05,132.70 219.30,132.61 219.55,132.66 219.80,132.67 220.05,132.78 220.30,132.75 220.55,132.80 220.80,132.73 221.05,132.80 221.30,132.82 221.55,132.89 221.80,132.85 222.05,132.86 222.30,132.83 222.55,132.86 222.80,132.79 223.05,132.76 223.30,132.75 223.55,132.64 223.80,132.63 224.05,132.63 224.30,132.75 224.55,132.63 224.80,132.72 225.05,132.58 225.30,132.57 225.55,132.57 225.80,132.63 226.05,132.69 226.30,132.71 226.55,132.71 226.80,132.57 227.05,132.54 227.30,132.38 227.55,132.00 227.80,131.51 228.05,130.67 228.30,129.30 228.55,127.74 228.80,127.64 229.05,128.99 229.30,130.40 229.55,131.37 229.80,131.92 230.05,132.19 230.30,132.31 230.55,132.45 230.80,132.49 231.05,132.51 231.30,132.65 231.55,132.69 231.80,132.73 232.05,132.75 232.30,132.79 232.55,132.67 232.80,132.75 233.05,132.75 233.30,132.67 233.55,132.71 233.80,132.75 234.05,132.68 234.30,132.68 234.55,132.79 234.80,132.72 235.05,132.84 235.30,132.92 235.55,132.90 235.80,132.89 236.05,132.79 236.30,132.66 236.55,132.63 236.80,132.70 237.05,132.73 237.30,132.78 237.55,132.83 237.80,132.82 238.05,132.82 238.30,132.82 238.55,132.86 238.80,132.93 239.05,132.88 239.30,132.86 239.55,132.82 239.80,132.81 240.05,132.90 240.30,132.94 240.55,133.00 240.80,133.02 241.05,133.01 241.30,132.93 241.55,132.88 241.80,132.79 242.05,132.80 242.30,132.76 242.55,132.79 242.80,132.83 243.05,132.88 243.30,132.83 243.55,132.90 243.80,132.81 244.05,132.90 244.30,132.85 244.55,132.86 244.80,132.90 245.05,132.90 245.30,132.77 245.55,132.79 245.80,132.84 246.05,132.84 246.30,132.89 246.55,133.00 246.80,133.07 247.05,133.02 247.30,132.99 247.55,132.94 247.80,132.86 248.05,132.79 248.30,132.77 248.55,132.72 248.80,132.66 249.05,132.72 249.30,132.73 249.55,132.70 249.80,132.73 250.05,132.78 250.30,132.81 250.55,132.85 250.80,132.91 251.05,132.88 251.30,132.87 251.55,132.90 251.80,132.90 252.05,133.02 252.30,133.02 252.55,133.10 252.80,133.04 253.05,133.03 253.30,132.93 253.55,132.91 253.80,132.94 254.05,132.88 254.30,132.87 254.55,133.01 254.80,132.99 255.05,132.90 255.30,132.98 255.55,132.86 255.80,132.76 256.05,132.75 256.30,132.67 256.55,132.65 256.80,132.69 257.05,132.70 257.30,132.80 257.55,132.93 257.80,132.88 258.05,132.88 258.30,132.85 258.55,132.71 258.80,132.69 259.05,132.76 259.30,132.86 259.55,132.84 259.80,132.88 260.05,132.91 260.30,132.80 260.55,132.75 260.80,132.73 261.05,132.65 261.30,132.55 261.55,132.56 261.80,132.47 262.05,132.38 262.30,132.23 262.55,132.07 262.80,131.86 263.05,131.76 263.30,131.87 263.55,132.07 263.80,132.29 264.05,132.49 264.30,132.53 264.55,132.52 264.80,132.58 265.05,132.52 265.30,132.53 265.55,132.68 265.80,132.80 266.05,132.83 266.30,132.89 266.55,132.83 266.80,132.76 267.05,132.64 267.30,132.66 267.55,132.49 267.80,132.40 268.05,132.19 268.30,131.96 268.55,131.49 268.80,130.93 269.05,130.00 269.30,129.35 269.55,129.40 269.80,130.16 270.05,130.90 270.30,131.66 270.55,132.12 270.80,132.39 271.05,132.37 271.30,132.44 271.55,132.52 271.80,132.52 272.05,132.48 272.30,132.56 272.55,132.63 272.80,132.60 273.05,132.53 273.30,132.59 273.55,132.72 273.80,132.80 274.05,132.77 274.30,132.79 274.55,132.83 274.80,132.72 275.05,132.73 275.30,132.78 275.55,132.76 275.80,132.73 276.05,132.77 276.30,132.61 276.55,132.66 276.80,132.75 277.05,132.75 277.30,132.80 277.55,132.89 277.80,132.77 278.05,132.81 278.30,132.79 278.55,132.82 278.80,132.78 279.05,132.78 279.30,132.83 279.55,132.86 279.80,132.78 280.05,132.92 280.30,132.96 280.55,132.81 280.80,132.78 281.05,132.82 281.30,132.76 281.55,132.69 281.80,132.76 282.05,132.76 282.30,132.73 282.55,132.68 282.80,132.77 283.05,132.75 283.30,132.84 283.55,132.81 283.80,132.88 284.05,132.79 284.30,132.73 284.55,132.69 284.80,132.67 285.05,132.61 285.30,132.63 285.55,132.78 285.80,132.77 286.05,132.84 286.30,132.80 286.55,132.83 286.80,132.73 287.05,132.70 287.30,132.70 287.55,132.74 287.80,132.70 288.05,132.81 288.30,132.85 288.55,132.73 288.80,132.63 289.05,132.58 289.30,132.25 289.55,131.86 289.80,131.45 290.05,131.28 290.30,131.56 290.55,131.97 290.80,132.24 291.05,132.40 291.30,132.41 291.55,132.45 291.80,132.57 292.05,132.56 292.30,132.67 292.55,132.79 292.80,132.75 293.05,132.64 293.30,132.69 293.55,132.59 293.80,132.64 294.05,132.70 294.30,132.75 294.55,132.68 294.80,132.57 295.05,132.53 295.30,132.53 295.55,132.43 295.80,132.29 296.05,132.26 296.30,132.13 296.55,131.88 296.80,131.60 297.05,131.24 297.30,130.65 297.55,129.53 297.80,127.57 298.05,124.58 298.30,120.76 298.55,118.15 298.80,119.36 299.05,123.09 299.30,126.48 299.55,128.91 299.80,130.17 300.05,130.86 300.30,131.49 300.55,131.80 300.80,131.88 301.05,132.11 301.30,132.25 301.55,132.31 301.80,132.53 302.05,132.66 302.30,132.63 302.55,132.70 302.80,132.63 303.05,132.66 303.30,132.67 303.55,132.72 303.80,132.76 304.05,132.75 304.30,132.65 304.55,132.62 304.80,132.62 305.05,132.59 305.30,132.62 305.55,132.55 305.80,132.47 306.05,132.42 306.30,132.48 306.55,132.41 306.80,132.38 307.05,132.37 307.30,132.38 307.55,132.22 307.80,131.99 308.05,131.75 308.30,131.39 308.55,130.57 308.80,129.42 309.05,128.01 309.30,126.78 309.55,126.86 309.80,128.20 310.05,129.67 310.30,130.87 310.55,131.65 310.80,132.08 311.05,132.32 311.30,132.54 311.55,132.58 311.80,132.53 312.05,132.63 312.30,132.72 312.55,132.62 312.80,132.58 313.05,132.58 313.30,132.63 313.55,132.64 313.80,132.75 314.05,132.81 314.30,132.88 314.55,132.83 314.80,132.82 315.05,132.69 315.30,132.67 315.55,132.68 315.80,132.64 316.05,132.65 316.30,132.72 316.55,132.73 316.80,132.73 317.05,132.81 317.30,132.88 317.55,132.95 317.80,132.94 318.05,132.89 318.30,132.85 318.55,132.75 318.80,132.65 319.05,132.67 319.30,132.73 319.55,132.71 319.80,132.82 320.05,132.86 320.30,132.82 320.55,132.81 320.80,132.84 321.05,132.69 321.30,132.69 321.55,132.63 321.80,132.48 322.05,132.34 322.30,132.32 322.55,132.11 322.80,131.84 323.05,131.51 323.30,130.96 323.55,129.97 323.80,128.62 324.05,127.15 324.30,126.44 324.55,127.27 324.80,128.83 325.05,130.17 325.30,131.21 325.55,131.82 325.80,132.04 326.05,132.13 326.30,132.27 326.55,132.37 326.80,132.42 327.05,132.40 327.30,132.50 327.55,132.57 327.80,132.47 328.05,132.47 328.30,132.47 328.55,132.47 328.80,132.43 329.05,132.45 329.30,132.34 329.55,132.43 329.80,132.29 330.05,132.20 330.30,132.02 330.55,131.87 330.80,131.61 331.05,131.14 331.30,130.22 331.55,128.81 331.80,126.54 332.05,123.64 332.30,121.51 332.55,121.81 332.80,124.34 333.05,127.15 333.30,129.05 333.55,130.21 333.80,131.02 334.05,131.49 334.30,131.75 334.55,132.08 334.80,132.26 335.05,132.36 335.30,132.37 335.55,132.49 335.80,132.62 336.05,132.72 336.30,132.63 336.55,132.67 336.80,132.69 337.05,132.62 337.30,132.70 337.55,132.80 337.80,132.73 338.05,132.74 338.30,132.73 338.55,132.60 338.80,132.64 339.05,132.67 339.30,132.61 339.55,132.61 339.80,132.65 340.05,132.72 340.30,132.73 340.55,132.77 340.80,132.84 341.05,132.84 341.30,132.72 341.55,132.81 341.80,132.84 342.05,132.78 342.30,132.78 342.55,132.83 342.80,132.81 343.05,132.76 343.30,132.78 343.55,132.84 343.80,132.89 344.05,132.86 344.30,132.92 344.55,132.98 344.80,133.03 345.05,132.98 345.30,133.08 345.55,133.00 345.80,132.93 346.05,132.83 346.30,132.76 346.55,132.72 346.80,132.76 347.05,132.73 347.30,132.71 347.55,132.86 347.80,132.80 348.05,132.75 348.30,132.82 348.55,132.81 348.80,132.68 349.05,132.65 349.30,132.56 349.55,132.48 349.80,132.47 350.05,132.49 350.30,132.48 350.55,132.44 350.80,132.46 351.05,132.48 351.30,132.45 351.55,132.38 351.80,132.49 352.05,132.39 352.30,132.34 352.55,132.23 352.80,132.13 353.05,131.93 353.30,131.88 353.55,131.70 353.80,131.41 354.05,131.13 354.30,130.71 354.55,129.88 354.80,128.92 355.05,127.87 355.30,126.69 355.55,125.39 355.80,124.49 356.05,124.22 356.30,124.83 356.55,125.75 356.80,127.09 357.05,128.39 357.30,129.49 357.55,130.21 357.80,130.90 358.05,131.27 358.30,131.57 358.55,131.74 358.80,131.99 359.05,132.07 359.30,132.31 359.55,132.33 359.80,132.42 360.05,132.47 360.30,132.52 360.55,132.57 360.80,132.68 361.05,132.77 361.30,132.81 361.55,132.86 361.80,132.72 362.05,132.67 362.30,132.57 362.55,132.54 362.80,132.54 363.05,132.66 363.30,132.65 363.55,132.66 363.80,132.72 364.05,132.80 364.30,132.76 364.55,132.84 364.80,133.01 365.05,132.96 365.30,132.88 365.55,132.93 365.80,132.99 366.05,132.86 366.30,132.95 366.55,132.94 366.80,132.93 367.05,132.90 367.30,132.86 367.55,132.82 367.80,132.82 368.05,132.75 368.30,132.70 368.55,132.78 368.80,132.71 369.05,132.70 369.30,132.69 369.55,132.77 369.80,132.77 370.05,132.77 370.30,132.89 370.55,132.93 370.80,132.85 371.05,132.81 371.30,132.84 371.55,132.82 371.80,132.78 372.05,132.76 372.30,132.77 372.55,132.83 372.80,132.82 373.05,132.87 373.30,132.95 373.55,132.93 373.80,132.90 374.05,132.75 374.30,132.75 374.55,132.60 374.80,132.55 375.05,132.50 375.30,132.57 375.55,132.57 375.80,132.62 376.05,132.79 376.30,132.71 376.55,132.74 376.80,132.71 377.05,132.73 377.30,132.57 377.55,132.66 377.80,132.60 378.05,132.48 378.30,132.46 378.55,132.55 378.80,132.33 379.05,132.20 379.30,132.11 379.55,131.85 379.80,131.61 380.05,131.67 380.30,131.71 380.55,131.90 380.80,132.07 381.05,132.15 381.30,132.23 381.55,132.34 381.80,132.48 382.05,132.47 382.30,132.63 382.55,132.67 382.80,132.75 383.05,132.73 383.30,132.85 383.55,132.84 383.80,132.96 384.05,132.92 384.30,132.79 384.55,132.81 384.80,132.84 385.05,132.76 385.30,132.73 385.55,132.86 385.80,132.85 386.05,132.75 386.30,132.68 386.55,132.69 386.80,132.66 387.05,132.67 387.30,132.74 387.55,132.78 387.80,132.79 388.05,132.79 388.30,132.76 388.55,132.68 388.80,132.66 389.05,132.48 389.30,132.22 389.55,131.95 389.80,131.81 390.05,131.78 390.30,131.97 390.55,132.21 390.80,132.40 391.05,132.52 391.30,132.66 391.55,132.74 391.80,132.84 392.05,132.98 392.30,133.12 392.55,133.03 392.80,132.93 393.05,132.78 393.30,132.69 393.55,132.58 393.80,132.59 394.05,132.71 394.30,132.79 394.55,132.88 394.80,132.98 395.05,133.02 395.30,132.88 395.55,132.91 395.80,132.93 396.05,132.91 396.30,132.93 396.55,133.06 396.80,133.05 397.05,133.07 397.30,133.08 397.55,132.96 397.80,132.93 398.05,132.94 398.30,132.84 398.55,132.80 398.80,132.93 399.05,132.98 399.30,132.98 399.55,133.04 399.80,132.99 400.05,132.96 400.30,132.93 400.55,132.91 400.80,132.94 401.05,132.91 401.30,132.91 401.55,132.90 401.80,132.84 402.05,132.82 402.30,132.84 402.55,132.79 402.80,132.80 403.05,132.84 403.30,132.73 403.55,132.71 403.80,132.73 404.05,132.65 404.30,132.61 404.55,132.77 404.80,132.88 405.05,132.91 405.30,132.97 405.55,132.96 405.80,132.85 406.05,132.73 406.30,132.71 406.55,132.75 406.80,132.91 407.05,132.95 407.30,132.95 407.55,133.03 407.80,132.93 408.05,132.94 408.30,133.01 408.55,133.06 408.80,133.03 409.05,133.13 409.30,133.00 409.55,132.96 409.80,132.98 410.05,132.98 410.30,132.90 410.55,132.89 410.80,132.88 411.05,132.79 411.30,132.78 411.55,132.78 411.80,132.79 412.05,132.81 412.30,132.83 412.55,132.83 412.80,132.83 413.05,132.85 413.30,132.91 413.55,132.97 413.80,133.07 414.05,133.05 414.30,133.05 414.55,132.97 414.80,132.98 415.05,132.90 415.30,132.94 415.55,132.95 415.80,132.90 416.05,132.82 416.30,132.75 416.55,132.79 416.80,132.68 417.05,132.78 417.30,132.73 417.55,132.76 417.80,132.79 418.05,132.89 418.30,132.88 418.55,132.93 418.80,132.93 419.05,132.89 419.30,132.92 419.55,132.80 419.80,132.82 420.05,132.87 420.30,133.00 420.55,133.02 420.80,133.02 421.05,132.98 421.30,132.99 421.55,132.82 421.80,132.70 422.05,132.79 422.30,132.82 422.55,132.74 422.80,132.81 423.05,132.75 423.30,132.58 423.55,132.58 423.80,132.41 424.05,132.20 424.30,132.07 424.55,131.96 424.80,131.68 425.05,131.72 425.30,131.89 425.55,132.14 425.80,132.32 426.05,132.48 426.30,132.64 426.55,132.54 426.80,132.46 427.05,132.50 427.30,132.54 427.55,132.57 427.80,132.76 428.05,132.79 428.30,132.77 428.55,132.72 428.80,132.71 429.05,132.61 429.30,132.69 429.55,132.72 429.80,132.88 430.05,132.88 430.30,132.88 430.55,132.91 430.80,132.98 431.05,132.83 431.30,132.76 431.55,132.93 431.80,132.99 432.05,132.95 432.30,133.03 432.55,133.08 432.80,132.95 433.05,132.79 433.30,132.86 433.55,132.86 433.80,132.79 434.05,132.87 434.30,132.90 434.55,132.89 434.80,132.90 435.05,132.96 435.30,132.84 435.55,132.90 435.80,132.88 436.05,132.90 436.30,132.86 436.55,132.94 436.80,132.92 437.05,132.87 437.30,132.85 437.55,132.85 437.80,132.88 438.05,132.93 438.30,132.91 438.55,132.88 438.80,132.90 439.05,132.83 439.30,132.74 439.55,132.69 439.80,132.66 440.05,132.74 440.30,132.68 440.55,132.68 440.80,132.71 441.05,132.75 441.30,132.62 441.55,132.60 441.80,132.51 442.05,132.41 442.30,132.28 442.55,132.12 442.80,131.83 443.05,131.18 443.30,129.62 443.55,126.85 443.80,124.81 444.05,126.78 444.30,129.55 444.55,131.13 444.80,131.74 445.05,132.09 445.30,132.28 445.55,132.37 445.80,132.35 446.05,132.45 446.30,132.37 446.55,132.11 446.80,131.59 447.05,130.86 447.30,129.88 447.55,129.66 447.80,130.21 448.05,131.05 448.30,131.75 448.55,132.11 448.80,132.17 449.05,132.10 449.30,131.68 449.55,131.13 449.80,131.09 450.05,131.52 450.30,131.90 450.55,132.30 450.80,132.45 451.05,132.53 451.30,132.64 451.55,132.69 451.80,132.64 452.05,132.72 452.30,132.67 452.55,132.64 452.80,132.69 453.05,132.67 453.30,132.60 453.55,132.59 453.80,132.58 454.05,132.63 454.30,132.61 454.55,132.60 454.80,132.63 455.05,132.61 455.30,132.59 455.55,132.69 455.80,132.82 456.05,132.87 456.30,132.90 456.55,132.81 456.80,132.61 457.05,132.49 457.30,132.45 457.55,132.37 457.80,132.33 458.05,132.32 458.30,132.15 458.55,132.00 458.80,131.72 459.05,131.42 459.30,130.99 459.55,130.54 459.80,130.00 460.05,129.81 460.30,130.02 460.55,130.52 460.80,130.98 461.05,131.49 461.30,131.95 461.55,132.19 461.80,132.32 462.05,132.48 462.30,132.50 462.55,132.58 462.80,132.65 463.05,132.72 463.30,132.57 463.55,132.49 463.80,132.41 464.05,132.44 464.30,132.30 464.55,132.14 464.80,131.94 465.05,131.54 465.30,130.97 465.55,130.39 465.80,129.98 466.05,129.81 466.30,130.10 466.55,130.61 466.80,131.21 467.05,131.69 467.30,132.01 467.55,132.18 467.80,132.35 468.05,132.44 468.30,132.45 468.55,132.55 468.80,132.61 469.05,132.58 469.30,132.46 469.55,132.45 469.80,132.32 470.05,132.13 470.30,131.91 470.55,131.59 470.80,131.27 471.05,131.15 471.30,131.37 471.55,131.62 471.80,131.98 472.05,132.11 472.30,132.28 472.55,132.34 472.80,132.42 473.05,132.48 473.30,132.58 473.55,132.63 473.80,132.64 474.05,132.80 474.30,132.87 474.55,132.92 474.80,132.96 475.05,132.98 475.30,132.83 475.55,132.78 475.80,132.85 476.05,132.85 476.30,132.91 476.55,132.86 476.80,132.87 477.05,132.90 477.30,132.79 477.55,132.68 477.80,132.83 478.05,132.80 478.30,132.79 478.55,132.86 478.80,132.93 479.05,132.86 479.30,132.87 479.55,132.83 479.80,132.81 480.05,132.77 480.30,132.81 480.55,132.81 480.80,132.86 481.05,132.84 481.30,132.95 481.55,132.81 481.80,132.91 482.05,132.85 482.30,132.93 482.55,132.83 482.80,132.87 483.05,132.77 483.30,132.83 483.55,132.81 483.80,132.91 484.05,132.96 484.30,132.96 484.55,132.98 484.80,132.98 485.05,132.91 485.30,132.97 485.55,133.05 485.80,133.10 486.05,133.13 486.30,133.08 486.55,132.97 486.80,132.89 487.05,132.72 487.30,132.79 487.55,132.82 487.80,132.86 488.05,132.83 488.30,132.94 488.55,132.81 488.80,132.75 489.05,132.83 489.30,132.90 489.55,132.95 489.80,132.99 490.05,133.14 490.30,133.06 490.55,133.04 490.80,132.94 491.05,132.84 491.30,132.80 491.55,132.83 491.80,132.79 492.05,132.79 492.30,132.87 492.55,132.75 492.80,132.76 493.05,132.78 493.30,132.74 493.55,132.72 493.80,132.76 494.05,132.65 494.30,132.74 494.55,132.78 494.80,132.82 495.05,132.70 495.30,132.86 495.55,132.82 495.80,132.74 496.05,132.72 496.30,132.80 496.55,132.76 496.80,132.67 497.05,132.80 497.30,132.82 497.55,132.91 497.80,132.77 498.05,132.80 498.30,132.66 498.55,132.57 498.80,132.43 499.05,132.30 499.30,132.17 499.55,132.01 499.80,131.89 500.05,131.82 500.30,131.97 500.55,132.10 500.80,132.25 501.05,132.42 501.30,132.63 501.55,132.71 501.80,132.75 502.05,132.91 502.30,132.90 502.55,132.82 502.80,132.81 503.05,132.85 503.30,132.86 503.55,132.85 503.80,132.88 504.05,132.96 504.30,132.90 504.55,132.80 504.80,132.87 505.05,132.87 505.30,132.87 505.55,132.90 505.80,132.95 506.05,132.90 506.30,133.00 506.55,132.96 506.80,132.89 507.05,132.85 507.30,132.90 507.55,132.78 507.80,132.83 508.05,132.93 508.30,132.92 508.55,132.92 508.80,132.82 509.05,132.88 509.30,132.89 509.55,132.86 509.80,132.77 510.05,132.93 510.30,132.92 510.55,132.93 510.80,132.98 511.05,133.03"/>
<polyline fill="none" stroke="#000000" stroke-width="1.75" stroke-linejoin="round" points="39.05,205.30 39.30,205.28 39.55,205.28 39.80,205.25 40.05,205.32 40.30,205.37 40.55,205.37 40.80,205.34 41.05,205.42 41.30,205.53 41.55,205.57 41.80,205.71 42.05,205.67 42.30,205.61 42.55,205.51 42.80,205.52 43.05,205.43 43.30,205.42 43.55,205.37 43.80,205.43 44.05,205.37 44.30,205.37 44.55,205.44 44.80,205.61 45.05,205.61 45.30,205.66 45.55,205.59 45.80,205.62 46.05,205.52 46.30,205.54 46.55,205.43 46.80,205.48 47.05,205.41 47.30,205.39 47.55,205.35 47.80,205.46 48.05,205.45 48.30,205.49 48.55,205.49 48.80,205.48 49.05,205.43 49.30,205.42 49.55,205.47 49.80,205.45 50.05,205.42 50.30,205.40 50.55,205.54 50.80,205.40 51.05,205.46 51.30,205.50 51.55,205.56 51.80,205.40 52.05,205.46 52.30,205.42 52.55,205.40 52.80,205.30 53.05,205.29 53.30,205.32 53.55,205.39 53.80,205.53 54.05,205.52 54.30,205.52 54.55,205.46 54.80,205.50 55.05,205.41 55.30,205.42 55.55,205.47 55.80,205.43 56.05,205.39 56.30,205.31 56.55,205.35 56.80,205.33 57.05,205.48 57.30,205.46 57.55,205.38 57.80,205.38 58.05,205.34 58.30,205.31 58.55,205.32 58.80,205.40 59.05,205.38 59.30,205.40 59.55,205.27 59.80,205.20 60.05,205.15 60.30,204.97 60.55,204.77 60.80,204.77 61.05,204.65 61.30,204.37 61.55,204.24 61.80,203.96 62.05,203.38 62.30,202.79 62.55,202.20 62.80,201.40 63.05,200.51 63.30,199.71 63.55,198.92 63.80,198.29 64.05,197.95 64.30,197.95 64.55,198.36 64.80,198.88 65.05,199.70 65.30,200.42 65.55,201.36 65.80,202.02 66.05,202.75 66.30,203.17 66.55,203.77 66.80,204.03 67.05,204.39 67.30,204.66 67.55,204.99 67.80,205.15 68.05,205.25 68.30,205.29 68.55,205.32 68.80,205.31 69.05,205.30 69.30,205.43 69.55,205.38 69.80,205.30 70.05,205.32 70.30,205.41 70.55,205.34 70.80,205.45 71.05,205.48 71.30,205.55 71.55,205.43 71.80,205.48 72.05,205.40 72.30,205.48 72.55,205.47 72.80,205.53 73.05,205.52 73.30,205.48 73.55,205.44 73.80,205.34 74.05,205.24 74.30,205.18 74.55,205.23 74.80,205.29 75.05,205.34 75.30,205.54 75.55,205.59 75.80,205.61 76.05,205.59 76.30,205.53 76.55,205.39 76.80,205.35 77.05,205.35 77.30,205.33 77.55,205.31 77.80,205.29 78.05,205.25 78.30,205.19 78.55,205.09 78.80,205.12 79.05,205.17 79.30,205.23 79.55,205.13 79.80,205.16 80.05,205.10 80.30,205.12 80.55,205.03 80.80,205.07 81.05,204.98 81.30,205.04 81.55,204.85 81.80,204.80 82.05,204.75 82.30,204.63 82.55,204.32 82.80,204.09 83.05,203.56 83.30,203.08 83.55,202.48 83.80,201.89 84.05,201.30 84.30,200.89 84.55,200.46 84.80,200.21 85.05,200.17 85.30,200.26 85.55,200.40 85.80,200.70 86.05,201.08 86.30,201.49 86.55,201.86 86.80,202.31 87.05,202.68 87.30,202.98 87.55,203.16 87.80,203.24 88.05,203.47 88.30,203.55 88.55,203.63 88.80,203.85 89.05,204.07 89.30,204.29 89.55,204.40 89.80,204.63 90.05,204.71 90.30,204.80 90.55,204.81 90.80,204.98 91.05,204.98 91.30,205.03 91.55,205.06 91.80,205.07 92.05,205.13 92.30,205.24 92.55,205.19 92.80,205.22 93.05,205.15 93.30,205.14 93.55,205.18 93.80,205.26 94.05,205.25 94.30,205.30 94.55,205.28 94.80,205.16 95.05,205.27 95.30,205.34 95.55,205.38 95.80,205.44 96.05,205.56 96.30,205.52 96.55,205.57 96.80,205.58 97.05,205.64 97.30,205.58 97.55,205.59 97.80,205.46 98.05,205.48 98.30,205.38 98.55,205.36 98.80,205.36 99.05,205.42 99.30,205.45 99.55,205.44 99.80,205.49 100.05,205.40 100.30,205.46 100.55,205.41 100.80,205.41 101.05,205.41 101.30,205.53 101.55,205.44 101.80,205.39 102.05,205.39 102.30,205.35 102.55,205.25 102.80,205.29 103.05,205.41 103.30,205.53 103.55,205.47 103.80,205.53 104.05,205.52 104.30,205.57 104.55,205.43 104.80,205.49 105.05,205.49 105.30,205.57 105.55,205.48 105.80,205.45 106.05,205.50 106.30,205.47 106.55,205.37 106.80,205.39 107.05,205.48 107.30,205.40 107.55,205.42 107.80,205.46 108.05,205.53 108.30,205.51 108.55,205.48 108.80,205.46 109.05,205.44 109.30,205.41 109.55,205.35 109.80,205.38 110.05,205.44 110.30,205.47 110.55,205.49 110.80,205.63 111.05,205.67 111.30,205.62 111.55,205.56 111.80,205.53 112.05,205.47 112.30,205.46 112.55,205.41 112.80,205.48 113.05,205.46 113.30,205.43 113.55,205.46 113.80,205.54 114.05,205.45 114.30,205.39 114.55,205.39 114.80,205.44 115.05,205.33 115.30,205.44 115.55,205.52 115.80,205.53 116.05,205.45 116.30,205.51 116.55,205.51 116.80,205.48 117.05,205.53 117.30,205.49 117.55,205.54 117.80,205.50 118.05,205.53 118.30,205.41 118.55,205.59 118.80,205.53 119.05,205.42 119.30,205.44 119.55,205.53 119.80,205.36 120.05,205.32 120.30,205.50 120.55,205.47 120.80,205.43 121.05,205.39 121.30,205.46 121.55,205.50 121.80,205.46 122.05,205.49 122.30,205.52 122.55,205.50 122.80,205.33 123.05,205.31 123.30,205.31 123.55,205.36 123.80,205.37 124.05,205.46 124.30,205.41 124.55,205.37 124.80,205.31 125.05,205.27 125.30,205.18 125.55,205.15 125.80,205.12 126.05,204.93 126.30,204.61 126.55,204.37 126.80,204.15 127.05,204.02 127.30,204.22 127.55,204.59 127.80,204.82 128.05,205.10 128.30,205.26 128.55,205.44 128.80,205.58 129.05,205.61 129.30,205.52 129.55,205.57 129.80,205.56 130.05,205.43 130.30,205.44 130.55,205.52 130.80,205.52 131.05,205.47 131.30,205.57 131.55,205.59 131.80,205.65 132.05,205.61 132.30,205.60 132.55,205.59 132.80,205.59 133.05,205.48 133.30,205.53 133.55,205.53 133.80,205.55 134.05,205.57 134.30,205.58 134.55,205.52 134.80,205.50 135.05,205.45 135.30,205.34 135.55,205.29 135.80,205.32 136.05,205.34 136.30,205.37 136.55,205.47 136.80,205.64 137.05,205.68 137.30,205.76 137.55,205.72 137.80,205.61 138.05,205.50 138.30,205.34 138.55,205.30 138.80,205.36 139.05,205.44 139.30,205.40 139.55,205.55 139.80,205.55 140.05,205.46 140.30,205.49 140.55,205.56 140.80,205.52 141.05,205.49 141.30,205.54 141.55,205.49 141.80,205.41 142.05,205.43 142.30,205.47 142.55,205.38 142.80,205.42 143.05,205.51 143.30,205.53 143.55,205.47 143.80,205.55 144.05,205.48 144.30,205.41 144.55,205.34 144.80,205.26 145.05,205.24 145.30,205.29 145.55,205.29 145.80,205.44 146.05,205.51 146.30,205.48 146.55,205.52 146.80,205.65 147.05,205.45 147.30,205.32 147.55,205.43 147.80,205.38 148.05,205.26 148.30,205.27 148.55,205.47 148.80,205.46 149.05,205.48 149.30,205.57 149.55,205.55 149.80,205.50 150.05,205.39 150.30,205.38 150.55,205.28 150.80,205.37 151.05,205.32 151.30,205.31 151.55,205.28 151.80,205.30 152.05,205.30 152.30,205.33 152.55,205.41 152.80,205.46 153.05,205.51 153.30,205.53 153.55,205.50 153.80,205.42 154.05,205.42 154.30,205.40 154.55,205.44 154.80,205.51 155.05,205.58 155.30,205.59 155.55,205.60 155.80,205.55 156.05,205.52 156.30,205.43 156.55,205.32 156.80,205.37 157.05,205.29 157.30,205.26 157.55,205.28 157.80,205.33 158.05,205.25 158.30,205.23 158.55,205.34 158.80,205.48 159.05,205.46 159.30,205.38 159.55,205.51 159.80,205.43 160.05,205.33 160.30,205.29 160.55,205.31 160.80,205.27 161.05,205.14 161.30,205.06 161.55,205.16 161.80,205.20 162.05,205.20 162.30,205.23 162.55,205.22 162.80,205.15 163.05,205.18 163.30,205.12 163.55,205.19 163.80,205.18 164.05,205.12 164.30,205.02 164.55,205.04 164.80,205.03 165.05,205.05 165.30,204.97 165.55,204.95 165.80,204.92 166.05,204.91 166.30,204.92 166.55,204.95 166.80,205.02 167.05,204.96 167.30,204.90 167.55,204.86 167.80,204.89 168.05,204.86 168.30,204.86 168.55,204.87 168.80,204.83 169.05,204.81 169.30,204.75 169.55,204.59 169.80,204.48 170.05,204.33 170.30,204.13 170.55,203.93 170.80,203.85 171.05,203.59 171.30,203.33 171.55,203.07 171.80,202.53 172.05,201.90 172.30,200.77 172.55,199.01 172.80,196.31 173.05,192.62 173.30,187.23 173.55,180.51 173.80,172.58 174.05,163.50 174.30,154.21 174.55,146.29 174.80,141.10 175.05,139.63 175.30,142.71 175.55,149.35 175.80,157.91 176.05,167.03 176.30,175.85 176.55,183.46 176.80,189.68 177.05,194.37 177.30,197.64 177.55,199.79 177.80,201.41 178.05,202.36 178.30,203.00 178.55,203.52 178.80,203.97 179.05,204.07 179.30,204.21 179.55,204.30 179.80,204.29 180.05,204.36 180.30,204.40 180.55,204.51 180.80,204.61 181.05,204.84 181.30,204.83 181.55,204.90 181.80,204.87 182.05,204.93 182.30,204.88 182.55,204.94 182.80,204.97 183.05,204.97 183.30,204.95 183.55,204.96 183.80,204.90 184.05,204.94 184.30,204.93 184.55,204.94 184.80,204.97 185.05,205.04 185.30,205.07 185.55,205.14 185.80,205.19 186.05,205.20 186.30,205.20 186.55,205.15 186.80,205.22 187.05,205.24 187.30,205.20 187.55,205.20 187.80,205.25 188.05,205.24 188.30,205.26 188.55,205.41 188.80,205.36 189.05,205.43 189.30,205.37 189.55,205.38 189.80,205.35 190.05,205.32 190.30,205.30 190.55,205.28 190.80,205.32 191.05,205.30 191.30,205.44 191.55,205.44 191.80,205.48 192.05,205.49 192.30,205.51 192.55,205.46 192.80,205.46 193.05,205.49 193.30,205.40 193.55,205.42 193.80,205.51 194.05,205.55 194.30,205.45 194.55,205.56 194.80,205.55 195.05,205.45 195.30,205.35 195.55,205.48 195.80,205.45 196.05,205.51 196.30,205.54 196.55,205.63 196.80,205.54 197.05,205.46 197.30,205.39 197.55,205.47 197.80,205.42 198.05,205.46 198.30,205.56 198.55,205.57 198.80,205.48 199.05,205.46 199.30,205.52 199.55,205.49 199.80,205.46 200.05,205.44 200.30,205.40 200.55,205.31 200.80,205.31 201.05,205.31 201.30,205.34 201.55,205.29 201.80,205.42 202.05,205.34 202.30,205.25 202.55,205.13 202.80,205.17 203.05,204.94 203.30,204.90 203.55,204.83 203.80,204.77 204.05,204.54 204.30,204.41 204.55,204.41 204.80,204.39 205.05,204.40 205.30,204.56 205.55,204.66 205.80,204.69 206.05,204.75 206.30,204.80 206.55,204.85 206.80,204.96 207.05,204.98 207.30,204.98 207.55,205.09 207.80,205.14 208.05,205.12 208.30,205.17 208.55,205.25 208.80,205.21 209.05,205.07 209.30,205.14 209.55,205.14 209.80,205.19 210.05,205.30 210.30,205.41 210.55,205.26 210.80,205.32 211.05,205.25 211.30,205.20 211.55,205.24 211.80,205.33 212.05,205.36 212.30,205.47 212.55,205.52 212.80,205.46 213.05,205.51 213.30,205.45 213.55,205.53 213.80,205.53 214.05,205.66 214.30,205.63 214.55,205.64 214.80,205.60 215.05,205.62 215.30,205.63 215.55,205.60 215.80,205.58 216.05,205.52 216.30,205.47 216.55,205.42 216.80,205.53 217.05,205.58 217.30,205.58 217.55,205.55 217.80,205.53 218.05,205.47 218.30,205.39 218.55,205.43 218.80,205.46 219.05,205.53 219.30,205.55 219.55,205.67 219.80,205.63 220.05,205.55 220.30,205.48 220.55,205.50 220.80,205.40 221.05,205.40 221.30,205.46 221.55,205.49 221.80,205.44 222.05,205.56 222.30,205.64 222.55,205.57 222.80,205.54 223.05,205.55 223.30,205.57 223.55,205.54 223.80,205.64 224.05,205.60 224.30,205.63 224.55,205.55 224.80,205.53 225.05,205.52 225.30,205.64 225.55,205.61 225.80,205.40 226.05,205.23 226.30,205.31 226.55,205.24 226.80,205.13 227.05,205.34 227.30,205.30 227.55,204.97 227.80,204.78 228.05,204.62 228.30,204.40 228.55,204.36 228.80,204.61 229.05,204.81 229.30,205.00 229.55,205.09 229.80,205.32 230.05,205.40 230.30,205.46 230.55,205.40 230.80,205.41 231.05,205.42 231.30,205.32 231.55,205.32 231.80,205.45 232.05,205.46 232.30,205.54 232.55,205.55 232.80,205.48 233.05,205.42 233.30,205.42 233.55,205.28 233.80,205.26 234.05,205.36 234.30,205.36 234.55,205.44 234.80,205.48 235.05,205.58 235.30,205.42 235.55,205.53 235.80,205.50 236.05,205.52 236.30,205.53 236.55,205.68 236.80,205.54 237.05,205.44 237.30,205.36 237.55,205.28 237.80,205.27 238.05,205.40 238.30,205.45 238.55,205.45 238.80,205.46 239.05,205.58 239.30,205.43 239.55,205.52 239.80,205.46 240.05,205.53 240.30,205.47 240.55,205.57 240.80,205.56 241.05,205.69 241.30,205.70 241.55,205.65 241.80,205.56 242.05,205.54 242.30,205.54 242.55,205.57 242.80,205.58 243.05,205.61 243.30,205.63 243.55,205.53 243.80,205.47 244.05,205.46 244.30,205.51 244.55,205.52 244.80,205.52 245.05,205.56 245.30,205.50 245.55,205.47 245.80,205.45 246.05,205.48 246.30,205.42 246.55,205.44 246.80,205.55 247.05,205.45 247.30,205.46 247.55,205.44 247.80,205.47 248.05,205.41 248.30,205.43 248.55,205.42 248.80,205.42 249.05,205.38 249.30,205.36 249.55,205.38 249.80,205.33 250.05,205.35 250.30,205.36 250.55,205.35 250.80,205.38 251.05,205.46 251.30,205.39 251.55,205.39 251.80,205.36 252.05,205.26 252.30,205.15 252.55,205.14 252.80,205.11 253.05,205.17 253.30,205.21 253.55,205.30 253.80,205.30 254.05,205.32 254.30,205.28 254.55,205.33 254.80,205.24 255.05,205.27 255.30,205.37 255.55,205.40 255.80,205.37 256.05,205.31 256.30,205.21 256.55,205.05 256.80,204.94 257.05,204.88 257.30,204.92 257.55,204.94 257.80,204.91 258.05,204.87 258.30,204.78 258.55,204.74 258.80,204.64 259.05,204.32 259.30,203.92 259.55,203.38 259.80,202.50 260.05,201.34 260.30,199.92 260.55,198.31 260.80,196.28 261.05,194.26 261.30,192.44 261.55,191.23 261.80,190.84 262.05,191.53 262.30,192.98 262.55,194.89 262.80,196.97 263.05,198.79 263.30,200.37 263.55,201.69 263.80,202.64 264.05,203.30 264.30,203.85 264.55,204.29 264.80,204.54 265.05,204.78 265.30,205.04 265.55,205.19 265.80,205.22 266.05,205.24 266.30,205.24 266.55,205.17 266.80,205.10 267.05,205.14 267.30,205.24 267.55,205.24 267.80,205.22 268.05,205.23 268.30,205.22 268.55,205.29 268.80,205.33 269.05,205.32 269.30,205.31 269.55,205.40 269.80,205.29 270.05,205.32 270.30,205.33 270.55,205.39 270.80,205.36 271.05,205.41 271.30,205.39 271.55,205.48 271.80,205.54 272.05,205.50 272.30,205.40 272.55,205.41 272.80,205.39 273.05,205.33 273.30,205.39 273.55,205.41 273.80,205.42 274.05,205.26 274.30,205.22 274.55,205.22 274.80,205.38 275.05,205.36 275.30,205.50 275.55,205.55 275.80,205.56 276.05,205.55 276.30,205.52 276.55,205.46 276.80,205.46 277.05,205.36 277.30,205.34 277.55,205.35 277.80,205.35 278.05,205.38 278.30,205.45 278.55,205.45 278.80,205.40 279.05,205.45 279.30,205.42 279.55,205.32 279.80,205.30 280.05,205.40 280.30,205.38 280.55,205.43 280.80,205.46 281.05,205.41 281.30,205.42 281.55,205.43 281.80,205.45 282.05,205.46 282.30,205.44 282.55,205.43 282.80,205.53 283.05,205.50 283.30,205.50 283.55,205.48 283.80,205.46 284.05,205.37 284.30,205.37 284.55,205.39 284.80,205.43 285.05,205.41 285.30,205.36 285.55,205.43 285.80,205.36 286.05,205.35 286.30,205.34 286.55,205.45 286.80,205.35 287.05,205.31 287.30,205.39 287.55,205.45 287.80,205.47 288.05,205.51 288.30,205.62 288.55,205.47 288.80,205.51 289.05,205.44 289.30,205.54 289.55,205.49 289.80,205.55 290.05,205.45 290.30,205.47 290.55,205.35 290.80,205.32 291.05,205.35 291.30,205.39 291.55,205.43 291.80,205.38 292.05,205.45 292.30,205.47 292.55,205.45 292.80,205.47 293.05,205.52 293.30,205.47 293.55,205.37 293.80,205.33 294.05,205.22 294.30,205.21 294.55,205.30 294.80,205.43 295.05,205.44 295.30,205.50 295.55,205.55 295.80,205.54 296.05,205.49 296.30,205.44 296.55,205.32 296.80,205.26 297.05,205.19 297.30,205.08 297.55,205.03 297.80,204.98 298.05,204.82 298.30,204.65 298.55,204.60 298.80,204.62 299.05,204.65 299.30,204.74 299.55,204.84 299.80,204.95 300.05,205.00 300.30,205.17 300.55,205.28 300.80,205.35 301.05,205.36 301.30,205.44 301.55,205.50 301.80,205.53 302.05,205.54 302.30,205.67 302.55,205.65 302.80,205.63 303.05,205.65 303.30,205.65 303.55,205.51 303.80,205.52 304.05,205.47 304.30,205.39 304.55,205.34 304.80,205.35 305.05,205.38 305.30,205.43 305.55,205.52 305.80,205.65 306.05,205.63 306.30,205.60 306.55,205.53 306.80,205.46 307.05,205.41 307.30,205.46 307.55,205.52 307.80,205.45 308.05,205.49 308.30,205.52 308.55,205.57 308.80,205.53 309.05,205.62 309.30,205.59 309.55,205.48 309.80,205.48 310.05,205.42 310.30,205.37 310.55,205.41 310.80,205.41 311.05,205.38 311.30,205.49 311.55,205.45 311.80,205.36 312.05,205.26 312.30,205.29 312.55,205.28 312.80,205.29 313.05,205.33 313.30,205.42 313.55,205.53 313.80,205.51 314.05,205.62 314.30,205.68 314.55,205.71 314.80,205.58 315.05,205.58 315.30,205.36 315.55,205.32 315.80,205.33 316.05,205.40 316.30,205.37 316.55,205.60 316.80,205.56 317.05,205.51 317.30,205.31 317.55,205.43 317.80,205.32 318.05,205.32 318.30,205.37 318.55,205.47 318.80,205.37 319.05,205.49 319.30,205.54 319.55,205.58 319.80,205.59 320.05,205.58 320.30,205.58 320.55,205.61 320.80,205.55 321.05,205.67 321.30,205.63 321.55,205.48 321.80,205.49 322.05,205.55 322.30,205.48 322.55,205.53 322.80,205.53 323.05,205.47 323.30,205.28 323.55,205.26 323.80,205.21 324.05,205.11 324.30,205.11 324.55,205.23 324.80,205.12 325.05,205.15 325.30,205.25 325.55,205.24 325.80,205.15 326.05,205.18 326.30,205.16 326.55,205.01 326.80,205.01 327.05,205.08 327.30,205.07 327.55,204.93 327.80,205.12 328.05,205.03 328.30,205.04 328.55,204.87 328.80,204.87 329.05,204.70 329.30,204.51 329.55,204.17 329.80,203.99 330.05,203.89 330.30,203.66 330.55,203.37 330.80,203.07 331.05,202.95 331.30,202.61 331.55,202.32 331.80,202.15 332.05,202.07 332.30,201.88 332.55,201.80 332.80,201.74 333.05,201.74 333.30,201.73 333.55,201.64 333.80,201.38 334.05,201.28 334.30,200.96 334.55,200.62 334.80,200.33 335.05,199.99 335.30,199.63 335.55,199.32 335.80,198.87 336.05,198.42 336.30,198.07 336.55,197.68 336.80,197.35 337.05,197.34 337.30,197.30 337.55,197.42 337.80,197.56 338.05,197.99 338.30,198.24 338.55,198.60 338.80,199.00 339.05,199.50 339.30,199.95 339.55,200.40 339.80,200.98 340.05,201.46 340.30,201.83 340.55,202.18 340.80,202.58 341.05,202.88 341.30,203.28 341.55,203.73 341.80,203.99 342.05,204.18 342.30,204.34 342.55,204.48 342.80,204.44 343.05,204.56 343.30,204.74 343.55,204.85 343.80,204.82 344.05,204.92 344.30,205.00 344.55,205.02 344.80,205.07 345.05,205.16 345.30,205.19 345.55,205.22 345.80,205.25 346.05,205.28 346.30,205.34 346.55,205.35 346.80,205.29 347.05,205.38 347.30,205.32 347.55,205.34 347.80,205.41 348.05,205.43 348.30,205.27 348.55,205.33 348.80,205.31 349.05,205.21 349.30,205.27 349.55,205.40 349.80,205.44 350.05,205.45 350.30,205.49 350.55,205.51 350.80,205.44 351.05,205.36 351.30,205.37 351.55,205.44 351.80,205.44 352.05,205.42 352.30,205.45 352.55,205.38 352.80,205.31 353.05,205.27 353.30,205.27 353.55,205.19 353.80,205.09 354.05,205.09 354.30,205.05 354.55,205.00 354.80,204.97 355.05,204.99 355.30,204.81 355.55,204.73 355.80,204.64 356.05,204.66 356.30,204.68 356.55,204.75 356.80,204.81 357.05,204.80 357.30,204.86 357.55,204.95 357.80,205.10 358.05,205.17 358.30,205.42 358.55,205.48 358.80,205.53 359.05,205.52 359.30,205.44 359.55,205.32 359.80,205.32 360.05,205.26 360.30,205.31 360.55,205.44 360.80,205.53 361.05,205.44 361.30,205.48 361.55,205.47 361.80,205.48 362.05,205.47 362.30,205.60 362.55,205.60 362.80,205.64 363.05,205.51 363.30,205.47 363.55,205.38 363.80,205.34 364.05,205.27 364.30,205.35 364.55,205.36 364.80,205.30 365.05,205.30 365.30,205.29 365.55,205.31 365.80,205.27 366.05,205.47 366.30,205.46 366.55,205.47 366.80,205.50 367.05,205.58 367.30,205.52 367.55,205.60 367.80,205.73 368.05,205.60 368.30,205.49 368.55,205.55 368.80,205.42 369.05,205.32 369.30,205.44 369.55,205.49 369.80,205.43 370.05,205.52 370.30,205.46 370.55,205.37 370.80,205.32 371.05,205.23 371.30,205.19 371.55,205.29 371.80,205.35 372.05,205.48 372.30,205.45 372.55,205.50 372.80,205.43 373.05,205.33 373.30,205.18 373.55,205.30 373.80,205.27 374.05,205.29 374.30,205.34 374.55,205.45 374.80,205.40 375.05,205.34 375.30,205.41 375.55,205.49 375.80,205.42 376.05,205.54 376.30,205.61 376.55,205.57 376.80,205.49 377.05,205.59 377.30,205.59 377.55,205.57 377.80,205.52 378.05,205.60 378.30,205.58 378.55,205.40 378.80,205.48 379.05,205.42 379.30,205.28 379.55,205.34 379.80,205.45 380.05,205.26 380.30,205.35 380.55,205.42 380.80,205.37 381.05,205.26 381.30,205.39 381.55,205.47 381.80,205.51 382.05,205.37 382.30,205.47 382.55,205.58 382.80,205.54 383.05,205.46 383.30,205.51 383.55,205.49 383.80,205.44 384.05,205.38 384.30,205.55 384.55,205.65 384.80,205.68 385.05,205.62 385.30,205.62 385.55,205.53 385.80,205.50 386.05,205.57 386.30,205.60 386.55,205.58 386.80,205.51 387.05,205.55 387.30,205.42 387.55,205.36 387.80,205.44 388.05,205.44 388.30,205.40 388.55,205.35 388.80,205.37 389.05,205.23 389.30,205.30 389.55,205.27 389.80,205.35 390.05,205.27 390.30,205.44 390.55,205.43 390.80,205.53 391.05,205.59 391.30,205.72 391.55,205.54 391.80,205.57 392.05,205.47 392.30,205.50 392.55,205.44 392.80,205.45 393.05,205.32 393.30,205.31 393.55,205.24 393.80,205.23 394.05,205.31 394.30,205.40 394.55,205.44 394.80,205.43 395.05,205.58 395.30,205.66 395.55,205.50 395.80,205.46 396.05,205.48 396.30,205.38 396.55,205.30 396.80,205.53 397.05,205.37 397.30,205.21 397.55,205.17 397.80,205.15 398.05,205.06 398.30,205.21 398.55,205.33 398.80,205.25 399.05,205.11 399.30,205.05 399.55,204.97 399.80,204.81 400.05,204.75 400.30,204.77 400.55,204.57 400.80,204.41 401.05,204.27 401.30,204.13 401.55,203.96 401.80,203.90 402.05,203.82 402.30,203.70 402.55,203.58 402.80,203.42 403.05,203.26 403.30,203.19 403.55,203.12 403.80,203.05 404.05,203.04 404.30,203.15 404.55,203.15 404.80,203.27 405.05,203.48 405.30,203.62 405.55,203.83 405.80,203.97 406.05,204.17 406.30,204.29 406.55,204.53 406.80,204.62 407.05,204.79 407.30,204.77 407.55,204.79 407.80,204.83 408.05,204.77 408.30,204.98 408.55,205.05 408.80,205.14 409.05,205.24 409.30,205.40 409.55,205.37 409.80,205.44 410.05,205.54 410.30,205.50 410.55,205.52 410.80,205.52 411.05,205.55 411.30,205.52 411.55,205.57 411.80,205.50 412.05,205.42 412.30,205.44 412.55,205.37 412.80,205.32 413.05,205.32 413.30,205.31 413.55,205.30 413.80,205.32 414.05,205.20 414.30,205.19 414.55,205.18 414.80,205.21 415.05,205.35 415.30,205.50 415.55,205.55 415.80,205.56 416.05,205.44 416.30,205.39 416.55,205.32 416.80,205.33 417.05,205.34 417.30,205.32 417.55,205.27 417.80,205.29 418.05,205.35 418.30,205.43 418.55,205.56 418.80,205.59 419.05,205.63 419.30,205.55 419.55,205.41 419.80,205.42 420.05,205.51 420.30,205.41 420.55,205.33 420.80,205.42 421.05,205.42 421.30,205.27 421.55,205.37 421.80,205.54 422.05,205.51 422.30,205.62 422.55,205.74 422.80,205.66 423.05,205.61 423.30,205.66 423.55,205.53 423.80,205.41 424.05,205.40 424.30,205.47 424.55,205.42 424.80,205.48 425.05,205.55 425.30,205.74 425.55,205.68 425.80,205.72 426.05,205.74 426.30,205.73 426.55,205.53 426.80,205.51 427.05,205.51 427.30,205.45 427.55,205.40 427.80,205.48 428.05,205.52 428.30,205.54 428.55,205.44 428.80,205.38 429.05,205.40 429.30,205.31 429.55,205.33 429.80,205.45 430.05,205.55 430.30,205.50 430.55,205.55 430.80,205.49 431.05,205.43 431.30,205.49 431.55,205.46 431.80,205.46 432.05,205.48 432.30,205.45 432.55,205.38 432.80,205.34 433.05,205.33 433.30,205.31 433.55,205.39 433.80,205.39 434.05,205.46 434.30,205.47 434.55,205.43 434.80,205.47 435.05,205.48 435.30,205.44 435.55,205.43 435.80,205.48 436.05,205.38 436.30,205.33 436.55,205.35 436.80,205.41 437.05,205.40 437.30,205.48 437.55,205.56 437.80,205.64 438.05,205.58 438.30,205.67 438.55,205.71 438.80,205.64 439.05,205.66 439.30,205.63 439.55,205.56 439.80,205.61 440.05,205.74 440.30,205.74 440.55,205.75 440.80,205.74 441.05,205.63 441.30,205.46 441.55,205.46 441.80,205.46 442.05,205.52 442.30,205.47 442.55,205.36 442.80,205.28 443.05,205.11 443.30,204.81 443.55,204.65 443.80,204.59 444.05,204.45 444.30,204.67 444.55,204.92 444.80,205.06 445.05,205.19 445.30,205.39 445.55,205.48 445.80,205.45 446.05,205.43 446.30,205.45 446.55,205.47 446.80,205.34 447.05,205.39 447.30,205.47 447.55,205.44 447.80,205.26 448.05,205.29 448.30,205.30 448.55,205.37 448.80,205.43 449.05,205.46 449.30,205.47 449.55,205.42 449.80,205.45 450.05,205.47 450.30,205.58 450.55,205.52 450.80,205.50 451.05,205.36 451.30,205.39 451.55,205.41 451.80,205.47 452.05,205.48 452.30,205.51 452.55,205.38 452.80,205.36 453.05,205.33 453.30,205.46 453.55,205.46 453.80,205.45 454.05,205.44 454.30,205.56 454.55,205.42 454.80,205.51 455.05,205.56 455.30,205.50 455.55,205.28 455.80,205.40 456.05,205.35 456.30,205.37 456.55,205.30 456.80,205.45 457.05,205.33 457.30,205.26 457.55,205.25 457.80,205.29 458.05,205.28 458.30,205.24 458.55,205.24 458.80,205.30 459.05,205.31 459.30,205.20 459.55,205.29 459.80,205.25 460.05,205.09 460.30,205.04 460.55,205.06 460.80,204.97 461.05,204.96 461.30,204.85 461.55,204.77 461.80,204.59 462.05,204.47 462.30,204.20 462.55,204.04 462.80,203.81 463.05,203.51 463.30,202.98 463.55,202.50 463.80,201.89 464.05,201.09 464.30,200.22 464.55,199.40 464.80,198.42 465.05,197.42 465.30,196.63 465.55,195.91 465.80,195.42 466.05,195.44 466.30,195.73 466.55,196.25 466.80,197.00 467.05,197.84 467.30,198.68 467.55,199.54 467.80,200.42 468.05,201.38 468.30,202.24 468.55,202.95 468.80,203.46 469.05,203.99 469.30,204.20 469.55,204.42 469.80,204.52 470.05,204.76 470.30,204.78 470.55,204.90 470.80,205.03 471.05,205.12 471.30,205.21 471.55,205.31 471.80,205.48 472.05,205.38 472.30,205.37 472.55,205.33 472.80,205.24 473.05,205.16 473.30,205.31 473.55,205.27 473.80,205.29 474.05,205.23 474.30,205.30 474.55,205.20 474.80,205.37 475.05,205.36 475.30,205.52 475.55,205.47 475.80,205.54 476.05,205.50 476.30,205.48 476.55,205.43 476.80,205.40 477.05,205.38 477.30,205.25 477.55,205.26 477.80,205.19 478.05,205.17 478.30,205.20 478.55,205.21 478.80,205.23 479.05,205.30 479.30,205.33 479.55,205.31 479.80,205.41 480.05,205.46 480.30,205.51 480.55,205.57 480.80,205.52 481.05,205.46 481.30,205.47 481.55,205.34 481.80,205.30 482.05,205.44 482.30,205.45 482.55,205.45 482.80,205.54 483.05,205.53 483.30,205.34 483.55,205.33 483.80,205.21 484.05,205.21 484.30,205.26 484.55,205.34 484.80,205.34 485.05,205.43 485.30,205.41 485.55,205.45 485.80,205.52 486.05,205.53 486.30,205.59 486.55,205.58 486.80,205.53 487.05,205.50 487.30,205.49 487.55,205.44 487.80,205.48 488.05,205.44 488.30,205.56 488.55,205.63 488.80,205.64 489.05,205.55 489.30,205.56 489.55,205.40 489.80,205.36 490.05,205.38 490.30,205.54 490.55,205.51 490.80,205.53 491.05,205.56 491.30,205.48 491.55,205.40 491.80,205.49 492.05,205.61 492.30,205.62 492.55,205.65 492.80,205.69 493.05,205.65 493.30,205.50 493.55,205.43 493.80,205.37 494.05,205.22 494.30,205.34 494.55,205.41 494.80,205.41 495.05,205.41 495.30,205.57 495.55,205.44 495.80,205.49 496.05,205.56 496.30,205.63 496.55,205.61 496.80,205.61 497.05,205.51 497.30,205.44 497.55,205.41 497.80,205.43 498.05,205.51 498.30,205.58 498.55,205.55 498.80,205.62 499.05,205.59 499.30,205.56 499.55,205.56 499.80,205.59 500.05,205.48 500.30,205.44 500.55,205.48 500.80,205.33 501.05,205.38 501.30,205.38 501.55,205.41 501.80,205.31 502.05,205.44 502.30,205.34 502.55,205.47 502.80,205.49 503.05,205.52 503.30,205.54 503.55,205.65 503.80,205.54 504.05,205.47 504.30,205.46 504.55,205.49 504.80,205.50 505.05,205.54 505.30,205.54 505.55,205.60 505.80,205.58 506.05,205.56 506.30,205.53 506.55,205.57 506.80,205.65 507.05,205.60 507.30,205.64 507.55,205.63 507.80,205.63 508.05,205.50 508.30,205.49 508.55,205.47 508.80,205.39 509.05,205.42 509.30,205.45 509.55,205.42 509.80,205.40 510.05,205.52 510.30,205.53 510.55,205.49 510.80,205.54 511.05,205.53"/>
<polyline fill="none" stroke="#e3131b" stroke-width="1.75" stroke-linejoin="round" points="39.05,226.37 39.30,226.39 39.55,226.33 39.80,226.30 40.05,226.40 40.30,226.39 40.55,226.35 40.80,226.38 41.05,226.36 41.30,226.31 41.55,226.35 41.80,226.38 42.05,226.39 42.30,226.48 42.55,226.50 42.80,226.52 43.05,226.59 43.30,226.51 43.55,226.44 43.80,226.37 44.05,226.27 44.30,226.19 44.55,226.41 44.80,226.42 45.05,226.44 45.30,226.47 45.55,226.52 45.80,226.38 46.05,226.30 46.30,226.29 46.55,226.26 46.80,226.17 47.05,226.16 47.30,226.32 47.55,226.34 47.80,226.41 48.05,226.51 48.30,226.53 48.55,226.52 48.80,226.53 49.05,226.46 49.30,226.43 49.55,226.36 49.80,226.45 50.05,226.49 50.30,226.51 50.55,226.49 50.80,226.40 51.05,226.23 51.30,226.24 51.55,226.27 51.80,226.27 52.05,226.36 52.30,226.36 52.55,226.30 52.80,226.26 53.05,226.19 53.30,226.24 53.55,226.25 53.80,226.19 54.05,226.29 54.30,226.42 54.55,226.36 54.80,226.30 55.05,226.24 55.30,226.11 55.55,225.93 55.80,225.95 56.05,226.04 56.30,226.11 56.55,226.11 56.80,226.21 57.05,226.22 57.30,226.14 57.55,226.21 57.80,226.31 58.05,226.26 58.30,226.20 58.55,226.20 58.80,226.08 59.05,225.98 59.30,225.93 59.55,225.92 59.80,225.77 60.05,225.73 60.30,225.70 60.55,225.50 60.80,225.41 61.05,225.29 61.30,224.87 61.55,224.38 61.80,223.93 62.05,223.16 62.30,222.22 62.55,221.08 62.80,219.73 63.05,218.09 63.30,216.29 63.55,214.44 63.80,212.81 64.05,211.32 64.30,210.38 64.55,210.27 64.80,210.80 65.05,211.88 65.30,213.52 65.55,215.37 65.80,217.04 66.05,218.78 66.30,220.20 66.55,221.46 66.80,222.56 67.05,223.44 67.30,224.03 67.55,224.60 67.80,224.93 68.05,225.14 68.30,225.24 68.55,225.25 68.80,225.47 69.05,225.61 69.30,225.68 69.55,225.84 69.80,226.06 70.05,226.00 70.30,226.00 70.55,226.03 70.80,226.04 71.05,226.13 71.30,226.21 71.55,226.21 71.80,226.22 72.05,226.32 72.30,226.24 72.55,226.23 72.80,226.31 73.05,226.28 73.30,226.13 73.55,226.19 73.80,226.23 74.05,226.09 74.30,226.10 74.55,226.22 74.80,226.10 75.05,226.10 75.30,226.25 75.55,226.34 75.80,226.32 76.05,226.44 76.30,226.49 76.55,226.44 76.80,226.35 77.05,226.35 77.30,226.33 77.55,226.29 77.80,226.29 78.05,226.30 78.30,226.26 78.55,226.23 78.80,226.16 79.05,226.09 79.30,226.09 79.55,226.17 79.80,226.13 80.05,226.25 80.30,226.28 80.55,226.37 80.80,226.16 81.05,226.27 81.30,226.27 81.55,226.37 81.80,226.24 82.05,226.43 82.30,226.24 82.55,226.22 82.80,226.11 83.05,226.03 83.30,225.92 83.55,225.85 83.80,225.67 84.05,225.60 84.30,225.59 84.55,225.55 84.80,225.47 85.05,225.39 85.30,225.25 85.55,225.25 85.80,225.17 86.05,225.35 86.30,225.45 86.55,225.50 86.80,225.49 87.05,225.59 87.30,225.51 87.55,225.62 87.80,225.80 88.05,225.77 88.30,225.82 88.55,225.94 88.80,225.89 89.05,226.04 89.30,226.19 89.55,226.19 89.80,226.24 90.05,226.16 90.30,226.04 90.55,226.03 90.80,226.10 91.05,225.98 91.30,226.09 91.55,226.17 91.80,226.28 92.05,226.32 92.30,226.37 92.55,226.37 92.80,226.27 93.05,226.23 93.30,226.13 93.55,226.34 93.80,226.32 94.05,226.42 94.30,226.48 94.55,226.49 94.80,226.34 95.05,226.38 95.30,226.28 95.55,226.12 95.80,226.18 96.05,226.18 96.30,226.14 96.55,226.30 96.80,226.35 97.05,226.35 97.30,226.30 97.55,226.32 97.80,226.27 98.05,226.36 98.30,226.38 98.55,226.38 98.80,226.43 99.05,226.30 99.30,226.26 99.55,226.19 99.80,226.25 100.05,226.27 100.30,226.35 100.55,226.45 100.80,226.46 101.05,226.43 101.30,226.34 101.55,226.37 101.80,226.28 102.05,226.39 102.30,226.36 102.55,226.34 102.80,226.27 103.05,226.32 103.30,226.26 103.55,226.31 103.80,226.38 104.05,226.32 104.30,226.25 104.55,226.33 104.80,226.37 105.05,226.31 105.30,226.42 105.55,226.50 105.80,226.41 106.05,226.49 106.30,226.51 106.55,226.50 106.80,226.44 107.05,226.49 107.30,226.35 107.55,226.34 107.80,226.32 108.05,226.36 108.30,226.34 108.55,226.33 108.80,226.29 109.05,226.30 109.30,226.16 109.55,226.15 109.80,226.23 110.05,226.37 110.30,226.37 110.55,226.41 110.80,226.44 111.05,226.44 111.30,226.41 111.55,226.44 111.80,226.45 112.05,226.49 112.30,226.42 112.55,226.39 112.80,226.41 113.05,226.44 113.30,226.44 113.55,226.52 113.80,226.54 114.05,226.42 114.30,226.48 114.55,226.56 114.80,226.50 115.05,226.39 115.30,226.50 115.55,226.49 115.80,226.29 116.05,226.29 116.30,226.45 116.55,226.41 116.80,226.43 117.05,226.52 117.30,226.58 117.55,226.46 117.80,226.51 118.05,226.51 118.30,226.43 118.55,226.31 118.80,226.38 119.05,226.41 119.30,226.28 119.55,226.33 119.80,226.37 120.05,226.35 120.30,226.20 120.55,226.19 120.80,226.14 121.05,226.22 121.30,226.18 121.55,226.25 121.80,226.33 122.05,226.38 122.30,226.36 122.55,226.46 122.80,226.44 123.05,226.37 123.30,226.33 123.55,226.30 123.80,226.12 124.05,226.20 124.30,226.22 124.55,226.21 124.80,226.14 125.05,226.22 125.30,226.17 125.55,226.22 125.80,226.25 126.05,226.25 126.30,226.23 126.55,226.26 126.80,226.21 127.05,226.15 127.30,226.12 127.55,226.13 127.80,226.11 128.05,226.23 128.30,226.37 128.55,226.48 128.80,226.59 129.05,226.60 129.30,226.44 129.55,226.31 129.80,226.43 130.05,226.29 130.30,226.26 130.55,226.27 130.80,226.39 131.05,226.31 131.30,226.35 131.55,226.30 131.80,226.39 132.05,226.23 132.30,226.09 132.55,226.14 132.80,226.34 133.05,226.33 133.30,226.31 133.55,226.49 133.80,226.42 134.05,226.28 134.30,226.21 134.55,226.35 134.80,226.26 135.05,226.28 135.30,226.26 135.55,226.27 135.80,226.26 136.05,226.23 136.30,226.31 136.55,226.29 136.80,226.39 137.05,226.34 137.30,226.26 137.55,226.15 137.80,226.21 138.05,226.11 138.30,226.14 138.55,226.32 138.80,226.36 139.05,226.29 139.30,226.36 139.55,226.38 139.80,226.31 140.05,226.34 140.30,226.48 140.55,226.42 140.80,226.33 141.05,226.27 141.30,226.23 141.55,226.10 141.80,226.10 142.05,226.12 142.30,226.24 142.55,226.34 142.80,226.30 143.05,226.27 143.30,226.38 143.55,226.28 143.80,226.24 144.05,226.31 144.30,226.41 144.55,226.35 144.80,226.29 145.05,226.27 145.30,226.26 145.55,226.29 145.80,226.31 146.05,226.36 146.30,226.40 146.55,226.31 146.80,226.17 147.05,226.20 147.30,226.31 147.55,226.28 147.80,226.45 148.05,226.59 148.30,226.59 148.55,226.51 148.80,226.49 149.05,226.35 149.30,226.21 149.55,226.16 149.80,226.14 150.05,226.14 150.30,226.21 150.55,226.29 150.80,226.25 151.05,226.22 151.30,226.22 151.55,226.19 151.80,226.18 152.05,226.08 152.30,226.16 152.55,226.19 152.80,226.23 153.05,226.28 153.30,226.46 153.55,226.43 153.80,226.44 154.05,226.42 154.30,226.42 154.55,226.40 154.80,226.41 155.05,226.41 155.30,226.36 155.55,226.32 155.80,226.28 156.05,226.23 156.30,226.16 156.55,226.12 156.80,226.04 157.05,226.07 157.30,226.12 157.55,226.09 157.80,226.06 158.05,226.12 158.30,226.09 158.55,226.07 158.80,226.18 159.05,226.24 159.30,226.21 159.55,226.14 159.80,226.25 160.05,226.11 160.30,226.22 160.55,226.33 160.80,226.34 161.05,226.24 161.30,226.24 161.55,226.06 161.80,225.94 162.05,225.93 162.30,225.82 162.55,225.89 162.80,225.92 163.05,225.97 163.30,225.97 163.55,226.03 163.80,225.91 164.05,225.90 164.30,225.84 164.55,225.91 164.80,225.89 165.05,225.92 165.30,225.88 165.55,225.73 165.80,225.67 166.05,225.63 166.30,225.65 166.55,225.52 166.80,225.62 167.05,225.57 167.30,225.50 167.55,225.35 167.80,225.47 168.05,225.41 168.30,225.25 168.55,225.09 168.80,225.05 169.05,224.84 169.30,224.69 169.55,224.53 169.80,224.46 170.05,224.30 170.30,224.15 170.55,223.82 170.80,223.67 171.05,223.43 171.30,223.12 171.55,222.68 171.80,222.30 172.05,221.65 172.30,220.85 172.55,219.62 172.80,217.96 173.05,215.54 173.30,212.12 173.55,207.15 173.80,200.70 174.05,192.37 174.30,182.34 174.55,170.77 174.80,158.92 175.05,148.14 175.30,140.66 175.55,138.68 175.80,143.17 176.05,152.07 176.30,163.52 176.55,175.46 176.80,186.42 177.05,195.62 177.30,203.29 177.55,209.19 177.80,213.48 178.05,216.52 178.30,218.65 178.55,220.06 178.80,221.03 179.05,221.74 179.30,222.43 179.55,222.88 179.80,223.26 180.05,223.46 180.30,223.82 180.55,224.01 180.80,224.28 181.05,224.59 181.30,224.81 181.55,224.96 181.80,225.08 182.05,225.16 182.30,225.18 182.55,225.28 182.80,225.21 183.05,225.24 183.30,225.31 183.55,225.39 183.80,225.39 184.05,225.49 184.30,225.67 184.55,225.73 184.80,225.81 185.05,225.87 185.30,225.97 185.55,225.86 185.80,225.81 186.05,225.77 186.30,225.73 186.55,225.78 186.80,225.75 187.05,225.88 187.30,225.95 187.55,226.08 187.80,226.00 188.05,226.12 188.30,225.97 188.55,225.99 188.80,225.98 189.05,226.11 189.30,226.09 189.55,226.24 189.80,226.22 190.05,226.26 190.30,226.17 190.55,226.18 190.80,226.12 191.05,226.08 191.30,226.14 191.55,226.29 191.80,226.27 192.05,226.35 192.30,226.32 192.55,226.17 192.80,226.04 193.05,226.17 193.30,226.12 193.55,226.22 193.80,226.27 194.05,226.16 194.30,226.17 194.55,226.16 194.80,226.19 195.05,226.25 195.30,226.35 195.55,226.25 195.80,226.23 196.05,226.24 196.30,226.19 196.55,226.22 196.80,226.27 197.05,226.29 197.30,226.29 197.55,226.36 197.80,226.29 198.05,226.21 198.30,226.22 198.55,226.23 198.80,226.16 199.05,226.23 199.30,226.18 199.55,226.16 199.80,226.18 200.05,226.24 200.30,226.28 200.55,226.35 200.80,226.40 201.05,226.26 201.30,226.20 201.55,226.11 201.80,226.26 202.05,226.25 202.30,226.34 202.55,226.37 202.80,226.36 203.05,226.24 203.30,226.24 203.55,226.23 203.80,226.20 204.05,226.23 204.30,226.24 204.55,226.32 204.80,226.42 205.05,226.40 205.30,226.49 205.55,226.50 205.80,226.44 206.05,226.36 206.30,226.45 206.55,226.39 206.80,226.33 207.05,226.41 207.30,226.43 207.55,226.36 207.80,226.38 208.05,226.51 208.30,226.39 208.55,226.42 208.80,226.46 209.05,226.44 209.30,226.37 209.55,226.38 209.80,226.33 210.05,226.41 210.30,226.45 210.55,226.42 210.80,226.51 211.05,226.60 211.30,226.52 211.55,226.48 211.80,226.49 212.05,226.54 212.30,226.47 212.55,226.51 212.80,226.39 213.05,226.41 213.30,226.36 213.55,226.29 213.80,226.29 214.05,226.36 214.30,226.35 214.55,226.20 214.80,226.25 215.05,226.18 215.30,226.14 215.55,226.09 215.80,226.20 216.05,226.20 216.30,226.25 216.55,226.34 216.80,226.39 217.05,226.40 217.30,226.37 217.55,226.41 217.80,226.36 218.05,226.49 218.30,226.56 218.55,226.54 218.80,226.47 219.05,226.53 219.30,226.46 219.55,226.32 219.80,226.39 220.05,226.43 220.30,226.40 220.55,226.38 220.80,226.46 221.05,226.34 221.30,226.32 221.55,226.36 221.80,226.32 222.05,226.24 222.30,226.34 222.55,226.45 222.80,226.43 223.05,226.44 223.30,226.44 223.55,226.45 223.80,226.27 224.05,226.33 224.30,226.35 224.55,226.45 224.80,226.43 225.05,226.49 225.30,226.43 225.55,226.39 225.80,226.30 226.05,226.36 226.30,226.42 226.55,226.42 226.80,226.45 227.05,226.48 227.30,226.41 227.55,226.43 227.80,226.44 228.05,226.38 228.30,226.34 228.55,226.34 228.80,226.21 229.05,226.26 229.30,226.37 229.55,226.48 229.80,226.51 230.05,226.62 230.30,226.60 230.55,226.42 230.80,226.36 231.05,226.27 231.30,226.16 231.55,226.13 231.80,226.30 232.05,226.40 232.30,226.45 232.55,226.47 232.80,226.51 233.05,226.45 233.30,226.30 233.55,226.37 233.80,226.43 234.05,226.36 234.30,226.36 234.55,226.38 234.80,226.35 235.05,226.32 235.30,226.35 235.55,226.35 235.80,226.36 236.05,226.38 236.30,226.43 236.55,226.45 236.80,226.45 237.05,226.42 237.30,226.45 237.55,226.41 237.80,226.37 238.05,226.35 238.30,226.48 238.55,226.40 238.80,226.45 239.05,226.54 239.30,226.53 239.55,226.44 239.80,226.40 240.05,226.24 240.30,226.09 240.55,226.22 240.80,226.24 241.05,226.26 241.30,226.40 241.55,226.50 241.80,226.37 242.05,226.31 242.30,226.37 242.55,226.34 242.80,226.27 243.05,226.24 243.30,226.30 243.55,226.28 243.80,226.31 244.05,226.34 244.30,226.47 244.55,226.47 244.80,226.62 245.05,226.64 245.30,226.60 245.55,226.50 245.80,226.50 246.05,226.33 246.30,226.22 246.55,226.19 246.80,226.23 247.05,226.28 247.30,226.33 247.55,226.27 247.80,226.32 248.05,226.37 248.30,226.29 248.55,226.31 248.80,226.48 249.05,226.51 249.30,226.39 249.55,226.37 249.80,226.31 250.05,226.25 250.30,226.22 250.55,226.22 250.80,226.17 251.05,226.07 251.30,226.13 251.55,226.20 251.80,226.18 252.05,226.21 252.30,226.35 252.55,226.19 252.80,226.09 253.05,226.17 253.30,226.35 253.55,226.27 253.80,226.38 254.05,226.44 254.30,226.35 254.55,226.11 254.80,226.16 255.05,226.06 255.30,226.01 255.55,226.08 255.80,226.09 256.05,226.06 256.30,226.09 256.55,226.05 256.80,225.97 257.05,225.94 257.30,225.89 257.55,225.83 257.80,225.78 258.05,225.67 258.30,225.66 258.55,225.51 258.80,225.38 259.05,225.26 259.30,225.03 259.55,224.56 259.80,223.69 260.05,222.35 260.30,220.05 260.55,216.52 260.80,211.54 261.05,205.56 261.30,198.98 261.55,193.93 261.80,192.43 262.05,195.43 262.30,201.30 262.55,208.00 262.80,213.74 263.05,218.21 263.30,221.15 263.55,222.96 263.80,223.92 264.05,224.53 264.30,224.90 264.55,225.22 264.80,225.38 265.05,225.53 265.30,225.57 265.55,225.74 265.80,225.76 266.05,225.86 266.30,225.91 266.55,226.05 266.80,226.05 267.05,226.10 267.30,226.07 267.55,226.07 267.80,226.01 268.05,226.11 268.30,226.24 268.55,226.38 268.80,226.42 269.05,226.45 269.30,226.26 269.55,226.18 269.80,226.06 270.05,226.03 270.30,226.08 270.55,226.11 270.80,226.18 271.05,226.24 271.30,226.28 271.55,226.35 271.80,226.48 272.05,226.38 272.30,226.43 272.55,226.51 272.80,226.52 273.05,226.51 273.30,226.66 273.55,226.55 273.80,226.44 274.05,226.41 274.30,226.38 274.55,226.31 274.80,226.31 275.05,226.27 275.30,226.29 275.55,226.33 275.80,226.33 276.05,226.35 276.30,226.37 276.55,226.43 276.80,226.44 277.05,226.41 277.30,226.44 277.55,226.48 277.80,226.46 278.05,226.33 278.30,226.33 278.55,226.29 278.80,226.34 279.05,226.24 279.30,226.31 279.55,226.39 279.80,226.43 280.05,226.34 280.30,226.31 280.55,226.39 280.80,226.31 281.05,226.30 281.30,226.45 281.55,226.46 281.80,226.42 282.05,226.47 282.30,226.54 282.55,226.40 282.80,226.54 283.05,226.51 283.30,226.47 283.55,226.48 283.80,226.45 284.05,226.33 284.30,226.34 284.55,226.37 284.80,226.34 285.05,226.47 285.30,226.60 285.55,226.60 285.80,226.55 286.05,226.35 286.30,226.45 286.55,226.29 286.80,226.29 287.05,226.27 287.30,226.48 287.55,226.38 287.80,226.44 288.05,226.50 288.30,226.62 288.55,226.60 288.80,226.59 289.05,226.60 289.30,226.52 289.55,226.37 289.80,226.45 290.05,226.39 290.30,226.30 290.55,226.32 290.80,226.40 291.05,226.37 291.30,226.46 291.55,226.55 291.80,226.44 292.05,226.42 292.30,226.36 292.55,226.22 292.80,226.23 293.05,226.35 293.30,226.30 293.55,226.42 293.80,226.48 294.05,226.49 294.30,226.44 294.55,226.58 294.80,226.46 295.05,226.45 295.30,226.41 295.55,226.52 295.80,226.43 296.05,226.51 296.30,226.46 296.55,226.39 296.80,226.39 297.05,226.33 297.30,226.26 297.55,226.26 297.80,226.28 298.05,226.16 298.30,226.25 298.55,226.25 298.80,226.33 299.05,226.37 299.30,226.33 299.55,226.30 299.80,226.32 300.05,226.33 300.30,226.21 300.55,226.25 300.80,226.29 301.05,226.31 301.30,226.32 301.55,226.46 301.80,226.45 302.05,226.41 302.30,226.36 302.55,226.37 302.80,226.33 303.05,226.41 303.30,226.47 303.55,226.50 303.80,226.53 304.05,226.55 304.30,226.43 304.55,226.45 304.80,226.48 305.05,226.38 305.30,226.34 305.55,226.30 305.80,226.36 306.05,226.31 306.30,226.31 306.55,226.32 306.80,226.39 307.05,226.27 307.30,226.31 307.55,226.35 307.80,226.34 308.05,226.40 308.30,226.41 308.55,226.35 308.80,226.37 309.05,226.41 309.30,226.34 309.55,226.27 309.80,226.27 310.05,226.23 310.30,226.32 310.55,226.39 310.80,226.45 311.05,226.45 311.30,226.47 311.55,226.35 311.80,226.36 312.05,226.33 312.30,226.38 312.55,226.42 312.80,226.47 313.05,226.45 313.30,226.39 313.55,226.40 313.80,226.50 314.05,226.48 314.30,226.40 314.55,226.44 314.80,226.32 315.05,226.15 315.30,226.17 315.55,226.23 315.80,226.27 316.05,226.32 316.30,226.39 316.55,226.40 316.80,226.35 317.05,226.34 317.30,226.48 317.55,226.41 317.80,226.37 318.05,226.48 318.30,226.55 318.55,226.41 318.80,226.42 319.05,226.49 319.30,226.40 319.55,226.23 319.80,226.27 320.05,226.28 320.30,226.22 320.55,226.25 320.80,226.42 321.05,226.48 321.30,226.40 321.55,226.43 321.80,226.42 322.05,226.48 322.30,226.32 322.55,226.44 322.80,226.40 323.05,226.34 323.30,226.29 323.55,226.25 323.80,226.20 324.05,226.21 324.30,226.20 324.55,226.16 324.80,226.31 325.05,226.32 325.30,226.27 325.55,226.34 325.80,226.42 326.05,226.33 326.30,226.24 326.55,226.26 326.80,226.08 327.05,225.90 327.30,225.88 327.55,225.82 327.80,225.68 328.05,225.78 328.30,225.82 328.55,225.74 328.80,225.73 329.05,225.71 329.30,225.61 329.55,225.41 329.80,225.36 330.05,225.10 330.30,224.82 330.55,224.48 330.80,224.02 331.05,223.38 331.30,222.72 331.55,221.91 331.80,220.98 332.05,219.91 332.30,218.99 332.55,218.30 332.80,217.91 333.05,217.78 333.30,218.29 333.55,218.91 333.80,219.67 334.05,220.38 334.30,221.08 334.55,221.55 334.80,221.60 335.05,221.41 335.30,220.92 335.55,220.03 335.80,218.66 336.05,217.07 336.30,215.15 336.55,213.15 336.80,211.03 337.05,209.43 337.30,208.41 337.55,208.09 337.80,208.67 338.05,210.21 338.30,212.05 338.55,214.20 338.80,216.36 339.05,218.44 339.30,220.19 339.55,221.63 339.80,222.78 340.05,223.74 340.30,224.26 340.55,224.66 340.80,224.93 341.05,225.13 341.30,225.27 341.55,225.48 341.80,225.59 342.05,225.76 342.30,225.82 342.55,225.84 342.80,225.88 343.05,225.98 343.30,226.07 343.55,226.15 343.80,226.21 344.05,226.28 344.30,226.31 344.55,226.34 344.80,226.35 345.05,226.34 345.30,226.33 345.55,226.25 345.80,226.28 346.05,226.28 346.30,226.27 346.55,226.26 346.80,226.27 347.05,226.20 347.30,226.16 347.55,226.19 347.80,226.12 348.05,226.01 348.30,226.08 348.55,226.05 348.80,226.21 349.05,226.19 349.30,226.33 349.55,226.25 349.80,226.36 350.05,226.21 350.30,226.35 350.55,226.41 350.80,226.39 351.05,226.41 351.30,226.39 351.55,226.37 351.80,226.40 352.05,226.43 352.30,226.38 352.55,226.32 352.80,226.21 353.05,226.16 353.30,226.09 353.55,226.15 353.80,226.22 354.05,226.35 354.30,226.34 354.55,226.42 354.80,226.42 355.05,226.47 355.30,226.47 355.55,226.55 355.80,226.56 356.05,226.55 356.30,226.49 356.55,226.35 356.80,226.31 357.05,226.23 357.30,226.25 357.55,226.19 357.80,226.24 358.05,226.22 358.30,226.26 358.55,226.17 358.80,226.34 359.05,226.32 359.30,226.28 359.55,226.24 359.80,226.27 360.05,226.19 360.30,226.23 360.55,226.20 360.80,226.23 361.05,226.26 361.30,226.18 361.55,226.25 361.80,226.25 362.05,226.28 362.30,226.27 362.55,226.34 362.80,226.26 363.05,226.28 363.30,226.31 363.55,226.32 363.80,226.28 364.05,226.34 364.30,226.42 364.55,226.39 364.80,226.39 365.05,226.42 365.30,226.36 365.55,226.30 365.80,226.40 366.05,226.43 366.30,226.48 366.55,226.43 366.80,226.47 367.05,226.38 367.30,226.31 367.55,226.34 367.80,226.36 368.05,226.28 368.30,226.26 368.55,226.28 368.80,226.20 369.05,226.25 369.30,226.33 369.55,226.39 369.80,226.40 370.05,226.41 370.30,226.39 370.55,226.31 370.80,226.23 371.05,226.21 371.30,226.17 371.55,226.28 371.80,226.31 372.05,226.45 372.30,226.50 372.55,226.46 372.80,226.43 373.05,226.50 373.30,226.40 373.55,226.43 373.80,226.48 374.05,226.37 374.30,226.41 374.55,226.51 374.80,226.59 375.05,226.62 375.30,226.70 375.55,226.62 375.80,226.50 376.05,226.36 376.30,226.34 376.55,226.24 376.80,226.21 377.05,226.16 377.30,226.17 377.55,226.23 377.80,226.21 378.05,226.30 378.30,226.38 378.55,226.38 378.80,226.34 379.05,226.47 379.30,226.42 379.55,226.38 379.80,226.46 380.05,226.56 380.30,226.38 380.55,226.46 380.80,226.50 381.05,226.28 381.30,226.29 381.55,226.47 381.80,226.40 382.05,226.31 382.30,226.42 382.55,226.30 382.80,226.20 383.05,226.23 383.30,226.33 383.55,226.33 383.80,226.33 384.05,226.40 384.30,226.36 384.55,226.35 384.80,226.54 385.05,226.61 385.30,226.52 385.55,226.60 385.80,226.53 386.05,226.39 386.30,226.36 386.55,226.42 386.80,226.31 387.05,226.35 387.30,226.32 387.55,226.23 387.80,226.28 388.05,226.38 388.30,226.31 388.55,226.34 388.80,226.37 389.05,226.36 389.30,226.24 389.55,226.28 389.80,226.30 390.05,226.39 390.30,226.39 390.55,226.37 390.80,226.36 391.05,226.38 391.30,226.36 391.55,226.33 391.80,226.44 392.05,226.47 392.30,226.50 392.55,226.49 392.80,226.44 393.05,226.40 393.30,226.42 393.55,226.30 393.80,226.29 394.05,226.25 394.30,226.33 394.55,226.29 394.80,226.31 395.05,226.34 395.30,226.38 395.55,226.25 395.80,226.28 396.05,226.29 396.30,226.25 396.55,226.25 396.80,226.23 397.05,226.31 397.30,226.32 397.55,226.27 397.80,226.24 398.05,226.27 398.30,226.06 398.55,225.87 398.80,225.63 399.05,225.51 399.30,225.20 399.55,224.86 399.80,224.56 400.05,224.11 400.30,223.64 400.55,223.29 400.80,223.05 401.05,222.84 401.30,223.02 401.55,223.20 401.80,223.58 402.05,223.82 402.30,223.99 402.55,224.08 402.80,223.98 403.05,223.71 403.30,223.40 403.55,223.05 403.80,222.53 404.05,222.07 404.30,221.53 404.55,221.17 404.80,221.11 405.05,221.40 405.30,221.88 405.55,222.54 405.80,223.37 406.05,223.97 406.30,224.57 406.55,224.95 406.80,225.33 407.05,225.42 407.30,225.55 407.55,225.64 407.80,225.71 408.05,225.85 408.30,225.93 408.55,226.02 408.80,225.99 409.05,226.06 409.30,226.08 409.55,226.20 409.80,226.29 410.05,226.36 410.30,226.36 410.55,226.33 410.80,226.35 411.05,226.34 411.30,226.39 411.55,226.38 411.80,226.39 412.05,226.32 412.30,226.31 412.55,226.39 412.80,226.50 413.05,226.50 413.30,226.51 413.55,226.55 413.80,226.44 414.05,226.33 414.30,226.39 414.55,226.40 414.80,226.35 415.05,226.33 415.30,226.41 415.55,226.35 415.80,226.41 416.05,226.42 416.30,226.46 416.55,226.43 416.80,226.42 417.05,226.30 417.30,226.24 417.55,226.21 417.80,226.21 418.05,226.18 418.30,226.20 418.55,226.18 418.80,226.21 419.05,226.16 419.30,226.30 419.55,226.42 419.80,226.46 420.05,226.47 420.30,226.50 420.55,226.35 420.80,226.25 421.05,226.31 421.30,226.34 421.55,226.36 421.80,226.41 422.05,226.46 422.30,226.56 422.55,226.64 422.80,226.56 423.05,226.56 423.30,226.49 423.55,226.34 423.80,226.20 424.05,226.28 424.30,226.28 424.55,226.27 424.80,226.32 425.05,226.34 425.30,226.40 425.55,226.47 425.80,226.50 426.05,226.48 426.30,226.33 426.55,226.25 426.80,226.14 427.05,226.14 427.30,226.13 427.55,226.21 427.80,226.26 428.05,226.32 428.30,226.29 428.55,226.36 428.80,226.40 429.05,226.35 429.30,226.35 429.55,226.48 429.80,226.43 430.05,226.40 430.30,226.48 430.55,226.41 430.80,226.33 431.05,226.35 431.30,226.43 431.55,226.35 431.80,226.37 432.05,226.42 432.30,226.55 432.55,226.48 432.80,226.50 433.05,226.53 433.30,226.44 433.55,226.27 433.80,226.30 434.05,226.29 434.30,226.29 434.55,226.31 434.80,226.44 435.05,226.44 435.30,226.50 435.55,226.52 435.80,226.56 436.05,226.55 436.30,226.59 436.55,226.59 436.80,226.53 437.05,226.47 437.30,226.33 437.55,226.33 437.80,226.18 438.05,226.22 438.30,226.17 438.55,226.21 438.80,226.15 439.05,226.23 439.30,226.23 439.55,226.27 439.80,226.27 440.05,226.22 440.30,226.22 440.55,226.18 440.80,226.23 441.05,226.25 441.30,226.34 441.55,226.34 441.80,226.33 442.05,226.37 442.30,226.34 442.55,226.26 442.80,226.27 443.05,226.37 443.30,226.35 443.55,226.52 443.80,226.53 444.05,226.61 444.30,226.54 444.55,226.50 444.80,226.25 445.05,226.32 445.30,226.34 445.55,226.29 445.80,226.32 446.05,226.39 446.30,226.44 446.55,226.27 446.80,226.26 447.05,226.15 447.30,226.25 447.55,226.22 447.80,226.30 448.05,226.35 448.30,226.42 448.55,226.35 448.80,226.28 449.05,226.29 449.30,226.26 449.55,226.22 449.80,226.14 450.05,226.13 450.30,226.18 450.55,226.18 450.80,226.18 451.05,226.20 451.30,226.22 451.55,226.25 451.80,226.30 452.05,226.27 452.30,226.31 452.55,226.33 452.80,226.32 453.05,226.34 453.30,226.47 453.55,226.44 453.80,226.51 454.05,226.36 454.30,226.34 454.55,226.28 454.80,226.35 455.05,226.22 455.30,226.35 455.55,226.30 455.80,226.28 456.05,226.34 456.30,226.35 456.55,226.28 456.80,226.24 457.05,226.30 457.30,226.23 457.55,226.14 457.80,226.10 458.05,226.19 458.30,226.06 458.55,225.99 458.80,226.08 459.05,225.97 459.30,225.94 459.55,225.96 459.80,225.84 460.05,225.70 460.30,225.68 460.55,225.45 460.80,225.09 461.05,224.78 461.30,224.22 461.55,223.35 461.80,222.23 462.05,220.88 462.30,219.39 462.55,217.88 462.80,216.77 463.05,216.35 463.30,216.67 463.55,217.35 463.80,218.12 464.05,218.57 464.30,218.21 464.55,217.11 464.80,215.19 465.05,212.47 465.30,209.29 465.55,206.42 465.80,204.46 466.05,203.92 466.30,205.21 466.55,207.87 466.80,211.28 467.05,214.59 467.30,217.59 467.55,220.11 467.80,221.91 468.05,223.12 468.30,223.93 468.55,224.54 468.80,224.89 469.05,225.18 469.30,225.27 469.55,225.34 469.80,225.47 470.05,225.68 470.30,225.71 470.55,225.80 470.80,225.99 471.05,225.92 471.30,225.86 471.55,225.98 471.80,225.99 472.05,226.09 472.30,226.15 472.55,226.16 472.80,226.19 473.05,226.30 473.30,226.17 473.55,226.23 473.80,226.21 474.05,226.10 474.30,226.13 474.55,226.20 474.80,226.09 475.05,226.04 475.30,226.16 475.55,226.10 475.80,226.08 476.05,226.19 476.30,226.27 476.55,226.27 476.80,226.30 477.05,226.32 477.30,226.44 477.55,226.42 477.80,226.39 478.05,226.40 478.30,226.44 478.55,226.27 478.80,226.30 479.05,226.33 479.30,226.30 479.55,226.20 479.80,226.26 480.05,226.34 480.30,226.31 480.55,226.32 480.80,226.46 481.05,226.56 481.30,226.44 481.55,226.48 481.80,226.62 482.05,226.54 482.30,226.42 482.55,226.50 482.80,226.47 483.05,226.31 483.30,226.29 483.55,226.25 483.80,226.10 484.05,226.07 484.30,226.10 484.55,226.11 484.80,226.15 485.05,226.24 485.30,226.25 485.55,226.29 485.80,226.42 486.05,226.50 486.30,226.53 486.55,226.61 486.80,226.66 487.05,226.47 487.30,226.43 487.55,226.35 487.80,226.28 488.05,226.05 488.30,226.12 488.55,226.08 488.80,226.08 489.05,226.10 489.30,226.31 489.55,226.26 489.80,226.32 490.05,226.50 490.30,226.62 490.55,226.67 490.80,226.60 491.05,226.58 491.30,226.49 491.55,226.30 491.80,226.17 492.05,226.30 492.30,226.17 492.55,226.09 492.80,226.14 493.05,226.23 493.30,226.24 493.55,226.37 493.80,226.42 494.05,226.45 494.30,226.39 494.55,226.42 494.80,226.42 495.05,226.45 495.30,226.46 495.55,226.34 495.80,226.24 496.05,226.27 496.30,226.28 496.55,226.28 496.80,226.42 497.05,226.46 497.30,226.42 497.55,226.35 497.80,226.35 498.05,226.33 498.30,226.31 498.55,226.31 498.80,226.38 499.05,226.44 499.30,226.34 499.55,226.34 499.80,226.37 500.05,226.37 500.30,226.29 500.55,226.43 500.80,226.36 501.05,226.34 501.30,226.25 501.55,226.36 501.80,226.28 502.05,226.34 502.30,226.27 502.55,226.30 502.80,226.33 503.05,226.42 503.30,226.54 503.55,226.59 503.80,226.68 504.05,226.60 504.30,226.55 504.55,226.51 504.80,226.49 505.05,226.39 505.30,226.40 505.55,226.34 505.80,226.19 506.05,226.15 506.30,226.14 506.55,226.09 506.80,226.19 507.05,226.27 507.30,226.36 507.55,226.42 507.80,226.49 508.05,226.47 508.30,226.44 508.55,226.37 508.80,226.37 509.05,226.30 509.30,226.14 509.55,226.17 509.80,226.14 510.05,226.14 510.30,226.15 510.55,226.35 510.80,226.36 511.05,226.43"/>
<polyline fill="none" stroke="#1414d2" stroke-width="1.75" stroke-linejoin="round" points="39.05,247.09 39.30,247.06 39.55,247.06 39.80,247.04 40.05,247.12 40.30,247.14 40.55,247.12 40.80,247.13 41.05,247.15 41.30,247.05 41.55,247.11 41.80,247.17 42.05,247.14 42.30,247.11 42.55,247.14 42.80,247.09 43.05,247.02 43.30,247.00 43.55,247.04 43.80,247.04 44.05,246.98 44.30,247.08 44.55,247.07 44.80,247.08 45.05,247.11 45.30,247.29 45.55,247.27 45.80,247.41 46.05,247.42 46.30,247.38 46.55,247.28 46.80,247.24 47.05,247.13 47.30,247.09 47.55,247.09 47.80,247.13 48.05,247.22 48.30,247.16 48.55,247.20 48.80,247.25 49.05,247.24 49.30,247.17 49.55,247.28 49.80,247.24 50.05,247.22 50.30,247.25 50.55,247.30 50.80,247.30 51.05,247.23 51.30,247.16 51.55,247.10 51.80,247.04 52.05,246.98 52.30,247.05 52.55,247.06 52.80,247.06 53.05,247.09 53.30,247.19 53.55,247.23 53.80,247.23 54.05,247.20 54.30,247.10 54.55,247.06 54.80,247.05 55.05,247.04 55.30,247.00 55.55,247.08 55.80,247.05 56.05,246.99 56.30,247.06 56.55,247.17 56.80,247.04 57.05,247.02 57.30,247.05 57.55,246.95 57.80,246.86 58.05,246.91 58.30,246.84 58.55,246.75 58.80,246.61 59.05,246.59 59.30,246.50 59.55,246.51 59.80,246.46 60.05,246.53 60.30,246.30 60.55,245.91 60.80,245.27 61.05,244.06 61.30,242.33 61.55,240.31 61.80,238.55 62.05,237.91 62.30,238.82 62.55,240.39 62.80,241.64 63.05,241.99 63.30,241.06 63.55,238.88 63.80,235.57 64.05,231.84 64.30,228.81 64.55,227.96 64.80,229.96 65.05,233.64 65.30,237.57 65.55,240.92 65.80,243.26 66.05,244.73 66.30,245.55 66.55,245.96 66.80,246.19 67.05,246.46 67.30,246.54 67.55,246.58 67.80,246.75 68.05,246.74 68.30,246.66 68.55,246.74 68.80,246.81 69.05,246.73 69.30,246.76 69.55,246.85 69.80,246.91 70.05,247.10 70.30,247.18 70.55,247.34 70.80,247.35 71.05,247.39 71.30,247.23 71.55,247.34 71.80,247.28 72.05,247.25 72.30,247.15 72.55,247.16 72.80,247.02 73.05,247.01 73.30,247.00 73.55,247.06 73.80,247.02 74.05,247.07 74.30,246.99 74.55,247.01 74.80,247.02 75.05,247.08 75.30,247.02 75.55,247.11 75.80,247.09 76.05,246.94 76.30,246.89 76.55,246.97 76.80,246.92 77.05,246.86 77.30,246.94 77.55,246.98 77.80,246.97 78.05,246.97 78.30,247.02 78.55,247.10 78.80,247.15 79.05,247.14 79.30,247.17 79.55,247.15 79.80,247.20 80.05,247.20 80.30,247.16 80.55,247.11 80.80,247.21 81.05,247.15 81.30,247.17 81.55,247.22 81.80,247.31 82.05,247.26 82.30,247.29 82.55,247.28 82.80,247.22 83.05,247.16 83.30,247.15 83.55,247.21 83.80,247.18 84.05,247.27 84.30,247.36 84.55,247.27 84.80,247.18 85.05,247.18 85.30,247.08 85.55,247.04 85.80,247.08 86.05,247.15 86.30,247.17 86.55,247.24 86.80,247.24 87.05,247.34 87.30,247.29 87.55,247.24 87.80,247.31 88.05,247.28 88.30,247.18 88.55,247.18 88.80,247.28 89.05,247.22 89.30,247.25 89.55,247.32 89.80,247.26 90.05,247.21 90.30,247.21 90.55,247.18 90.80,247.13 91.05,247.18 91.30,247.17 91.55,247.14 91.80,247.13 92.05,247.15 92.30,247.11 92.55,247.13 92.80,247.06 93.05,246.93 93.30,246.92 93.55,246.88 93.80,246.80 94.05,246.89 94.30,247.04 94.55,247.01 94.80,247.15 95.05,247.26 95.30,247.25 95.55,247.25 95.80,247.30 96.05,247.18 96.30,247.07 96.55,247.06 96.80,247.10 97.05,247.08 97.30,247.12 97.55,247.24 97.80,247.19 98.05,247.24 98.30,247.26 98.55,247.23 98.80,247.19 99.05,247.26 99.30,247.18 99.55,247.22 99.80,247.28 100.05,247.21 100.30,247.23 100.55,247.16 100.80,247.15 101.05,247.08 101.30,247.05 101.55,246.98 101.80,247.04 102.05,247.04 102.30,247.19 102.55,247.29 102.80,247.41 103.05,247.35 103.30,247.35 103.55,247.22 103.80,247.30 104.05,247.19 104.30,247.23 104.55,247.25 104.80,247.32 105.05,247.24 105.30,247.29 105.55,247.38 105.80,247.25 106.05,247.21 106.30,247.16 106.55,247.08 106.80,246.93 107.05,246.96 107.30,246.93 107.55,247.03 107.80,247.12 108.05,247.21 108.30,247.19 108.55,247.19 108.80,247.11 109.05,247.15 109.30,247.05 109.55,247.15 109.80,247.12 110.05,247.12 110.30,247.13 110.55,247.27 110.80,247.24 111.05,247.26 111.30,247.30 111.55,247.29 111.80,247.18 112.05,247.12 112.30,247.21 112.55,247.16 112.80,247.20 113.05,247.25 113.30,247.29 113.55,247.19 113.80,247.22 114.05,247.11 114.30,247.05 114.55,247.06 114.80,247.06 115.05,247.03 115.30,247.14 115.55,247.17 115.80,247.22 116.05,247.28 116.30,247.29 116.55,247.21 116.80,247.32 117.05,247.30 117.30,247.23 117.55,247.32 117.80,247.21 118.05,247.15 118.30,247.04 118.55,247.04 118.80,246.98 119.05,247.14 119.30,247.15 119.55,247.27 119.80,247.28 120.05,247.26 120.30,247.13 120.55,247.09 120.80,247.07 121.05,247.12 121.30,247.16 121.55,247.13 121.80,247.20 122.05,247.16 122.30,247.19 122.55,247.09 122.80,247.17 123.05,247.12 123.30,247.07 123.55,247.04 123.80,247.15 124.05,247.23 124.30,247.26 124.55,247.35 124.80,247.16 125.05,247.10 125.30,247.01 125.55,246.98 125.80,247.08 126.05,247.27 126.30,247.28 126.55,247.35 126.80,247.31 127.05,247.15 127.30,247.15 127.55,247.06 127.80,247.04 128.05,247.11 128.30,247.23 128.55,247.18 128.80,247.21 129.05,247.19 129.30,247.18 129.55,247.12 129.80,247.18 130.05,247.27 130.30,247.32 130.55,247.27 130.80,247.24 131.05,247.27 131.30,247.25 131.55,247.29 131.80,247.23 132.05,247.28 132.30,247.31 132.55,247.25 132.80,247.13 133.05,247.24 133.30,247.22 133.55,247.11 133.80,247.12 134.05,247.11 134.30,247.09 134.55,247.11 134.80,247.16 135.05,247.18 135.30,247.22 135.55,247.13 135.80,247.17 136.05,247.07 136.30,247.07 136.55,247.06 136.80,247.16 137.05,247.08 137.30,247.11 137.55,247.09 137.80,247.07 138.05,247.03 138.30,247.06 138.55,247.08 138.80,247.14 139.05,247.15 139.30,247.21 139.55,247.24 139.80,247.28 140.05,247.19 140.30,247.21 140.55,247.07 140.80,247.01 141.05,246.93 141.30,246.97 141.55,247.00 141.80,247.04 142.05,247.08 142.30,247.18 142.55,247.13 142.80,247.14 143.05,247.22 143.30,247.20 143.55,247.21 143.80,247.18 144.05,247.15 144.30,247.08 144.55,247.02 144.80,247.06 145.05,247.07 145.30,247.05 145.55,247.04 145.80,247.19 146.05,247.13 146.30,247.26 146.55,247.30 146.80,247.33 147.05,247.21 147.30,247.17 147.55,247.02 147.80,247.02 148.05,246.97 148.30,246.94 148.55,247.06 148.80,247.12 149.05,247.05 149.30,247.16 149.55,247.31 149.80,247.24 150.05,247.18 150.30,247.27 150.55,247.21 150.80,247.23 151.05,247.15 151.30,247.14 151.55,247.03 151.80,247.04 152.05,246.88 152.30,247.03 152.55,247.13 152.80,247.16 153.05,247.10 153.30,247.16 153.55,247.08 153.80,247.05 154.05,247.05 154.30,247.03 154.55,247.02 154.80,246.99 155.05,247.00 155.30,247.00 155.55,247.11 155.80,247.07 156.05,246.97 156.30,246.98 156.55,247.04 156.80,246.97 157.05,247.01 157.30,247.09 157.55,247.01 157.80,246.93 158.05,246.92 158.30,246.89 158.55,246.87 158.80,246.93 159.05,246.96 159.30,247.02 159.55,246.97 159.80,246.93 160.05,246.93 160.30,246.99 160.55,246.91 160.80,246.85 161.05,246.85 161.30,246.75 161.55,246.58 161.80,246.60 162.05,246.58 162.30,246.54 162.55,246.59 162.80,246.71 163.05,246.55 163.30,246.58 163.55,246.56 163.80,246.58 164.05,246.46 164.30,246.43 164.55,246.35 164.80,246.32 165.05,246.26 165.30,246.26 165.55,246.20 165.80,246.32 166.05,246.32 166.30,246.22 166.55,246.10 166.80,246.17 167.05,246.07 167.30,245.92 167.55,245.94 167.80,245.98 168.05,245.91 168.30,245.77 168.55,245.72 168.80,245.63 169.05,245.42 169.30,245.16 169.55,244.92 169.80,244.62 170.05,244.26 170.30,244.00 170.55,243.80 170.80,243.34 171.05,242.87 171.30,242.26 171.55,241.50 171.80,240.55 172.05,239.23 172.30,237.51 172.55,234.92 172.80,231.21 173.05,225.76 173.30,218.35 173.55,208.42 173.80,195.96 174.05,181.38 174.30,165.82 174.55,151.67 174.80,141.73 175.05,139.28 175.30,145.03 175.55,157.22 175.80,172.15 176.05,187.37 176.30,201.05 176.55,212.60 176.80,221.50 177.05,228.24 177.30,233.00 177.55,236.22 177.80,238.37 178.05,239.83 178.30,240.97 178.55,241.69 178.80,242.40 179.05,242.99 179.30,243.56 179.55,243.77 179.80,244.30 180.05,244.61 180.30,244.86 180.55,245.07 180.80,245.30 181.05,245.32 181.30,245.51 181.55,245.54 181.80,245.59 182.05,245.74 182.30,245.79 182.55,245.81 182.80,245.97 183.05,246.02 183.30,246.08 183.55,246.19 183.80,246.22 184.05,246.16 184.30,246.29 184.55,246.29 184.80,246.43 185.05,246.40 185.30,246.54 185.55,246.55 185.80,246.62 186.05,246.57 186.30,246.66 186.55,246.67 186.80,246.70 187.05,246.75 187.30,246.76 187.55,246.83 187.80,246.80 188.05,246.74 188.30,246.75 188.55,246.72 188.80,246.75 189.05,246.81 189.30,246.87 189.55,246.81 189.80,246.91 190.05,246.91 190.30,246.93 190.55,246.91 190.80,246.95 191.05,246.96 191.30,246.98 191.55,246.90 191.80,246.95 192.05,246.99 192.30,246.95 192.55,246.90 192.80,246.98 193.05,247.01 193.30,247.04 193.55,247.09 193.80,247.02 194.05,247.04 194.30,247.02 194.55,246.92 194.80,246.87 195.05,246.87 195.30,246.82 195.55,246.88 195.80,246.91 196.05,246.96 196.30,246.95 196.55,247.02 196.80,246.90 197.05,246.93 197.30,246.99 197.55,247.00 197.80,246.95 198.05,246.94 198.30,246.97 198.55,246.90 198.80,247.09 199.05,247.16 199.30,247.29 199.55,247.26 199.80,247.26 200.05,247.22 200.30,247.17 200.55,247.13 200.80,247.14 201.05,247.04 201.30,247.00 201.55,247.03 201.80,247.08 202.05,247.03 202.30,247.20 202.55,247.17 202.80,247.23 203.05,247.18 203.30,247.11 203.55,247.07 203.80,247.12 204.05,246.96 204.30,246.93 204.55,247.00 204.80,247.01 205.05,246.99 205.30,247.13 205.55,247.10 205.80,247.12 206.05,247.15 206.30,247.04 206.55,246.96 206.80,247.04 207.05,247.06 207.30,246.98 207.55,247.16 207.80,247.10 208.05,247.14 208.30,247.15 208.55,247.25 208.80,247.16 209.05,247.25 209.30,247.14 209.55,247.14 209.80,247.12 210.05,247.14 210.30,247.18 210.55,247.27 210.80,247.26 211.05,247.20 211.30,247.21 211.55,247.17 211.80,247.21 212.05,247.23 212.30,247.18 212.55,247.28 212.80,247.27 213.05,247.20 213.30,247.20 213.55,247.32 213.80,247.27 214.05,247.23 214.30,247.24 214.55,247.25 214.80,247.19 215.05,247.09 215.30,247.18 215.55,247.19 215.80,247.24 216.05,247.26 216.30,247.30 216.55,247.29 216.80,247.25 217.05,247.19 217.30,247.19 217.55,247.16 217.80,247.06 218.05,247.04 218.30,246.91 218.55,246.85 218.80,246.97 219.05,247.04 219.30,247.08 219.55,247.21 219.80,247.26 220.05,247.16 220.30,247.24 220.55,247.19 220.80,247.22 221.05,247.13 221.30,247.13 221.55,247.06 221.80,247.17 222.05,247.01 222.30,247.06 222.55,247.03 222.80,247.00 223.05,246.94 223.30,247.01 223.55,247.13 223.80,247.25 224.05,247.30 224.30,247.32 224.55,247.37 224.80,247.36 225.05,247.33 225.30,247.33 225.55,247.37 225.80,247.24 226.05,247.04 226.30,246.96 226.55,246.84 226.80,246.81 227.05,246.93 227.30,247.03 227.55,247.01 227.80,247.12 228.05,247.07 228.30,247.11 228.55,247.14 228.80,247.25 229.05,247.22 229.30,247.18 229.55,247.14 229.80,247.26 230.05,247.28 230.30,247.27 230.55,247.41 230.80,247.37 231.05,247.24 231.30,247.26 231.55,247.20 231.80,247.04 232.05,247.02 232.30,247.07 232.55,246.95 232.80,247.06 233.05,247.26 233.30,247.26 233.55,247.25 233.80,247.33 234.05,247.28 234.30,247.14 234.55,247.18 234.80,247.09 235.05,247.09 235.30,246.97 235.55,247.01 235.80,247.01 236.05,247.12 236.30,247.11 236.55,247.27 236.80,247.32 237.05,247.25 237.30,247.19 237.55,247.19 237.80,247.14 238.05,247.02 238.30,247.17 238.55,247.16 238.80,247.17 239.05,247.25 239.30,247.27 239.55,247.18 239.80,247.18 240.05,247.17 240.30,247.01 240.55,247.00 240.80,247.04 241.05,247.07 241.30,247.06 241.55,247.09 241.80,247.10 242.05,247.10 242.30,247.05 242.55,247.05 242.80,247.12 243.05,247.14 243.30,247.11 243.55,247.15 243.80,247.17 244.05,247.13 244.30,247.16 244.55,247.20 244.80,247.29 245.05,247.30 245.30,247.34 245.55,247.33 245.80,247.22 246.05,247.10 246.30,247.12 246.55,247.08 246.80,247.06 247.05,247.08 247.30,247.08 247.55,247.13 247.80,247.16 248.05,247.20 248.30,247.27 248.55,247.26 248.80,247.14 249.05,247.13 249.30,247.15 249.55,247.18 249.80,247.21 250.05,247.25 250.30,247.28 250.55,247.19 250.80,247.11 251.05,247.19 251.30,247.17 251.55,247.21 251.80,247.18 252.05,247.13 252.30,247.02 252.55,247.07 252.80,246.96 253.05,246.94 253.30,246.94 253.55,246.87 253.80,246.76 254.05,246.87 254.30,246.96 254.55,246.99 254.80,247.06 255.05,247.08 255.30,246.98 255.55,246.91 255.80,246.92 256.05,246.91 256.30,246.97 256.55,246.94 256.80,246.94 257.05,246.91 257.30,246.78 257.55,246.57 257.80,246.41 258.05,246.33 258.30,246.25 258.55,246.15 258.80,246.07 259.05,245.84 259.30,245.53 259.55,245.07 259.80,244.40 260.05,243.10 260.30,240.79 260.55,236.78 260.80,230.78 261.05,222.88 261.30,214.13 261.55,207.24 261.80,205.41 262.05,209.63 262.30,217.60 262.55,226.22 262.80,233.42 263.05,238.49 263.30,241.79 263.55,243.79 263.80,244.71 264.05,245.34 264.30,245.63 264.55,245.92 264.80,245.95 265.05,246.13 265.30,246.12 265.55,246.32 265.80,246.34 266.05,246.45 266.30,246.59 266.55,246.65 266.80,246.73 267.05,246.77 267.30,246.81 267.55,246.86 267.80,246.87 268.05,246.76 268.30,246.80 268.55,246.88 268.80,246.89 269.05,246.92 269.30,247.04 269.55,247.04 269.80,247.07 270.05,247.04 270.30,247.11 270.55,247.07 270.80,247.13 271.05,247.15 271.30,247.29 271.55,247.22 271.80,247.23 272.05,247.22 272.30,247.11 272.55,247.00 272.80,247.07 273.05,247.10 273.30,247.05 273.55,247.15 273.80,247.19 274.05,247.23 274.30,247.23 274.55,247.25 274.80,247.12 275.05,247.15 275.30,247.16 275.55,247.14 275.80,247.17 276.05,247.25 276.30,247.17 276.55,247.16 276.80,247.21 277.05,247.06 277.30,247.14 277.55,247.06 277.80,247.09 278.05,246.96 278.30,247.03 278.55,246.95 278.80,247.04 279.05,247.00 279.30,247.09 279.55,247.10 279.80,247.10 280.05,247.08 280.30,247.02 280.55,247.02 280.80,247.08 281.05,246.96 281.30,246.98 281.55,246.99 281.80,247.01 282.05,246.99 282.30,247.11 282.55,247.15 282.80,247.24 283.05,247.27 283.30,247.08 283.55,247.04 283.80,247.00 284.05,247.01 284.30,246.92 284.55,247.12 284.80,247.10 285.05,247.05 285.30,247.03 285.55,247.17 285.80,247.22 286.05,247.26 286.30,247.31 286.55,247.25 286.80,247.19 287.05,247.16 287.30,247.12 287.55,247.19 287.80,247.26 288.05,247.25 288.30,247.21 288.55,247.25 288.80,247.18 289.05,247.05 289.30,246.98 289.55,247.03 289.80,247.08 290.05,247.08 290.30,247.07 290.55,247.13 290.80,247.14 291.05,247.09 291.30,247.05 291.55,247.16 291.80,247.14 292.05,246.97 292.30,246.98 292.55,247.02 292.80,246.96 293.05,247.03 293.30,247.21 293.55,247.23 293.80,247.18 294.05,247.28 294.30,247.23 294.55,247.13 294.80,247.05 295.05,247.09 295.30,247.06 295.55,247.17 295.80,247.33 296.05,247.28 296.30,247.31 296.55,247.32 296.80,247.26 297.05,247.18 297.30,247.29 297.55,247.25 297.80,247.15 298.05,247.07 298.30,247.09 298.55,247.06 298.80,247.08 299.05,247.22 299.30,247.25 299.55,247.23 299.80,247.23 300.05,247.25 300.30,247.21 300.55,247.20 300.80,247.19 301.05,247.24 301.30,247.18 301.55,247.05 301.80,247.08 302.05,247.12 302.30,247.10 302.55,247.04 302.80,247.07 303.05,247.00 303.30,246.95 303.55,246.90 303.80,246.96 304.05,247.03 304.30,247.05 304.55,246.99 304.80,247.09 305.05,247.14 305.30,247.08 305.55,247.20 305.80,247.16 306.05,247.08 306.30,247.07 306.55,247.20 306.80,247.12 307.05,247.17 307.30,247.16 307.55,247.11 307.80,247.01 308.05,247.04 308.30,247.15 308.55,247.20 308.80,247.28 309.05,247.34 309.30,247.27 309.55,247.23 309.80,247.21 310.05,247.11 310.30,247.03 310.55,247.05 310.80,247.00 311.05,247.00 311.30,246.99 311.55,247.11 311.80,247.09 312.05,247.07 312.30,247.05 312.55,247.09 312.80,247.13 313.05,247.11 313.30,247.19 313.55,247.24 313.80,247.24 314.05,247.14 314.30,247.17 314.55,247.20 314.80,247.20 315.05,247.24 315.30,247.30 315.55,247.33 315.80,247.18 316.05,247.10 316.30,247.06 316.55,246.96 316.80,246.93 317.05,247.09 317.30,247.18 317.55,247.24 317.80,247.25 318.05,247.31 318.30,247.25 318.55,247.28 318.80,247.32 319.05,247.32 319.30,247.21 319.55,247.10 319.80,247.04 320.05,246.94 320.30,247.03 320.55,247.16 320.80,247.28 321.05,247.29 321.30,247.37 321.55,247.22 321.80,247.15 322.05,247.19 322.30,247.17 322.55,247.14 322.80,247.21 323.05,247.16 323.30,247.07 323.55,246.97 323.80,246.93 324.05,246.85 324.30,246.88 324.55,246.99 324.80,247.09 325.05,247.10 325.30,247.09 325.55,247.08 325.80,247.02 326.05,246.98 326.30,247.06 326.55,247.06 326.80,247.07 327.05,246.97 327.30,246.95 327.55,246.94 327.80,246.92 328.05,246.86 328.30,246.79 328.55,246.77 328.80,246.64 329.05,246.62 329.30,246.65 329.55,246.54 329.80,246.32 330.05,245.91 330.30,245.25 330.55,244.25 330.80,243.05 331.05,241.49 331.30,239.84 331.55,238.35 331.80,237.22 332.05,236.87 332.30,237.60 332.55,238.91 332.80,240.50 333.05,242.00 333.30,243.33 333.55,244.28 333.80,244.97 334.05,245.27 334.30,245.59 334.55,245.64 334.80,245.50 335.05,245.17 335.30,244.70 335.55,243.75 335.80,242.26 336.05,240.19 336.30,237.29 336.55,233.74 336.80,229.58 337.05,225.77 337.30,222.90 337.55,222.19 337.80,223.80 338.05,227.29 338.30,231.37 338.55,235.32 338.80,238.73 339.05,241.37 339.30,243.21 339.55,244.48 339.80,245.39 340.05,245.79 340.30,246.18 340.55,246.38 340.80,246.47 341.05,246.51 341.30,246.68 341.55,246.75 341.80,246.81 342.05,246.87 342.30,246.98 342.55,246.95 342.80,246.86 343.05,246.88 343.30,246.85 343.55,246.76 343.80,246.76 344.05,246.74 344.30,246.70 344.55,246.89 344.80,246.96 345.05,247.04 345.30,247.06 345.55,247.18 345.80,247.06 346.05,247.01 346.30,247.00 346.55,247.01 346.80,246.99 347.05,246.93 347.30,246.91 347.55,247.04 347.80,247.00 348.05,246.85 348.30,247.02 348.55,247.08 348.80,247.03 349.05,247.10 349.30,247.30 349.55,247.17 349.80,247.11 350.05,247.12 350.30,247.14 350.55,247.14 350.80,247.20 351.05,247.27 351.30,247.14 351.55,247.08 351.80,247.04 352.05,247.04 352.30,247.05 352.55,247.20 352.80,247.30 353.05,247.50 353.30,247.51 353.55,247.59 353.80,247.49 354.05,247.40 354.30,247.22 354.55,247.28 354.80,247.14 355.05,247.17 355.30,247.23 355.55,247.16 355.80,247.03 356.05,247.07 356.30,247.12 356.55,247.02 356.80,246.99 357.05,247.03 357.30,246.96 357.55,246.90 357.80,247.04 358.05,247.11 358.30,247.10 358.55,247.23 358.80,247.33 359.05,247.34 359.30,247.32 359.55,247.35 359.80,247.27 360.05,247.15 360.30,247.08 360.55,247.08 360.80,247.09 361.05,247.17 361.30,247.19 361.55,247.23 361.80,247.30 362.05,247.34 362.30,247.34 362.55,247.41 362.80,247.44 363.05,247.39 363.30,247.35 363.55,247.34 363.80,247.33 364.05,247.30 364.30,247.32 364.55,247.29 364.80,247.29 365.05,247.21 365.30,247.18 365.55,247.22 365.80,247.30 366.05,247.18 366.30,247.31 366.55,247.32 366.80,247.26 367.05,247.22 367.30,247.26 367.55,247.06 367.80,247.11 368.05,247.13 368.30,247.16 368.55,247.10 368.80,247.22 369.05,247.08 369.30,247.10 369.55,247.07 369.80,247.22 370.05,247.16 370.30,247.23 370.55,247.14 370.80,247.26 371.05,247.22 371.30,247.22 371.55,247.10 371.80,247.19 372.05,247.09 372.30,247.06 372.55,247.15 372.80,247.22 373.05,247.20 373.30,247.08 373.55,247.02 373.80,247.05 374.05,247.02 374.30,246.99 374.55,247.12 374.80,247.15 375.05,247.15 375.30,247.17 375.55,247.23 375.80,247.22 376.05,247.25 376.30,247.15 376.55,247.18 376.80,247.13 377.05,247.14 377.30,247.21 377.55,247.22 377.80,247.19 378.05,247.22 378.30,247.16 378.55,247.09 378.80,247.07 379.05,247.12 379.30,247.15 379.55,247.16 379.80,247.10 380.05,247.22 380.30,247.13 380.55,247.06 380.80,247.12 381.05,247.19 381.30,247.18 381.55,247.25 381.80,247.29 382.05,247.20 382.30,247.26 382.55,247.25 382.80,247.26 383.05,247.34 383.30,247.40 383.55,247.36 383.80,247.26 384.05,247.17 384.30,247.21 384.55,247.18 384.80,247.20 385.05,247.22 385.30,247.31 385.55,247.24 385.80,247.34 386.05,247.28 386.30,247.31 386.55,247.29 386.80,247.25 387.05,247.20 387.30,247.22 387.55,247.22 387.80,247.24 388.05,247.11 388.30,247.15 388.55,247.14 388.80,247.12 389.05,247.09 389.30,247.25 389.55,247.18 389.80,247.17 390.05,247.15 390.30,247.07 390.55,246.99 390.80,246.91 391.05,246.83 391.30,246.90 391.55,246.97 391.80,247.01 392.05,247.14 392.30,247.25 392.55,247.23 392.80,247.25 393.05,247.21 393.30,247.16 393.55,247.11 393.80,247.11 394.05,247.07 394.30,247.10 394.55,247.15 394.80,247.10 395.05,247.10 395.30,247.05 395.55,247.05 395.80,247.03 396.05,247.07 396.30,247.00 396.55,247.07 396.80,247.08 397.05,246.97 397.30,246.86 397.55,246.84 397.80,246.80 398.05,246.55 398.30,246.38 398.55,246.07 398.80,245.77 399.05,245.25 399.30,244.72 399.55,244.24 399.80,243.93 400.05,243.74 400.30,243.86 400.55,244.38 400.80,244.89 401.05,245.38 401.30,245.73 401.55,246.02 401.80,246.18 402.05,246.29 402.30,246.26 402.55,246.16 402.80,245.87 403.05,245.41 403.30,244.70 403.55,243.94 403.80,242.96 404.05,242.22 404.30,241.61 404.55,241.51 404.80,241.88 405.05,242.76 405.30,243.76 405.55,244.65 405.80,245.30 406.05,245.89 406.30,246.36 406.55,246.50 406.80,246.71 407.05,246.84 407.30,246.97 407.55,246.87 407.80,246.84 408.05,246.90 408.30,246.96 408.55,246.91 408.80,246.90 409.05,247.06 409.30,246.98 409.55,246.96 409.80,246.90 410.05,246.95 410.30,246.87 410.55,246.94 410.80,246.99 411.05,247.01 411.30,247.11 411.55,247.20 411.80,247.13 412.05,247.02 412.30,247.02 412.55,246.92 412.80,246.85 413.05,246.89 413.30,246.96 413.55,247.00 413.80,247.02 414.05,247.06 414.30,247.10 414.55,247.06 414.80,247.06 415.05,247.19 415.30,247.24 415.55,247.28 415.80,247.33 416.05,247.41 416.30,247.35 416.55,247.23 416.80,247.21 417.05,247.13 417.30,246.98 417.55,246.99 417.80,246.94 418.05,246.91 418.30,247.03 418.55,247.13 418.80,247.04 419.05,247.13 419.30,247.18 419.55,247.15 419.80,247.10 420.05,247.19 420.30,247.19 420.55,247.15 420.80,247.14 421.05,247.18 421.30,247.18 421.55,247.18 421.80,247.26 422.05,247.18 422.30,247.27 422.55,247.16 422.80,247.22 423.05,247.09 423.30,247.26 423.55,247.25 423.80,247.32 424.05,247.34 424.30,247.39 424.55,247.24 424.80,247.12 425.05,247.11 425.30,247.05 425.55,246.98 425.80,246.98 426.05,247.06 426.30,247.07 426.55,247.05 426.80,247.13 427.05,247.24 427.30,247.21 427.55,247.29 427.80,247.33 428.05,247.32 428.30,247.28 428.55,247.31 428.80,247.22 429.05,247.21 429.30,247.14 429.55,247.10 429.80,247.17 430.05,247.15 430.30,247.15 430.55,247.26 430.80,247.33 431.05,247.20 431.30,247.24 431.55,247.17 431.80,247.15 432.05,247.13 432.30,247.16 432.55,247.15 432.80,247.24 433.05,247.26 433.30,247.25 433.55,247.24 433.80,247.32 434.05,247.31 434.30,247.36 434.55,247.32 434.80,247.40 435.05,247.36 435.30,247.38 435.55,247.25 435.80,247.31 436.05,247.29 436.30,247.29 436.55,247.37 436.80,247.41 437.05,247.30 437.30,247.26 437.55,247.17 437.80,247.06 438.05,247.11 438.30,247.05 438.55,247.10 438.80,247.18 439.05,247.27 439.30,247.25 439.55,247.32 439.80,247.29 440.05,247.33 440.30,247.28 440.55,247.31 440.80,247.41 441.05,247.48 441.30,247.32 441.55,247.36 441.80,247.30 442.05,247.26 442.30,247.10 442.55,247.12 442.80,247.06 443.05,247.05 443.30,246.96 443.55,247.11 443.80,247.16 444.05,247.16 444.30,247.12 444.55,247.16 444.80,247.15 445.05,247.22 445.30,247.22 445.55,247.23 445.80,247.35 446.05,247.27 446.30,247.18 446.55,247.14 446.80,247.32 447.05,247.24 447.30,247.22 447.55,247.21 447.80,247.26 448.05,247.08 448.30,247.01 448.55,247.20 448.80,247.26 449.05,247.17 449.30,247.23 449.55,247.30 449.80,247.08 450.05,247.02 450.30,247.10 450.55,247.06 450.80,247.01 451.05,247.08 451.30,247.18 451.55,247.17 451.80,247.25 452.05,247.23 452.30,247.25 452.55,247.19 452.80,247.25 453.05,247.24 453.30,247.31 453.55,247.21 453.80,247.17 454.05,247.06 454.30,247.01 454.55,247.03 454.80,247.01 455.05,247.06 455.30,247.08 455.55,247.05 455.80,246.95 456.05,247.08 456.30,247.04 456.55,247.16 456.80,247.20 457.05,247.28 457.30,247.22 457.55,247.20 457.80,247.03 458.05,246.94 458.30,246.73 458.55,246.70 458.80,246.62 459.05,246.73 459.30,246.74 459.55,246.83 459.80,246.78 460.05,246.83 460.30,246.64 460.55,246.42 460.80,246.22 461.05,245.89 461.30,245.21 461.55,244.42 461.80,243.18 462.05,241.42 462.30,239.28 462.55,237.31 462.80,235.64 463.05,235.16 463.30,235.82 463.55,237.38 463.80,238.82 464.05,239.87 464.30,239.93 464.55,238.80 464.80,236.08 465.05,231.98 465.30,226.74 465.55,221.41 465.80,217.31 466.05,216.34 466.30,218.90 466.55,223.88 466.80,229.48 467.05,234.72 467.30,238.69 467.55,241.67 467.80,243.56 468.05,244.70 468.30,245.19 468.55,245.62 468.80,245.90 469.05,246.06 469.30,246.17 469.55,246.33 469.80,246.41 470.05,246.42 470.30,246.54 470.55,246.54 470.80,246.64 471.05,246.76 471.30,246.78 471.55,246.73 471.80,246.78 472.05,246.83 472.30,246.90 472.55,246.83 472.80,246.86 473.05,246.95 473.30,246.94 473.55,246.85 473.80,246.90 474.05,246.97 474.30,246.86 474.55,246.92 474.80,246.94 475.05,247.03 475.30,246.91 475.55,246.98 475.80,246.93 476.05,246.91 476.30,246.75 476.55,246.74 476.80,246.83 477.05,246.84 477.30,246.96 477.55,247.08 477.80,247.16 478.05,247.12 478.30,247.11 478.55,247.07 478.80,247.11 479.05,247.10 479.30,247.13 479.55,247.24 479.80,247.28 480.05,247.29 480.30,247.34 480.55,247.23 480.80,247.10 481.05,247.16 481.30,247.11 481.55,247.09 481.80,247.18 482.05,247.19 482.30,247.05 482.55,247.12 482.80,247.04 483.05,247.03 483.30,247.08 483.55,247.14 483.80,247.20 484.05,247.25 484.30,247.25 484.55,247.29 484.80,247.28 485.05,247.26 485.30,247.27 485.55,247.31 485.80,247.34 486.05,247.41 486.30,247.28 486.55,247.33 486.80,247.27 487.05,247.15 487.30,247.02 487.55,247.09 487.80,247.03 488.05,247.04 488.30,247.15 488.55,247.10 488.80,247.09 489.05,247.13 489.30,247.16 489.55,247.10 489.80,247.18 490.05,247.20 490.30,247.21 490.55,247.19 490.80,247.29 491.05,247.24 491.30,247.22 491.55,247.20 491.80,247.23 492.05,247.18 492.30,247.32 492.55,247.33 492.80,247.32 493.05,247.22 493.30,247.24 493.55,247.18 493.80,247.15 494.05,247.15 494.30,247.22 494.55,247.17 494.80,247.17 495.05,247.18 495.30,247.24 495.55,247.33 495.80,247.24 496.05,247.27 496.30,247.23 496.55,247.19 496.80,247.14 497.05,247.19 497.30,247.15 497.55,247.14 497.80,247.15 498.05,247.12 498.30,247.17 498.55,247.10 498.80,247.16 499.05,247.19 499.30,247.25 499.55,247.18 499.80,247.17 500.05,247.17 500.30,247.14 500.55,247.10 500.80,247.21 501.05,247.29 501.30,247.20 501.55,247.12 501.80,247.09 502.05,247.10 502.30,247.07 502.55,247.07 502.80,247.15 503.05,247.20 503.30,247.22 503.55,247.16 503.80,247.27 504.05,247.28 504.30,247.20 504.55,247.10 504.80,247.18 505.05,247.20 505.30,247.16 505.55,247.15 505.80,247.14 506.05,247.18 506.30,247.11 506.55,247.10 506.80,247.12 507.05,247.16 507.30,247.14 507.55,247.11 507.80,247.18 508.05,247.26 508.30,247.32 508.55,247.35 508.80,247.43 509.05,247.33 509.30,247.37 509.55,247.23 509.80,247.18 510.05,247.18 510.30,247.19 510.55,247.06 510.80,247.13 511.05,247.12"/>
<polyline fill="none" stroke="#0b8278" stroke-width="1.75" stroke-linejoin="round" points="39.05,267.04 39.30,267.04 39.55,266.98 39.80,267.12 40.05,267.09 40.30,267.11 40.55,267.15 40.80,267.27 41.05,267.07 41.30,267.09 41.55,267.11 41.80,267.02 42.05,267.10 42.30,267.25 42.55,267.37 42.80,267.34 43.05,267.38 43.30,267.24 43.55,267.17 43.80,267.09 44.05,267.05 44.30,267.05 44.55,266.98 44.80,266.90 45.05,266.93 45.30,267.08 45.55,267.09 45.80,267.18 46.05,267.23 46.30,267.18 46.55,267.12 46.80,267.10 47.05,267.08 47.30,267.08 47.55,267.06 47.80,267.00 48.05,266.99 48.30,266.94 48.55,267.02 48.80,267.02 49.05,266.95 49.30,267.04 49.55,267.06 49.80,267.08 50.05,267.10 50.30,267.27 50.55,267.15 50.80,267.09 51.05,267.17 51.30,267.23 51.55,267.09 51.80,267.04 52.05,267.12 52.30,267.05 52.55,266.97 52.80,267.01 53.05,267.19 53.30,267.19 53.55,267.16 53.80,267.21 54.05,267.15 54.30,267.07 54.55,266.96 54.80,267.00 55.05,266.91 55.30,266.94 55.55,267.11 55.80,267.25 56.05,267.21 56.30,267.22 56.55,267.36 56.80,267.27 57.05,267.22 57.30,267.25 57.55,267.31 57.80,267.14 58.05,266.96 58.30,266.97 58.55,266.95 58.80,266.88 59.05,266.86 59.30,266.88 59.55,266.87 59.80,266.76 60.05,266.68 60.30,266.64 60.55,266.34 60.80,265.66 61.05,264.37 61.30,262.52 61.55,259.96 61.80,257.69 62.05,256.91 62.30,258.29 62.55,260.36 62.80,262.06 63.05,262.68 63.30,261.88 63.55,259.63 63.80,256.11 64.05,252.04 64.30,248.52 64.55,247.54 64.80,249.81 65.05,254.05 65.30,258.24 65.55,261.62 65.80,263.84 66.05,265.20 66.30,265.79 66.55,266.16 66.80,266.36 67.05,266.51 67.30,266.67 67.55,266.69 67.80,266.78 68.05,266.92 68.30,267.04 68.55,267.01 68.80,267.09 69.05,267.16 69.30,267.13 69.55,267.07 69.80,267.05 70.05,267.10 70.30,266.96 70.55,267.05 70.80,267.07 71.05,267.07 71.30,267.13 71.55,267.31 71.80,267.24 72.05,267.22 72.30,267.23 72.55,267.11 72.80,266.97 73.05,267.03 73.30,267.14 73.55,267.14 73.80,267.20 74.05,267.23 74.30,267.23 74.55,267.16 74.80,267.12 75.05,267.13 75.30,267.14 75.55,267.08 75.80,267.12 76.05,267.19 76.30,267.05 76.55,267.10 76.80,267.10 77.05,267.04 77.30,267.05 77.55,267.10 77.80,266.89 78.05,266.98 78.30,266.97 78.55,266.94 78.80,267.08 79.05,267.22 79.30,267.05 79.55,267.10 79.80,267.10 80.05,267.04 80.30,267.13 80.55,267.16 80.80,267.18 81.05,267.08 81.30,267.04 81.55,267.06 81.80,267.10 82.05,267.08 82.30,267.18 82.55,267.19 82.80,267.13 83.05,267.17 83.30,267.16 83.55,267.13 83.80,267.16 84.05,267.06 84.30,267.06 84.55,267.04 84.80,267.08 85.05,266.97 85.30,267.05 85.55,267.04 85.80,266.97 86.05,267.00 86.30,267.04 86.55,267.05 86.80,267.09 87.05,267.23 87.30,267.21 87.55,267.15 87.80,267.13 88.05,267.11 88.30,267.05 88.55,267.03 88.80,267.10 89.05,267.14 89.30,267.12 89.55,267.14 89.80,267.14 90.05,267.19 90.30,267.18 90.55,267.13 90.80,267.15 91.05,267.16 91.30,267.18 91.55,267.21 91.80,267.38 92.05,267.30 92.30,267.36 92.55,267.35 92.80,267.29 93.05,267.24 93.30,267.35 93.55,267.27 93.80,267.22 94.05,267.22 94.30,267.15 94.55,267.04 94.80,267.10 95.05,267.15 95.30,267.17 95.55,267.22 95.80,267.30 96.05,267.35 96.30,267.34 96.55,267.39 96.80,267.37 97.05,267.28 97.30,267.21 97.55,267.20 97.80,267.10 98.05,267.04 98.30,267.04 98.55,267.02 98.80,267.02 99.05,267.05 99.30,267.02 99.55,267.07 99.80,267.12 100.05,267.18 100.30,267.17 100.55,267.29 100.80,267.31 101.05,267.27 101.30,267.20 101.55,267.21 101.80,267.19 102.05,267.21 102.30,267.19 102.55,267.18 102.80,267.21 103.05,267.16 103.30,267.17 103.55,267.10 103.80,267.02 104.05,267.03 104.30,267.01 104.55,267.01 104.80,267.12 105.05,267.27 105.30,267.26 105.55,267.36 105.80,267.28 106.05,267.22 106.30,267.07 106.55,267.06 106.80,267.05 107.05,267.09 107.30,267.17 107.55,267.22 107.80,267.16 108.05,267.10 108.30,267.04 108.55,267.03 108.80,267.08 109.05,267.14 109.30,267.29 109.55,267.27 109.80,267.17 110.05,267.18 110.30,267.09 110.55,266.99 110.80,266.90 111.05,266.85 111.30,266.53 111.55,266.10 111.80,265.34 112.05,264.41 112.30,263.49 112.55,263.17 112.80,263.65 113.05,264.54 113.30,265.42 113.55,266.22 113.80,266.71 114.05,266.95 114.30,267.04 114.55,267.25 114.80,267.24 115.05,267.26 115.30,267.18 115.55,267.22 115.80,267.16 116.05,267.12 116.30,267.06 116.55,267.17 116.80,267.11 117.05,267.10 117.30,267.15 117.55,267.29 117.80,267.23 118.05,267.27 118.30,267.28 118.55,267.23 118.80,267.18 119.05,267.23 119.30,267.09 119.55,267.12 119.80,267.10 120.05,267.11 120.30,267.04 120.55,267.12 120.80,267.07 121.05,267.13 121.30,267.11 121.55,267.22 121.80,267.32 122.05,267.42 122.30,267.47 122.55,267.46 122.80,267.46 123.05,267.33 123.30,267.26 123.55,267.20 123.80,267.24 124.05,267.22 124.30,267.33 124.55,267.35 124.80,267.33 125.05,267.24 125.30,267.16 125.55,267.08 125.80,267.10 126.05,267.11 126.30,267.16 126.55,267.24 126.80,267.24 127.05,267.20 127.30,267.22 127.55,267.22 127.80,267.06 128.05,267.03 128.30,267.02 128.55,267.06 128.80,267.07 129.05,267.27 129.30,267.45 129.55,267.40 129.80,267.31 130.05,267.24 130.30,267.14 130.55,267.09 130.80,267.04 131.05,267.11 131.30,267.24 131.55,267.33 131.80,267.30 132.05,267.31 132.30,267.29 132.55,267.21 132.80,267.24 133.05,267.09 133.30,267.20 133.55,267.21 133.80,267.27 134.05,267.21 134.30,267.25 134.55,267.25 134.80,267.19 135.05,267.10 135.30,267.07 135.55,267.19 135.80,267.13 136.05,267.21 136.30,267.26 136.55,267.29 136.80,267.20 137.05,267.28 137.30,267.27 137.55,267.30 137.80,267.19 138.05,267.25 138.30,267.20 138.55,267.11 138.80,267.15 139.05,267.24 139.30,267.23 139.55,267.30 139.80,267.35 140.05,267.25 140.30,267.27 140.55,267.17 140.80,267.11 141.05,267.16 141.30,267.20 141.55,267.06 141.80,267.13 142.05,267.14 142.30,267.09 142.55,267.03 142.80,267.01 143.05,267.04 143.30,267.02 143.55,266.97 143.80,267.08 144.05,267.18 144.30,267.11 144.55,267.12 144.80,267.08 145.05,267.00 145.30,267.05 145.55,267.05 145.80,267.03 146.05,267.13 146.30,267.17 146.55,267.12 146.80,267.17 147.05,267.18 147.30,267.17 147.55,267.16 147.80,267.13 148.05,266.95 148.30,266.92 148.55,266.93 148.80,266.85 149.05,266.96 149.30,266.99 149.55,267.04 149.80,266.94 150.05,266.98 150.30,266.80 150.55,266.93 150.80,266.87 151.05,266.93 151.30,266.93 151.55,267.01 151.80,267.10 152.05,267.23 152.30,267.26 152.55,267.24 152.80,267.29 153.05,267.17 153.30,267.09 153.55,267.03 153.80,267.07 154.05,267.10 154.30,267.07 154.55,267.06 154.80,267.05 155.05,266.89 155.30,266.90 155.55,266.94 155.80,266.93 156.05,267.00 156.30,267.06 156.55,267.00 156.80,266.98 157.05,267.00 157.30,266.98 157.55,267.03 157.80,267.07 158.05,267.02 158.30,266.92 158.55,266.87 158.80,266.85 159.05,266.72 159.30,266.83 159.55,266.82 159.80,266.82 160.05,266.83 160.30,266.99 160.55,266.88 160.80,266.96 161.05,266.92 161.30,266.85 161.55,266.75 161.80,266.75 162.05,266.72 162.30,266.65 162.55,266.70 162.80,266.69 163.05,266.63 163.30,266.60 163.55,266.66 163.80,266.60 164.05,266.56 164.30,266.59 164.55,266.54 164.80,266.50 165.05,266.42 165.30,266.37 165.55,266.37 165.80,266.37 166.05,266.16 166.30,266.03 166.55,265.91 166.80,265.77 167.05,265.61 167.30,265.65 167.55,265.66 167.80,265.53 168.05,265.36 168.30,265.25 168.55,265.05 168.80,264.85 169.05,264.63 169.30,264.34 169.55,263.96 169.80,263.48 170.05,262.86 170.30,262.17 170.55,260.96 170.80,259.23 171.05,256.66 171.30,252.67 171.55,247.28 171.80,240.88 172.05,233.94 172.30,227.42 172.55,221.83 172.80,215.90 173.05,208.96 173.30,200.85 173.55,192.38 173.80,184.04 174.05,177.21 174.30,172.88 174.55,171.92 174.80,174.36 175.05,180.09 175.30,188.03 175.55,197.46 175.80,207.54 176.05,217.38 176.30,226.62 176.55,234.85 176.80,241.83 177.05,247.63 177.30,252.26 177.55,255.59 177.80,258.23 178.05,260.22 178.30,261.48 178.55,262.47 178.80,263.29 179.05,263.79 179.30,264.08 179.55,264.38 179.80,264.71 180.05,264.94 180.30,265.14 180.55,265.42 180.80,265.57 181.05,265.64 181.30,265.70 181.55,265.87 181.80,265.89 182.05,265.97 182.30,265.97 182.55,266.04 182.80,266.07 183.05,266.14 183.30,266.17 183.55,266.23 183.80,266.30 184.05,266.33 184.30,266.31 184.55,266.32 184.80,266.30 185.05,266.38 185.30,266.47 185.55,266.60 185.80,266.66 186.05,266.76 186.30,266.74 186.55,266.71 186.80,266.72 187.05,266.80 187.30,266.77 187.55,266.93 187.80,266.96 188.05,267.02 188.30,267.02 188.55,267.09 188.80,266.91 189.05,266.85 189.30,266.75 189.55,266.74 189.80,266.67 190.05,266.70 190.30,266.69 190.55,266.70 190.80,266.75 191.05,266.82 191.30,266.89 191.55,266.97 191.80,266.99 192.05,266.99 192.30,267.07 192.55,267.06 192.80,266.98 193.05,266.99 193.30,266.93 193.55,266.86 193.80,266.88 194.05,266.86 194.30,266.91 194.55,266.93 194.80,266.87 195.05,266.96 195.30,266.96 195.55,266.91 195.80,266.96 196.05,267.04 196.30,266.98 196.55,267.01 196.80,267.03 197.05,267.06 197.30,267.06 197.55,267.12 197.80,267.16 198.05,267.12 198.30,267.13 198.55,267.19 198.80,267.22 199.05,267.18 199.30,267.25 199.55,267.24 199.80,267.29 200.05,267.23 200.30,267.42 200.55,267.48 200.80,267.41 201.05,267.32 201.30,267.27 201.55,267.13 201.80,267.10 202.05,267.10 202.30,267.05 202.55,267.07 202.80,267.05 203.05,267.12 203.30,267.18 203.55,267.16 203.80,267.08 204.05,267.00 204.30,266.85 204.55,266.83 204.80,266.84 205.05,266.86 205.30,266.91 205.55,266.89 205.80,266.98 206.05,267.01 206.30,266.94 206.55,267.00 206.80,267.08 207.05,267.11 207.30,267.22 207.55,267.32 207.80,267.32 208.05,267.41 208.30,267.34 208.55,267.22 208.80,267.22 209.05,267.15 209.30,267.01 209.55,266.99 209.80,267.09 210.05,267.03 210.30,267.13 210.55,267.10 210.80,267.12 211.05,267.05 211.30,267.20 211.55,267.18 211.80,267.26 212.05,267.26 212.30,267.28 212.55,267.24 212.80,267.21 213.05,267.11 213.30,267.16 213.55,267.20 213.80,267.20 214.05,267.23 214.30,267.40 214.55,267.30 214.80,267.27 215.05,267.21 215.30,267.25 215.55,267.19 215.80,267.13 216.05,267.16 216.30,267.15 216.55,267.10 216.80,267.07 217.05,267.14 217.30,267.09 217.55,267.12 217.80,267.15 218.05,267.19 218.30,267.29 218.55,267.28 218.80,267.35 219.05,267.29 219.30,267.30 219.55,267.20 219.80,267.25 220.05,267.15 220.30,267.15 220.55,267.21 220.80,267.16 221.05,267.18 221.30,267.30 221.55,267.29 221.80,267.14 222.05,267.15 222.30,267.16 222.55,267.08 222.80,267.12 223.05,267.11 223.30,267.09 223.55,267.03 223.80,267.04 224.05,267.09 224.30,267.20 224.55,267.30 224.80,267.28 225.05,267.24 225.30,267.27 225.55,267.23 225.80,267.22 226.05,267.31 226.30,267.31 226.55,267.33 226.80,267.36 227.05,267.33 227.30,267.30 227.55,267.28 227.80,267.25 228.05,267.16 228.30,267.12 228.55,267.06 228.80,267.11 229.05,267.01 229.30,267.18 229.55,267.20 229.80,267.24 230.05,267.28 230.30,267.32 230.55,267.27 230.80,267.30 231.05,267.28 231.30,267.18 231.55,267.13 231.80,267.09 232.05,266.97 232.30,266.94 232.55,266.97 232.80,267.01 233.05,267.04 233.30,267.17 233.55,267.17 233.80,267.30 234.05,267.36 234.30,267.22 234.55,267.16 234.80,267.29 235.05,267.09 235.30,267.02 235.55,267.09 235.80,267.12 236.05,267.02 236.30,267.04 236.55,267.09 236.80,267.09 237.05,267.04 237.30,267.06 237.55,267.15 237.80,266.97 238.05,266.97 238.30,267.07 238.55,267.08 238.80,267.05 239.05,267.17 239.30,267.21 239.55,267.07 239.80,267.12 240.05,267.11 240.30,267.19 240.55,267.20 240.80,267.46 241.05,267.32 241.30,267.37 241.55,267.27 241.80,267.12 242.05,267.00 242.30,267.03 242.55,266.99 242.80,267.03 243.05,267.18 243.30,267.14 243.55,267.16 243.80,267.15 244.05,267.09 244.30,267.07 244.55,267.04 244.80,267.06 245.05,267.12 245.30,267.20 245.55,267.21 245.80,267.24 246.05,267.27 246.30,267.16 246.55,267.19 246.80,267.15 247.05,267.19 247.30,267.16 247.55,267.25 247.80,267.23 248.05,267.14 248.30,267.17 248.55,267.17 248.80,267.24 249.05,267.19 249.30,267.28 249.55,267.25 249.80,267.31 250.05,267.24 250.30,267.33 250.55,267.41 250.80,267.34 251.05,267.22 251.30,267.18 251.55,267.11 251.80,267.06 252.05,267.18 252.30,267.29 252.55,267.25 252.80,267.36 253.05,267.29 253.30,267.20 253.55,267.19 253.80,267.28 254.05,267.30 254.30,267.25 254.55,267.29 254.80,267.23 255.05,267.11 255.30,267.00 255.55,267.02 255.80,266.89 256.05,266.89 256.30,266.78 256.55,266.73 256.80,266.65 257.05,266.60 257.30,266.56 257.55,266.51 257.80,266.14 258.05,265.98 258.30,265.63 258.55,265.21 258.80,264.84 259.05,264.70 259.30,264.68 259.55,264.79 259.80,264.79 260.05,264.73 260.30,264.15 260.55,262.71 260.80,260.00 261.05,256.00 261.30,250.88 261.55,246.52 261.80,245.12 262.05,248.06 262.30,253.05 262.55,258.03 262.80,261.79 263.05,264.21 263.30,265.57 263.55,266.11 263.80,266.48 264.05,266.52 264.30,266.62 264.55,266.63 264.80,266.77 265.05,266.77 265.30,266.95 265.55,266.89 265.80,266.85 266.05,266.93 266.30,266.87 266.55,266.84 266.80,266.94 267.05,267.02 267.30,266.97 267.55,267.10 267.80,267.13 268.05,267.18 268.30,267.12 268.55,267.16 268.80,267.08 269.05,267.14 269.30,267.14 269.55,267.29 269.80,267.22 270.05,267.34 270.30,267.32 270.55,267.32 270.80,267.29 271.05,267.36 271.30,267.27 271.55,267.25 271.80,267.22 272.05,267.11 272.30,267.03 272.55,266.99 272.80,266.97 273.05,266.99 273.30,266.98 273.55,267.05 273.80,267.11 274.05,267.02 274.30,267.05 274.55,267.06 274.80,267.11 275.05,267.13 275.30,267.27 275.55,267.20 275.80,267.20 276.05,267.02 276.30,267.05 276.55,267.05 276.80,267.01 277.05,266.93 277.30,266.97 277.55,266.89 277.80,266.81 278.05,266.90 278.30,266.99 278.55,267.06 278.80,267.11 279.05,267.12 279.30,267.22 279.55,267.22 279.80,267.23 280.05,267.24 280.30,267.30 280.55,267.18 280.80,267.16 281.05,267.18 281.30,267.24 281.55,267.23 281.80,267.25 282.05,267.22 282.30,267.23 282.55,267.12 282.80,267.11 283.05,267.08 283.30,267.19 283.55,267.08 283.80,267.09 284.05,267.00 284.30,266.99 284.55,266.99 284.80,267.03 285.05,267.03 285.30,267.08 285.55,267.21 285.80,267.19 286.05,267.15 286.30,267.15 286.55,267.15 286.80,267.05 287.05,267.10 287.30,267.16 287.55,267.12 287.80,267.14 288.05,267.09 288.30,266.91 288.55,266.75 288.80,266.57 289.05,266.19 289.30,265.85 289.55,265.88 289.80,266.05 290.05,266.29 290.30,266.69 290.55,266.98 290.80,266.95 291.05,267.09 291.30,267.19 291.55,267.18 291.80,267.14 292.05,267.29 292.30,267.23 292.55,267.27 292.80,267.29 293.05,267.25 293.30,267.18 293.55,267.15 293.80,267.16 294.05,267.07 294.30,267.12 294.55,267.14 294.80,267.25 295.05,267.27 295.30,267.29 295.55,267.33 295.80,267.26 296.05,267.18 296.30,267.17 296.55,267.14 296.80,267.07 297.05,267.05 297.30,267.12 297.55,267.06 297.80,267.08 298.05,267.20 298.30,267.13 298.55,267.06 298.80,267.00 299.05,267.04 299.30,266.98 299.55,267.20 299.80,267.26 300.05,267.27 300.30,267.26 300.55,267.29 300.80,267.15 301.05,267.16 301.30,267.30 301.55,267.32 301.80,267.20 302.05,267.33 302.30,267.30 302.55,267.22 302.80,267.10 303.05,267.30 303.30,267.24 303.55,267.27 303.80,267.24 304.05,267.28 304.30,267.28 304.55,267.25 304.80,267.12 305.05,267.06 305.30,267.09 305.55,267.08 305.80,267.17 306.05,267.26 306.30,267.40 306.55,267.32 306.80,267.27 307.05,267.30 307.30,267.27 307.55,267.27 307.80,267.37 308.05,267.39 308.30,267.25 308.55,267.38 308.80,267.33 309.05,267.35 309.30,267.27 309.55,267.20 309.80,267.13 310.05,267.13 310.30,267.22 310.55,267.26 310.80,267.37 311.05,267.35 311.30,267.41 311.55,267.26 311.80,267.21 312.05,267.15 312.30,267.18 312.55,267.04 312.80,267.01 313.05,267.08 313.30,267.17 313.55,267.16 313.80,267.20 314.05,267.16 314.30,267.07 314.55,267.02 314.80,266.91 315.05,266.93 315.30,266.90 315.55,266.87 315.80,266.88 316.05,266.90 316.30,266.90 316.55,267.03 316.80,267.03 317.05,267.04 317.30,267.16 317.55,267.14 317.80,267.14 318.05,267.10 318.30,267.13 318.55,267.05 318.80,267.15 319.05,267.20 319.30,267.35 319.55,267.25 319.80,267.21 320.05,267.09 320.30,267.13 320.55,267.13 320.80,267.17 321.05,267.12 321.30,267.15 321.55,267.03 321.80,267.06 322.05,267.01 322.30,267.11 322.55,267.05 322.80,267.08 323.05,266.99 323.30,267.01 323.55,267.00 323.80,267.07 324.05,267.16 324.30,267.12 324.55,267.19 324.80,267.16 325.05,267.19 325.30,267.02 325.55,267.16 325.80,267.10 326.05,267.17 326.30,267.12 326.55,267.11 326.80,267.05 327.05,266.97 327.30,266.92 327.55,266.84 327.80,266.82 328.05,266.80 328.30,266.87 328.55,266.81 328.80,266.84 329.05,266.83 329.30,266.68 329.55,266.50 329.80,266.36 330.05,266.06 330.30,265.67 330.55,264.86 330.80,263.51 331.05,261.32 331.30,258.63 331.55,255.63 331.80,253.25 332.05,252.64 332.30,254.21 332.55,256.85 332.80,259.68 333.05,262.05 333.30,263.80 333.55,264.87 333.80,265.48 334.05,265.90 334.30,266.07 334.55,266.00 334.80,265.88 335.05,265.78 335.30,265.34 335.55,264.96 335.80,264.10 336.05,262.55 336.30,260.07 336.55,256.58 336.80,252.01 337.05,247.32 337.30,243.74 337.55,242.78 337.80,244.99 338.05,249.23 338.30,253.86 338.55,257.92 338.80,261.12 339.05,263.33 339.30,264.74 339.55,265.53 339.80,266.07 340.05,266.30 340.30,266.43 340.55,266.53 340.80,266.69 341.05,266.67 341.30,266.60 341.55,266.55 341.80,266.57 342.05,266.62 342.30,266.75 342.55,266.91 342.80,267.03 343.05,266.99 343.30,267.04 343.55,267.06 343.80,267.14 344.05,267.24 344.30,267.32 344.55,267.25 344.80,267.15 345.05,267.05 345.30,266.98 345.55,266.98 345.80,267.10 346.05,267.20 346.30,267.27 346.55,267.26 346.80,267.28 347.05,267.30 347.30,267.29 347.55,267.20 347.80,267.13 348.05,267.19 348.30,267.09 348.55,267.12 348.80,267.11 349.05,267.18 349.30,267.13 349.55,267.07 349.80,267.00 350.05,267.01 350.30,267.04 350.55,266.91 350.80,266.94 351.05,266.95 351.30,266.97 351.55,267.03 351.80,267.16 352.05,267.15 352.30,267.23 352.55,267.36 352.80,267.28 353.05,267.20 353.30,267.22 353.55,267.23 353.80,267.20 354.05,267.25 354.30,267.26 354.55,267.36 354.80,267.34 355.05,267.22 355.30,267.11 355.55,267.15 355.80,266.98 356.05,266.96 356.30,266.98 356.55,267.04 356.80,267.13 357.05,267.16 357.30,267.10 357.55,267.04 357.80,266.99 358.05,266.90 358.30,266.98 358.55,267.03 358.80,267.06 359.05,267.15 359.30,267.09 359.55,267.06 359.80,267.02 360.05,267.08 360.30,267.01 360.55,267.14 360.80,267.23 361.05,267.36 361.30,267.31 361.55,267.39 361.80,267.32 362.05,267.20 362.30,267.07 362.55,267.15 362.80,267.18 363.05,267.21 363.30,267.22 363.55,267.24 363.80,267.18 364.05,267.06 364.30,267.05 364.55,267.04 364.80,266.96 365.05,267.01 365.30,267.09 365.55,267.16 365.80,267.16 366.05,267.32 366.30,267.32 366.55,267.32 366.80,267.17 367.05,267.20 367.30,267.09 367.55,267.17 367.80,267.05 368.05,267.19 368.30,267.15 368.55,267.19 368.80,266.98 369.05,267.09 369.30,267.01 369.55,267.13 369.80,267.10 370.05,267.22 370.30,267.20 370.55,267.22 370.80,267.18 371.05,267.19 371.30,267.03 371.55,266.99 371.80,267.00 372.05,267.01 372.30,267.10 372.55,267.22 372.80,267.33 373.05,267.33 373.30,267.25 373.55,267.20 373.80,267.17 374.05,267.14 374.30,267.21 374.55,267.32 374.80,267.32 375.05,267.41 375.30,267.43 375.55,267.37 375.80,267.26 376.05,267.31 376.30,267.30 376.55,267.26 376.80,267.37 377.05,267.30 377.30,267.30 377.55,267.22 377.80,267.18 378.05,266.99 378.30,267.17 378.55,267.01 378.80,267.10 379.05,267.05 379.30,267.23 379.55,267.16 379.80,267.25 380.05,267.21 380.30,267.34 380.55,267.26 380.80,267.21 381.05,267.31 381.30,267.30 381.55,267.18 381.80,267.02 382.05,266.90 382.30,266.60 382.55,266.36 382.80,266.28 383.05,266.38 383.30,266.46 383.55,266.63 383.80,266.90 384.05,266.97 384.30,267.00 384.55,267.05 384.80,267.02 385.05,267.03 385.30,267.13 385.55,267.17 385.80,267.22 386.05,267.23 386.30,267.23 386.55,267.21 386.80,267.22 387.05,267.21 387.30,267.26 387.55,267.32 387.80,267.32 388.05,267.24 388.30,267.23 388.55,267.21 388.80,267.11 389.05,267.11 389.30,267.11 389.55,267.13 389.80,267.23 390.05,267.27 390.30,267.27 390.55,267.41 390.80,267.37 391.05,267.31 391.30,267.19 391.55,267.14 391.80,267.10 392.05,267.04 392.30,267.02 392.55,267.11 392.80,267.20 393.05,267.12 393.30,267.15 393.55,267.17 393.80,267.20 394.05,267.21 394.30,267.23 394.55,267.23 394.80,267.15 395.05,267.10 395.30,267.04 395.55,266.99 395.80,267.03 396.05,267.00 396.30,267.00 396.55,266.92 396.80,266.97 397.05,266.96 397.30,266.96 397.55,266.80 397.80,266.85 398.05,266.74 398.30,266.55 398.55,266.29 398.80,265.88 399.05,265.22 399.30,264.50 399.55,263.65 399.80,263.08 400.05,262.97 400.30,263.23 400.55,263.85 400.80,264.63 401.05,265.14 401.30,265.67 401.55,266.07 401.80,266.16 402.05,266.27 402.30,266.43 402.55,266.39 402.80,266.12 403.05,265.77 403.30,265.03 403.55,264.01 403.80,262.62 404.05,261.27 404.30,260.32 404.55,260.10 404.80,260.64 405.05,261.76 405.30,263.07 405.55,264.19 405.80,265.08 406.05,265.79 406.30,266.31 406.55,266.49 406.80,266.67 407.05,266.79 407.30,266.72 407.55,266.68 407.80,266.83 408.05,266.86 408.30,266.85 408.55,266.90 408.80,266.97 409.05,266.97 409.30,266.99 409.55,267.00 409.80,267.11 410.05,267.10 410.30,267.12 410.55,267.01 410.80,267.02 411.05,267.04 411.30,267.06 411.55,267.03 411.80,267.10 412.05,267.06 412.30,266.99 412.55,267.03 412.80,267.20 413.05,267.22 413.30,267.20 413.55,267.24 413.80,267.25 414.05,267.07 414.30,267.09 414.55,267.11 414.80,267.10 415.05,267.06 415.30,267.03 415.55,267.03 415.80,267.12 416.05,267.07 416.30,267.13 416.55,267.14 416.80,267.16 417.05,267.13 417.30,267.32 417.55,267.25 417.80,267.34 418.05,267.20 418.30,267.18 418.55,267.04 418.80,267.09 419.05,267.06 419.30,267.09 419.55,267.19 419.80,267.16 420.05,267.15 420.30,267.01 420.55,267.17 420.80,267.17 421.05,267.17 421.30,267.20 421.55,267.28 421.80,267.12 422.05,267.01 422.30,267.00 422.55,266.87 422.80,266.84 423.05,266.70 423.30,266.54 423.55,266.40 423.80,266.25 424.05,266.27 424.30,266.39 424.55,266.48 424.80,266.60 425.05,266.75 425.30,266.87 425.55,266.94 425.80,267.12 426.05,267.12 426.30,267.23 426.55,267.23 426.80,267.35 427.05,267.22 427.30,267.32 427.55,267.30 427.80,267.18 428.05,267.03 428.30,267.08 428.55,266.94 428.80,266.84 429.05,266.94 429.30,267.08 429.55,267.05 429.80,267.22 430.05,267.27 430.30,267.22 430.55,267.10 430.80,267.09 431.05,267.09 431.30,267.15 431.55,267.24 431.80,267.37 432.05,267.39 432.30,267.32 432.55,267.22 432.80,267.26 433.05,267.13 433.30,267.22 433.55,267.21 433.80,267.20 434.05,267.10 434.30,267.15 434.55,267.17 434.80,267.20 435.05,267.27 435.30,267.27 435.55,267.18 435.80,267.09 436.05,267.05 436.30,267.09 436.55,267.07 436.80,267.12 437.05,267.09 437.30,267.09 437.55,267.01 437.80,266.98 438.05,266.99 438.30,267.04 438.55,267.11 438.80,267.08 439.05,267.08 439.30,267.02 439.55,267.04 439.80,267.09 440.05,267.15 440.30,267.20 440.55,267.21 440.80,267.18 441.05,267.11 441.30,267.04 441.55,267.06 441.80,267.13 442.05,267.12 442.30,267.12 442.55,267.25 442.80,267.25 443.05,267.14 443.30,267.16 443.55,267.26 443.80,267.14 444.05,267.21 444.30,267.29 444.55,267.25 444.80,267.04 445.05,267.12 445.30,267.01 445.55,267.00 445.80,267.01 446.05,267.12 446.30,266.98 446.55,266.97 446.80,266.93 447.05,266.98 447.30,266.95 447.55,267.07 447.80,267.11 448.05,267.12 448.30,267.04 448.55,267.00 448.80,266.99 449.05,267.05 449.30,267.16 449.55,267.29 449.80,267.34 450.05,267.44 450.30,267.38 450.55,267.29 450.80,267.25 451.05,267.28 451.30,267.10 451.55,266.99 451.80,266.97 452.05,266.96 452.30,266.91 452.55,266.98 452.80,267.12 453.05,267.23 453.30,267.15 453.55,267.25 453.80,267.27 454.05,267.20 454.30,267.17 454.55,267.28 454.80,267.13 455.05,267.14 455.30,267.16 455.55,267.11 455.80,267.03 456.05,267.13 456.30,267.18 456.55,267.16 456.80,267.13 457.05,267.16 457.30,267.12 457.55,267.06 457.80,266.99 458.05,267.00 458.30,266.92 458.55,266.95 458.80,266.87 459.05,266.89 459.30,266.78 459.55,266.69 459.80,266.57 460.05,266.54 460.30,266.46 460.55,266.44 460.80,266.43 461.05,266.16 461.30,265.79 461.55,265.16 461.80,264.10 462.05,262.35 462.30,260.20 462.55,257.87 462.80,255.86 463.05,255.34 463.30,256.40 463.55,258.58 463.80,260.77 464.05,262.45 464.30,263.40 464.55,263.65 464.80,263.00 465.05,261.62 465.30,259.40 465.55,256.09 465.80,252.12 466.05,248.06 466.30,244.83 466.55,243.97 466.80,245.87 467.05,249.61 467.30,253.92 467.55,257.78 467.80,260.75 468.05,262.92 468.30,264.25 468.55,265.04 468.80,265.55 469.05,265.95 469.30,266.13 469.55,266.41 469.80,266.51 470.05,266.63 470.30,266.78 470.55,266.85 470.80,266.88 471.05,266.96 471.30,267.00 471.55,266.99 471.80,267.03 472.05,267.01 472.30,266.92 472.55,267.03 472.80,267.04 473.05,267.12 473.30,267.01 473.55,267.13 473.80,267.01 474.05,266.98 474.30,266.95 474.55,267.17 474.80,267.10 475.05,267.18 475.30,267.13 475.55,267.06 475.80,266.92 476.05,266.98 476.30,267.02 476.55,267.15 476.80,267.26 477.05,267.26 477.30,267.25 477.55,267.17 477.80,267.05 478.05,266.94 478.30,266.95 478.55,266.96 478.80,266.97 479.05,267.04 479.30,267.11 479.55,267.18 479.80,267.13 480.05,267.09 480.30,267.12 480.55,267.11 480.80,267.00 481.05,267.08 481.30,267.16 481.55,267.08 481.80,267.11 482.05,267.13 482.30,267.10 482.55,267.06 482.80,267.10 483.05,267.11 483.30,267.21 483.55,267.19 483.80,267.12 484.05,267.16 484.30,267.14 484.55,267.04 484.80,267.06 485.05,267.20 485.30,267.22 485.55,267.13 485.80,267.20 486.05,267.25 486.30,267.20 486.55,267.18 486.80,267.26 487.05,267.22 487.30,267.21 487.55,267.26 487.80,267.24 488.05,267.22 488.30,267.23 488.55,267.25 488.80,267.24 489.05,267.09 489.30,266.95 489.55,266.94 489.80,266.88 490.05,266.84 490.30,266.86 490.55,267.00 490.80,267.13 491.05,267.09 491.30,267.13 491.55,267.21 491.80,267.22 492.05,267.14 492.30,267.27 492.55,267.27 492.80,267.30 493.05,267.28 493.30,267.26 493.55,267.23 493.80,267.19 494.05,267.16 494.30,267.19 494.55,267.19 494.80,267.20 495.05,267.28 495.30,267.17 495.55,267.13 495.80,267.15 496.05,267.14 496.30,267.08 496.55,267.27 496.80,267.35 497.05,267.39 497.30,267.28 497.55,267.27 497.80,267.23 498.05,267.28 498.30,267.21 498.55,267.24 498.80,267.27 499.05,267.27 499.30,267.28 499.55,267.27 499.80,267.37 500.05,267.29 500.30,267.34 500.55,267.23 500.80,267.33 501.05,267.17 501.30,267.22 501.55,267.13 501.80,267.10 502.05,267.07 502.30,267.20 502.55,267.15 502.80,267.21 503.05,267.20 503.30,267.17 503.55,267.03 503.80,267.05 504.05,267.04 504.30,267.17 504.55,267.09 504.80,267.28 505.05,267.31 505.30,267.22 505.55,267.15 505.80,267.24 506.05,267.14 506.30,267.19 506.55,267.25 506.80,267.31 507.05,267.35 507.30,267.36 507.55,267.36 507.80,267.32 508.05,267.23 508.30,267.25 508.55,267.27 508.80,267.18 509.05,267.20 509.30,267.16 509.55,267.01 509.80,266.90 510.05,266.88 510.30,266.89 510.55,266.96 510.80,267.03 511.05,267.12"/>
<polyline fill="none" stroke="#000000" stroke-width="1.75" stroke-linejoin="round" points="39.05,335.75 39.30,335.79 39.55,335.78 39.80,335.82 40.05,335.85 40.30,335.92 40.55,335.92 40.80,335.91 41.05,335.95 41.30,335.98 41.55,336.01 41.80,336.05 42.05,336.06 42.30,336.04 42.55,335.97 42.80,335.92 43.05,335.85 43.30,335.92 43.55,336.01 43.80,336.08 44.05,336.01 44.30,336.02 44.55,336.07 44.80,336.05 45.05,335.91 45.30,335.93 45.55,335.94 45.80,335.77 46.05,335.68 46.30,335.67 46.55,335.74 46.80,335.67 47.05,335.71 47.30,335.73 47.55,335.92 47.80,335.91 48.05,335.96 48.30,335.85 48.55,335.90 48.80,335.80 49.05,335.65 49.30,335.74 49.55,335.91 49.80,335.83 50.05,335.80 50.30,335.96 50.55,335.91 50.80,335.88 51.05,335.88 51.30,335.94 51.55,335.85 51.80,335.85 52.05,335.79 52.30,335.79 52.55,335.73 52.80,335.84 53.05,335.76 53.30,335.83 53.55,335.86 53.80,335.86 54.05,335.86 54.30,335.81 54.55,335.82 54.80,335.79 55.05,335.80 55.30,335.76 55.55,335.89 55.80,335.81 56.05,335.73 56.30,335.72 56.55,335.69 56.80,335.65 57.05,335.63 57.30,335.72 57.55,335.61 57.80,335.53 58.05,335.58 58.30,335.60 58.55,335.53 58.80,335.55 59.05,335.58 59.30,335.46 59.55,335.47 59.80,335.48 60.05,335.46 60.30,335.51 60.55,335.45 60.80,335.32 61.05,334.95 61.30,333.82 61.55,331.09 61.80,327.21 62.05,325.69 62.30,328.45 62.55,331.94 62.80,333.84 63.05,334.57 63.30,334.52 63.55,334.16 63.80,332.76 64.05,329.63 64.30,324.54 64.55,319.43 64.80,318.77 65.05,323.45 65.30,328.87 65.55,332.45 65.80,334.11 66.05,334.86 66.30,335.18 66.55,335.34 66.80,335.40 67.05,335.42 67.30,335.44 67.55,335.52 67.80,335.58 68.05,335.71 68.30,335.79 68.55,335.83 68.80,335.82 69.05,335.75 69.30,335.66 69.55,335.62 69.80,335.66 70.05,335.59 70.30,335.69 70.55,335.69 70.80,335.79 71.05,335.73 71.30,335.79 71.55,335.66 71.80,335.61 72.05,335.58 72.30,335.60 72.55,335.61 72.80,335.68 73.05,335.76 73.30,335.87 73.55,335.68 73.80,335.71 74.05,335.74 74.30,335.75 74.55,335.62 74.80,335.81 75.05,335.78 75.30,335.75 75.55,335.71 75.80,335.72 76.05,335.58 76.30,335.62 76.55,335.64 76.80,335.69 77.05,335.72 77.30,335.83 77.55,335.76 77.80,335.84 78.05,335.81 78.30,335.83 78.55,335.88 78.80,335.90 79.05,335.81 79.30,335.78 79.55,335.77 79.80,335.76 80.05,335.70 80.30,335.71 80.55,335.87 80.80,335.87 81.05,335.75 81.30,335.89 81.55,335.96 81.80,335.86 82.05,335.81 82.30,335.92 82.55,335.77 82.80,335.73 83.05,335.68 83.30,335.68 83.55,335.65 83.80,335.78 84.05,335.70 84.30,335.74 84.55,335.77 84.80,335.74 85.05,335.81 85.30,335.86 85.55,335.85 85.80,335.91 86.05,335.95 86.30,335.84 86.55,335.93 86.80,335.94 87.05,335.83 87.30,335.88 87.55,335.89 87.80,335.88 88.05,335.95 88.30,336.00 88.55,335.87 88.80,335.89 89.05,335.79 89.30,335.76 89.55,335.78 89.80,335.75 90.05,335.64 90.30,335.63 90.55,335.57 90.80,335.58 91.05,335.57 91.30,335.60 91.55,335.62 91.80,335.58 92.05,335.53 92.30,335.68 92.55,335.67 92.80,335.70 93.05,335.84 93.30,335.90 93.55,335.82 93.80,335.89 94.05,335.88 94.30,335.87 94.55,335.80 94.80,335.84 95.05,335.85 95.30,335.87 95.55,335.80 95.80,335.75 96.05,335.74 96.30,335.75 96.55,335.79 96.80,335.72 97.05,335.82 97.30,335.85 97.55,335.82 97.80,335.78 98.05,335.90 98.30,335.94 98.55,335.92 98.80,335.93 99.05,335.92 99.30,335.85 99.55,335.78 99.80,335.82 100.05,335.78 100.30,335.70 100.55,335.75 100.80,335.78 101.05,335.72 101.30,335.75 101.55,335.81 101.80,335.72 102.05,335.72 102.30,335.82 102.55,335.79 102.80,335.81 103.05,335.98 103.30,335.99 103.55,335.90 103.80,335.95 104.05,335.97 104.30,335.89 104.55,335.80 104.80,335.90 105.05,335.88 105.30,335.86 105.55,335.90 105.80,335.94 106.05,335.87 106.30,335.92 106.55,335.83 106.80,335.78 107.05,335.79 107.30,335.79 107.55,335.73 107.80,335.81 108.05,335.77 108.30,335.76 108.55,335.81 108.80,335.83 109.05,335.78 109.30,335.79 109.55,335.77 109.80,335.62 110.05,335.55 110.30,335.55 110.55,335.41 110.80,335.17 111.05,334.53 111.30,333.24 111.55,330.86 111.80,328.17 112.05,327.26 112.30,329.27 112.55,331.90 112.80,333.72 113.05,334.71 113.30,335.14 113.55,335.35 113.80,335.48 114.05,335.71 114.30,335.74 114.55,335.79 114.80,335.74 115.05,335.81 115.30,335.75 115.55,335.75 115.80,335.64 116.05,335.67 116.30,335.69 116.55,335.67 116.80,335.73 117.05,335.91 117.30,335.99 117.55,335.97 117.80,336.08 118.05,335.99 118.30,335.92 118.55,335.87 118.80,335.87 119.05,335.73 119.30,335.79 119.55,335.62 119.80,335.66 120.05,335.69 120.30,335.82 120.55,335.87 120.80,336.06 121.05,335.99 121.30,335.93 121.55,335.88 121.80,335.90 122.05,335.80 122.30,335.89 122.55,335.97 122.80,335.89 123.05,335.89 123.30,335.99 123.55,335.97 123.80,335.92 124.05,336.01 124.30,336.01 124.55,336.05 124.80,335.94 125.05,335.91 125.30,335.89 125.55,335.92 125.80,335.92 126.05,335.98 126.30,335.98 126.55,336.01 126.80,335.87 127.05,335.87 127.30,335.90 127.55,335.87 127.80,335.79 128.05,335.86 128.30,335.81 128.55,335.74 128.80,335.78 129.05,335.90 129.30,335.89 129.55,335.81 129.80,335.83 130.05,335.84 130.30,335.72 130.55,335.70 130.80,335.72 131.05,335.73 131.30,335.69 131.55,335.85 131.80,335.75 132.05,335.79 132.30,335.77 132.55,335.81 132.80,335.66 133.05,335.77 133.30,335.77 133.55,335.73 133.80,335.74 134.05,335.77 134.30,335.75 134.55,335.73 134.80,335.79 135.05,335.81 135.30,335.87 135.55,335.92 135.80,335.89 136.05,335.90 136.30,335.86 136.55,335.84 136.80,335.83 137.05,335.88 137.30,335.90 137.55,335.95 137.80,335.99 138.05,335.90 138.30,335.93 138.55,335.90 138.80,335.81 139.05,335.68 139.30,335.82 139.55,335.71 139.80,335.68 140.05,335.75 140.30,335.79 140.55,335.78 140.80,335.79 141.05,335.78 141.30,335.79 141.55,335.84 141.80,335.77 142.05,335.82 142.30,335.89 142.55,335.81 142.80,335.72 143.05,335.76 143.30,335.75 143.55,335.70 143.80,335.86 144.05,335.95 144.30,336.00 144.55,335.91 144.80,335.89 145.05,335.75 145.30,335.67 145.55,335.62 145.80,335.67 146.05,335.67 146.30,335.67 146.55,335.69 146.80,335.70 147.05,335.72 147.30,335.65 147.55,335.61 147.80,335.68 148.05,335.69 148.30,335.76 148.55,335.86 148.80,335.87 149.05,335.79 149.30,335.79 149.55,335.75 149.80,335.71 150.05,335.74 150.30,335.76 150.55,335.73 150.80,335.75 151.05,335.78 151.30,335.81 151.55,335.85 151.80,335.92 152.05,335.88 152.30,335.96 152.55,335.97 152.80,335.95 153.05,335.81 153.30,335.80 153.55,335.82 153.80,335.81 154.05,335.67 154.30,335.73 154.55,335.68 154.80,335.58 155.05,335.63 155.30,335.77 155.55,335.78 155.80,335.85 156.05,335.82 156.30,335.80 156.55,335.79 156.80,335.79 157.05,335.75 157.30,335.72 157.55,335.65 157.80,335.64 158.05,335.65 158.30,335.64 158.55,335.62 158.80,335.57 159.05,335.60 159.30,335.67 159.55,335.73 159.80,335.78 160.05,335.75 160.30,335.69 160.55,335.62 160.80,335.58 161.05,335.58 161.30,335.66 161.55,335.75 161.80,335.69 162.05,335.64 162.30,335.52 162.55,335.55 162.80,335.42 163.05,335.52 163.30,335.48 163.55,335.51 163.80,335.48 164.05,335.50 164.30,335.50 164.55,335.58 164.80,335.60 165.05,335.40 165.30,335.38 165.55,335.26 165.80,335.23 166.05,335.19 166.30,335.26 166.55,335.18 166.80,335.09 167.05,334.99 167.30,334.91 167.55,334.80 167.80,334.74 168.05,334.56 168.30,334.43 168.55,334.38 168.80,334.30 169.05,334.05 169.30,333.88 169.55,333.55 169.80,333.04 170.05,332.22 170.30,330.47 170.55,326.74 170.80,320.90 171.05,314.86 171.30,313.52 171.55,317.74 171.80,322.49 172.05,324.18 172.30,322.66 172.55,318.47 172.80,311.43 173.05,301.49 173.30,289.32 173.55,275.85 173.80,263.29 174.05,255.09 174.30,254.04 174.55,260.24 174.80,270.38 175.05,280.08 175.30,286.24 175.55,289.19 175.80,293.15 176.05,302.51 176.30,313.73 176.55,322.39 176.80,327.48 177.05,330.22 177.30,331.59 177.55,332.28 177.80,332.78 178.05,333.34 178.30,333.75 178.55,333.98 178.80,334.19 179.05,334.37 179.30,334.45 179.55,334.44 179.80,334.51 180.05,334.59 180.30,334.78 180.55,334.87 180.80,335.00 181.05,335.09 181.30,335.11 181.55,335.04 181.80,334.98 182.05,334.87 182.30,334.97 182.55,335.13 182.80,335.26 183.05,335.38 183.30,335.49 183.55,335.50 183.80,335.53 184.05,335.41 184.30,335.29 184.55,335.31 184.80,335.29 185.05,335.35 185.30,335.47 185.55,335.56 185.80,335.68 186.05,335.69 186.30,335.67 186.55,335.76 186.80,335.80 187.05,335.67 187.30,335.66 187.55,335.59 187.80,335.53 188.05,335.57 188.30,335.59 188.55,335.67 188.80,335.77 189.05,335.80 189.30,335.75 189.55,335.76 189.80,335.67 190.05,335.55 190.30,335.48 190.55,335.38 190.80,335.43 191.05,335.46 191.30,335.55 191.55,335.60 191.80,335.70 192.05,335.87 192.30,335.89 192.55,335.91 192.80,335.89 193.05,335.90 193.30,335.70 193.55,335.81 193.80,335.77 194.05,335.78 194.30,335.79 194.55,335.79 194.80,335.78 195.05,335.86 195.30,335.91 195.55,335.93 195.80,335.97 196.05,335.91 196.30,335.84 196.55,335.79 196.80,335.83 197.05,335.84 197.30,335.76 197.55,335.72 197.80,335.68 198.05,335.68 198.30,335.67 198.55,335.72 198.80,335.79 199.05,335.78 199.30,335.67 199.55,335.58 199.80,335.64 200.05,335.54 200.30,335.62 200.55,335.59 200.80,335.72 201.05,335.67 201.30,335.81 201.55,335.82 201.80,335.93 202.05,335.85 202.30,335.88 202.55,335.81 202.80,335.70 203.05,335.64 203.30,335.57 203.55,335.65 203.80,335.73 204.05,335.75 204.30,335.91 204.55,335.99 204.80,335.85 205.05,335.83 205.30,335.83 205.55,335.72 205.80,335.75 206.05,335.78 206.30,335.73 206.55,335.66 206.80,335.61 207.05,335.72 207.30,335.62 207.55,335.57 207.80,335.63 208.05,335.53 208.30,335.42 208.55,335.56 208.80,335.59 209.05,335.62 209.30,335.79 209.55,335.80 209.80,335.78 210.05,335.80 210.30,335.86 210.55,335.74 210.80,335.68 211.05,335.74 211.30,335.76 211.55,335.72 211.80,335.80 212.05,335.95 212.30,335.87 212.55,335.86 212.80,335.85 213.05,335.89 213.30,335.78 213.55,335.75 213.80,335.74 214.05,335.75 214.30,335.68 214.55,335.70 214.80,335.71 215.05,335.76 215.30,335.76 215.55,335.81 215.80,335.85 216.05,336.02 216.30,336.05 216.55,336.01 216.80,336.11 217.05,336.14 217.30,336.09 217.55,336.06 217.80,336.04 218.05,335.97 218.30,335.86 218.55,335.88 218.80,335.94 219.05,336.05 219.30,335.94 219.55,335.86 219.80,335.79 220.05,335.73 220.30,335.58 220.55,335.55 220.80,335.67 221.05,335.65 221.30,335.63 221.55,335.76 221.80,335.83 222.05,335.88 222.30,335.87 222.55,335.77 222.80,335.75 223.05,335.76 223.30,335.67 223.55,335.65 223.80,335.72 224.05,335.67 224.30,335.62 224.55,335.68 224.80,335.75 225.05,335.68 225.30,335.81 225.55,335.92 225.80,335.92 226.05,335.88 226.30,336.08 226.55,335.90 226.80,335.84 227.05,335.75 227.30,335.76 227.55,335.64 227.80,335.79 228.05,335.88 228.30,335.89 228.55,335.81 228.80,335.83 229.05,335.76 229.30,335.62 229.55,335.67 229.80,335.80 230.05,335.85 230.30,335.81 230.55,335.89 230.80,335.89 231.05,335.83 231.30,335.78 231.55,335.86 231.80,335.88 232.05,335.92 232.30,335.89 232.55,335.90 232.80,335.89 233.05,335.87 233.30,335.79 233.55,335.76 233.80,335.74 234.05,335.61 234.30,335.53 234.55,335.58 234.80,335.64 235.05,335.59 235.30,335.64 235.55,335.65 235.80,335.61 236.05,335.52 236.30,335.53 236.55,335.41 236.80,335.26 237.05,335.18 237.30,334.94 237.55,334.64 237.80,334.48 238.05,334.39 238.30,334.34 238.55,334.57 238.80,334.78 239.05,335.10 239.30,335.28 239.55,335.50 239.80,335.57 240.05,335.68 240.30,335.64 240.55,335.66 240.80,335.59 241.05,335.52 241.30,335.47 241.55,335.52 241.80,335.54 242.05,335.61 242.30,335.74 242.55,335.77 242.80,335.69 243.05,335.69 243.30,335.68 243.55,335.70 243.80,335.72 244.05,335.78 244.30,335.72 244.55,335.70 244.80,335.59 245.05,335.60 245.30,335.69 245.55,335.83 245.80,335.76 246.05,335.81 246.30,335.77 246.55,335.71 246.80,335.67 247.05,335.76 247.30,335.81 247.55,335.80 247.80,335.85 248.05,335.94 248.30,336.00 248.55,335.97 248.80,336.08 249.05,335.96 249.30,335.85 249.55,335.77 249.80,335.72 250.05,335.65 250.30,335.65 250.55,335.77 250.80,335.75 251.05,335.82 251.30,335.79 251.55,335.86 251.80,335.68 252.05,335.74 252.30,335.69 252.55,335.77 252.80,335.76 253.05,335.73 253.30,335.75 253.55,335.89 253.80,335.83 254.05,335.91 254.30,336.02 254.55,336.04 254.80,335.91 255.05,335.81 255.30,335.72 255.55,335.68 255.80,335.51 256.05,335.45 256.30,335.39 256.55,335.22 256.80,334.91 257.05,334.60 257.30,334.13 257.55,333.68 257.80,333.05 258.05,332.44 258.30,332.08 258.55,331.81 258.80,331.78 259.05,332.00 259.30,332.44 259.55,332.64 259.80,332.91 260.05,332.76 260.30,331.56 260.55,327.84 260.80,319.82 261.05,308.56 261.30,302.16 261.55,308.34 261.80,318.91 262.05,325.31 262.30,325.37 262.55,322.15 262.80,322.00 263.05,326.74 263.30,331.22 263.55,333.63 263.80,334.39 264.05,334.87 264.30,335.06 264.55,335.21 264.80,335.25 265.05,335.44 265.30,335.45 265.55,335.61 265.80,335.60 266.05,335.63 266.30,335.57 266.55,335.61 266.80,335.65 267.05,335.70 267.30,335.69 267.55,335.60 267.80,335.65 268.05,335.61 268.30,335.68 268.55,335.81 268.80,335.89 269.05,335.85 269.30,335.71 269.55,335.72 269.80,335.68 270.05,335.76 270.30,335.72 270.55,335.86 270.80,335.85 271.05,335.78 271.30,335.78 271.55,335.75 271.80,335.73 272.05,335.65 272.30,335.69 272.55,335.59 272.80,335.57 273.05,335.60 273.30,335.61 273.55,335.65 273.80,335.65 274.05,335.69 274.30,335.72 274.55,335.73 274.80,335.60 275.05,335.72 275.30,335.78 275.55,335.74 275.80,335.76 276.05,335.89 276.30,335.80 276.55,335.84 276.80,335.87 277.05,335.86 277.30,335.82 277.55,335.86 277.80,335.77 278.05,335.80 278.30,335.81 278.55,335.83 278.80,335.86 279.05,335.81 279.30,335.85 279.55,335.83 279.80,335.84 280.05,335.77 280.30,335.91 280.55,335.80 280.80,335.85 281.05,335.74 281.30,335.74 281.55,335.72 281.80,335.71 282.05,335.63 282.30,335.69 282.55,335.78 282.80,335.77 283.05,335.75 283.30,335.81 283.55,335.88 283.80,335.84 284.05,335.74 284.30,335.79 284.55,335.76 284.80,335.71 285.05,335.59 285.30,335.57 285.55,335.43 285.80,335.44 286.05,335.45 286.30,335.55 286.55,335.62 286.80,335.71 287.05,335.72 287.30,335.52 287.55,335.32 287.80,334.69 288.05,333.57 288.30,331.98 288.55,330.53 288.80,330.37 289.05,331.92 289.30,333.62 289.55,334.85 289.80,335.47 290.05,335.66 290.30,335.74 290.55,335.75 290.80,335.68 291.05,335.75 291.30,335.66 291.55,335.60 291.80,335.58 292.05,335.53 292.30,335.52 292.55,335.64 292.80,335.62 293.05,335.71 293.30,335.81 293.55,335.84 293.80,335.90 294.05,335.87 294.30,335.80 294.55,335.82 294.80,335.76 295.05,335.74 295.30,335.80 295.55,335.86 295.80,335.85 296.05,335.85 296.30,335.79 296.55,335.77 296.80,335.76 297.05,335.80 297.30,335.78 297.55,335.84 297.80,335.89 298.05,335.84 298.30,335.74 298.55,335.87 298.80,335.88 299.05,335.80 299.30,335.79 299.55,335.81 299.80,335.66 300.05,335.69 300.30,335.73 300.55,335.70 300.80,335.68 301.05,335.84 301.30,335.75 301.55,335.75 301.80,335.79 302.05,335.72 302.30,335.59 302.55,335.58 302.80,335.54 303.05,335.55 303.30,335.63 303.55,335.61 303.80,335.70 304.05,335.74 304.30,335.68 304.55,335.71 304.80,335.69 305.05,335.68 305.30,335.69 305.55,335.75 305.80,335.73 306.05,335.78 306.30,335.76 306.55,335.75 306.80,335.69 307.05,335.64 307.30,335.68 307.55,335.66 307.80,335.70 308.05,335.84 308.30,335.91 308.55,335.91 308.80,335.97 309.05,335.94 309.30,335.91 309.55,335.84 309.80,335.87 310.05,335.82 310.30,335.81 310.55,335.75 310.80,335.83 311.05,335.87 311.30,335.79 311.55,335.82 311.80,335.85 312.05,335.82 312.30,335.77 312.55,335.79 312.80,335.77 313.05,335.76 313.30,335.75 313.55,335.70 313.80,335.77 314.05,335.81 314.30,335.93 314.55,335.97 314.80,336.02 315.05,335.97 315.30,335.90 315.55,335.77 315.80,335.77 316.05,335.65 316.30,335.61 316.55,335.60 316.80,335.61 317.05,335.62 317.30,335.68 317.55,335.75 317.80,335.73 318.05,335.77 318.30,335.76 318.55,335.75 318.80,335.80 319.05,335.89 319.30,335.94 319.55,335.99 319.80,336.06 320.05,336.02 320.30,335.96 320.55,335.95 320.80,335.85 321.05,335.71 321.30,335.74 321.55,335.76 321.80,335.69 322.05,335.82 322.30,335.99 322.55,335.90 322.80,335.87 323.05,335.91 323.30,335.72 323.55,335.58 323.80,335.75 324.05,335.84 324.30,335.76 324.55,335.77 324.80,335.92 325.05,335.83 325.30,335.82 325.55,335.83 325.80,335.96 326.05,335.85 326.30,335.80 326.55,335.70 326.80,335.75 327.05,335.59 327.30,335.64 327.55,335.64 327.80,335.62 328.05,335.59 328.30,335.71 328.55,335.66 328.80,335.61 329.05,335.53 329.30,335.51 329.55,335.36 329.80,335.26 330.05,335.10 330.30,334.94 330.55,334.57 330.80,333.96 331.05,332.48 331.30,329.54 331.55,324.66 331.80,319.47 332.05,317.77 332.30,321.54 332.55,326.83 332.80,331.11 333.05,333.42 333.30,334.44 333.55,334.69 333.80,334.94 334.05,335.02 334.30,334.98 334.55,335.06 334.80,335.30 335.05,335.43 335.30,335.45 335.55,335.52 335.80,335.38 336.05,335.15 336.30,334.85 336.55,334.31 336.80,333.51 337.05,331.73 337.30,327.55 337.55,321.05 337.80,314.15 338.05,311.70 338.30,316.30 338.55,323.40 338.80,328.62 339.05,330.86 339.30,330.66 339.55,328.86 339.80,326.77 340.05,326.15 340.30,327.95 340.55,330.68 340.80,332.85 341.05,334.01 341.30,334.61 341.55,334.84 341.80,334.98 342.05,335.06 342.30,335.23 342.55,335.24 342.80,335.33 343.05,335.42 343.30,335.53 343.55,335.64 343.80,335.76 344.05,335.83 344.30,335.86 344.55,335.90 344.80,335.90 345.05,335.88 345.30,335.80 345.55,335.74 345.80,335.67 346.05,335.60 346.30,335.67 346.55,335.65 346.80,335.53 347.05,335.46 347.30,335.50 347.55,335.52 347.80,335.57 348.05,335.67 348.30,335.78 348.55,335.80 348.80,335.74 349.05,335.80 349.30,335.83 349.55,335.89 349.80,335.82 350.05,335.87 350.30,335.86 350.55,335.95 350.80,335.87 351.05,336.03 351.30,336.05 351.55,335.97 351.80,335.79 352.05,335.87 352.30,335.78 352.55,335.77 352.80,335.86 353.05,335.96 353.30,335.83 353.55,335.81 353.80,335.80 354.05,335.63 354.30,335.66 354.55,335.68 354.80,335.70 355.05,335.63 355.30,335.74 355.55,335.79 355.80,335.86 356.05,335.81 356.30,335.82 356.55,335.74 356.80,335.58 357.05,335.60 357.30,335.58 357.55,335.72 357.80,335.78 358.05,335.90 358.30,335.84 358.55,335.99 358.80,335.93 359.05,335.97 359.30,336.02 359.55,336.15 359.80,336.10 360.05,336.19 360.30,336.19 360.55,336.13 360.80,335.98 361.05,335.99 361.30,335.94 361.55,335.89 361.80,335.92 362.05,336.07 362.30,335.98 362.55,335.95 362.80,335.95 363.05,335.93 363.30,335.80 363.55,335.88 363.80,335.87 364.05,335.97 364.30,335.95 364.55,335.96 364.80,335.85 365.05,335.89 365.30,335.87 365.55,335.77 365.80,335.78 366.05,335.89 366.30,335.87 366.55,335.84 366.80,335.81 367.05,335.84 367.30,335.82 367.55,335.71 367.80,335.59 368.05,335.69 368.30,335.73 368.55,335.60 368.80,335.67 369.05,335.71 369.30,335.65 369.55,335.58 369.80,335.69 370.05,335.65 370.30,335.69 370.55,335.65 370.80,335.66 371.05,335.61 371.30,335.72 371.55,335.74 371.80,335.74 372.05,335.74 372.30,335.80 372.55,335.75 372.80,335.78 373.05,335.75 373.30,335.73 373.55,335.80 373.80,335.66 374.05,335.67 374.30,335.82 374.55,335.84 374.80,335.85 375.05,335.93 375.30,335.84 375.55,335.77 375.80,335.73 376.05,335.61 376.30,335.59 376.55,335.70 376.80,335.66 377.05,335.71 377.30,335.68 377.55,335.68 377.80,335.72 378.05,335.77 378.30,335.75 378.55,335.82 378.80,335.82 379.05,335.62 379.30,335.63 379.55,335.62 379.80,335.59 380.05,335.68 380.30,335.80 380.55,335.76 380.80,335.68 381.05,335.63 381.30,335.43 381.55,335.17 381.80,334.91 382.05,334.65 382.30,334.12 382.55,333.82 382.80,333.53 383.05,333.33 383.30,333.41 383.55,333.82 383.80,334.15 384.05,334.53 384.30,334.93 384.55,335.17 384.80,335.32 385.05,335.50 385.30,335.60 385.55,335.78 385.80,335.89 386.05,335.99 386.30,336.03 386.55,335.86 386.80,335.75 387.05,335.62 387.30,335.61 387.55,335.36 387.80,335.54 388.05,335.50 388.30,335.59 388.55,335.59 388.80,335.71 389.05,335.66 389.30,335.57 389.55,335.59 389.80,335.64 390.05,335.74 390.30,335.78 390.55,335.91 390.80,335.87 391.05,335.79 391.30,335.71 391.55,335.68 391.80,335.68 392.05,335.69 392.30,335.81 392.55,335.86 392.80,335.92 393.05,335.99 393.30,335.88 393.55,335.72 393.80,335.63 394.05,335.57 394.30,335.47 394.55,335.59 394.80,335.71 395.05,335.76 395.30,335.72 395.55,335.77 395.80,335.65 396.05,335.49 396.30,335.40 396.55,335.45 396.80,335.37 397.05,335.51 397.30,335.56 397.55,335.49 397.80,335.18 398.05,334.88 398.30,334.36 398.55,333.78 398.80,333.22 399.05,332.76 399.30,332.55 399.55,332.51 399.80,332.79 400.05,333.28 400.30,333.87 400.55,334.21 400.80,334.56 401.05,334.82 401.30,335.06 401.55,335.14 401.80,335.24 402.05,335.29 402.30,335.38 402.55,335.31 402.80,335.18 403.05,335.01 403.30,334.82 403.55,334.44 403.80,334.03 404.05,333.57 404.30,333.00 404.55,332.46 404.80,331.84 405.05,331.43 405.30,331.32 405.55,331.58 405.80,332.04 406.05,332.63 406.30,333.42 406.55,334.05 406.80,334.52 407.05,334.94 407.30,335.37 407.55,335.49 407.80,335.58 408.05,335.66 408.30,335.71 408.55,335.71 408.80,335.63 409.05,335.65 409.30,335.70 409.55,335.69 409.80,335.72 410.05,335.72 410.30,335.75 410.55,335.74 410.80,335.71 411.05,335.75 411.30,335.79 411.55,335.74 411.80,335.76 412.05,335.84 412.30,335.73 412.55,335.79 412.80,335.74 413.05,335.69 413.30,335.64 413.55,335.64 413.80,335.67 414.05,335.67 414.30,335.74 414.55,335.63 414.80,335.59 415.05,335.46 415.30,335.55 415.55,335.55 415.80,335.74 416.05,335.85 416.30,335.93 416.55,335.93 416.80,336.00 417.05,335.79 417.30,335.74 417.55,335.73 417.80,335.74 418.05,335.67 418.30,335.68 418.55,335.64 418.80,335.65 419.05,335.58 419.30,335.53 419.55,335.70 419.80,335.73 420.05,335.67 420.30,335.70 420.55,335.70 420.80,335.56 421.05,335.54 421.30,335.53 421.55,335.53 421.80,335.50 422.05,335.46 422.30,335.35 422.55,335.29 422.80,335.03 423.05,334.86 423.30,334.65 423.55,334.60 423.80,334.44 424.05,334.46 424.30,334.45 424.55,334.66 424.80,334.79 425.05,334.92 425.30,335.12 425.55,335.34 425.80,335.51 426.05,335.58 426.30,335.73 426.55,335.85 426.80,335.94 427.05,335.76 427.30,335.83 427.55,335.81 427.80,335.81 428.05,335.78 428.30,335.93 428.55,335.87 428.80,335.99 429.05,335.81 429.30,335.87 429.55,335.88 429.80,335.81 430.05,335.72 430.30,335.76 430.55,335.65 430.80,335.59 431.05,335.66 431.30,335.69 431.55,335.73 431.80,335.74 432.05,335.81 432.30,335.85 432.55,335.92 432.80,336.06 433.05,336.09 433.30,336.09 433.55,336.10 433.80,335.99 434.05,336.01 434.30,335.94 434.55,335.88 434.80,335.80 435.05,335.79 435.30,335.61 435.55,335.76 435.80,335.84 436.05,335.82 436.30,335.94 436.55,335.96 436.80,335.86 437.05,335.73 437.30,335.80 437.55,335.75 437.80,335.83 438.05,335.86 438.30,335.88 438.55,335.84 438.80,335.78 439.05,335.87 439.30,335.80 439.55,335.90 439.80,335.93 440.05,335.96 440.30,335.91 440.55,335.94 440.80,335.88 441.05,335.92 441.30,335.91 441.55,335.81 441.80,335.84 442.05,335.76 442.30,335.75 442.55,335.86 442.80,335.90 443.05,335.91 443.30,336.03 443.55,335.95 443.80,335.89 444.05,335.85 444.30,335.73 444.55,335.79 444.80,335.84 445.05,335.71 445.30,335.76 445.55,335.87 445.80,335.85 446.05,335.84 446.30,335.82 446.55,335.83 446.80,335.77 447.05,335.77 447.30,335.79 447.55,335.93 447.80,335.77 448.05,335.85 448.30,335.85 448.55,335.87 448.80,335.80 449.05,335.90 449.30,335.85 449.55,335.81 449.80,335.72 450.05,335.74 450.30,335.78 450.55,335.84 450.80,335.71 451.05,335.77 451.30,335.74 451.55,335.71 451.80,335.60 452.05,335.63 452.30,335.57 452.55,335.59 452.80,335.55 453.05,335.53 453.30,335.59 453.55,335.60 453.80,335.55 454.05,335.46 454.30,335.35 454.55,335.22 454.80,335.18 455.05,335.07 455.30,335.10 455.55,335.06 455.80,334.98 456.05,334.63 456.30,334.50 456.55,334.35 456.80,334.09 457.05,333.83 457.30,333.75 457.55,333.43 457.80,333.04 458.05,332.58 458.30,331.90 458.55,330.82 458.80,329.73 459.05,329.21 459.30,329.56 459.55,330.17 459.80,330.65 460.05,330.87 460.30,330.79 460.55,330.44 460.80,330.10 461.05,329.85 461.30,329.40 461.55,328.58 461.80,327.48 462.05,325.48 462.30,323.20 462.55,322.40 462.80,323.79 463.05,325.72 463.30,326.89 463.55,327.19 463.80,326.58 464.05,325.67 464.30,324.93 464.55,325.45 464.80,326.18 465.05,326.56 465.30,325.75 465.55,322.56 465.80,316.33 466.05,309.66 466.30,309.07 466.55,315.53 466.80,322.52 467.05,326.76 467.30,328.18 467.55,327.59 467.80,325.45 468.05,322.86 468.30,322.80 468.55,325.92 468.80,329.27 469.05,331.24 469.30,332.12 469.55,332.68 469.80,333.24 470.05,333.47 470.30,333.68 470.55,333.96 470.80,334.20 471.05,334.36 471.30,334.50 471.55,334.73 471.80,334.89 472.05,334.95 472.30,334.93 472.55,335.13 472.80,335.21 473.05,335.25 473.30,335.29 473.55,335.37 473.80,335.41 474.05,335.51 474.30,335.45 474.55,335.49 474.80,335.56 475.05,335.44 475.30,335.30 475.55,335.43 475.80,335.46 476.05,335.48 476.30,335.60 476.55,335.70 476.80,335.63 477.05,335.63 477.30,335.66 477.55,335.62 477.80,335.59 478.05,335.74 478.30,335.84 478.55,335.90 478.80,335.97 479.05,336.05 479.30,335.93 479.55,335.84 479.80,335.78 480.05,335.68 480.30,335.65 480.55,335.69 480.80,335.59 481.05,335.62 481.30,335.70 481.55,335.68 481.80,335.69 482.05,335.79 482.30,335.74 482.55,335.83 482.80,335.86 483.05,335.93 483.30,335.96 483.55,336.05 483.80,335.91 484.05,335.90 484.30,335.74 484.55,335.71 484.80,335.73 485.05,335.80 485.30,335.82 485.55,335.95 485.80,335.96 486.05,335.94 486.30,335.88 486.55,335.89 486.80,335.81 487.05,335.83 487.30,335.87 487.55,335.91 487.80,335.83 488.05,335.74 488.30,335.69 488.55,335.74 488.80,335.68 489.05,335.62 489.30,335.77 489.55,335.79 489.80,335.64 490.05,335.79 490.30,335.85 490.55,335.82 490.80,335.76 491.05,335.73 491.30,335.60 491.55,335.56 491.80,335.55 492.05,335.61 492.30,335.63 492.55,335.65 492.80,335.72 493.05,335.71 493.30,335.58 493.55,335.54 493.80,335.54 494.05,335.52 494.30,335.54 494.55,335.70 494.80,335.77 495.05,335.75 495.30,335.75 495.55,335.75 495.80,335.79 496.05,335.78 496.30,335.77 496.55,335.77 496.80,335.84 497.05,335.79 497.30,335.71 497.55,335.77 497.80,335.78 498.05,335.77 498.30,335.70 498.55,335.79 498.80,335.70 499.05,335.67 499.30,335.62 499.55,335.69 499.80,335.72 500.05,335.75 500.30,335.85 500.55,335.80 500.80,335.79 501.05,335.75 501.30,335.75 501.55,335.62 501.80,335.65 502.05,335.59 502.30,335.53 502.55,335.62 502.80,335.67 503.05,335.64 503.30,335.58 503.55,335.51 503.80,335.10 504.05,334.79 504.30,334.52 504.55,334.32 504.80,334.30 505.05,334.57 505.30,334.82 505.55,335.10 505.80,335.34 506.05,335.48 506.30,335.53 506.55,335.67 506.80,335.68 507.05,335.67 507.30,335.68 507.55,335.71 507.80,335.68 508.05,335.74 508.30,335.75 508.55,335.71 508.80,335.83 509.05,335.72 509.30,335.71 509.55,335.72 509.80,335.68 510.05,335.59 510.30,335.56 510.55,335.58 510.80,335.61 511.05,335.69"/>
<polyline fill="none" stroke="#e3131b" stroke-width="1.75" stroke-linejoin="round" points="39.05,405.71 39.30,405.74 39.55,405.69 39.80,405.58 40.05,405.52 40.30,405.56 40.55,405.55 40.80,405.65 41.05,405.63 41.30,405.66 41.55,405.54 41.80,405.52 42.05,405.49 42.30,405.50 42.55,405.55 42.80,405.60 43.05,405.59 43.30,405.53 43.55,405.69 43.80,405.45 44.05,405.41 44.30,405.42 44.55,405.57 44.80,405.46 45.05,405.63 45.30,405.69 45.55,405.72 45.80,405.59 46.05,405.59 46.30,405.61 46.55,405.51 46.80,405.42 47.05,405.49 47.30,405.49 47.55,405.49 47.80,405.55 48.05,405.63 48.30,405.57 48.55,405.69 48.80,405.71 49.05,405.85 49.30,405.84 49.55,405.82 49.80,405.62 50.05,405.53 50.30,405.43 50.55,405.44 50.80,405.43 51.05,405.39 51.30,405.40 51.55,405.35 51.80,405.37 52.05,405.40 52.30,405.44 52.55,405.52 52.80,405.55 53.05,405.49 53.30,405.55 53.55,405.60 53.80,405.60 54.05,405.68 54.30,405.65 54.55,405.67 54.80,405.70 55.05,405.73 55.30,405.70 55.55,405.70 55.80,405.70 56.05,405.73 56.30,405.60 56.55,405.57 56.80,405.58 57.05,405.51 57.30,405.57 57.55,405.56 57.80,405.56 58.05,405.58 58.30,405.62 58.55,405.52 58.80,405.49 59.05,405.45 59.30,405.34 59.55,405.35 59.80,405.34 60.05,405.23 60.30,404.67 60.55,403.47 60.80,400.93 61.05,398.23 61.30,397.78 61.55,399.99 61.80,402.33 62.05,403.75 62.30,404.15 62.55,404.20 62.80,404.02 63.05,403.80 63.30,403.38 63.55,402.95 63.80,402.69 64.05,402.73 64.30,402.87 64.55,403.16 64.80,403.65 65.05,403.98 65.30,404.40 65.55,404.68 65.80,405.10 66.05,405.26 66.30,405.55 66.55,405.53 66.80,405.63 67.05,405.52 67.30,405.55 67.55,405.38 67.80,405.39 68.05,405.35 68.30,405.40 68.55,405.35 68.80,405.44 69.05,405.49 69.30,405.52 69.55,405.56 69.80,405.66 70.05,405.66 70.30,405.62 70.55,405.66 70.80,405.50 71.05,405.42 71.30,405.47 71.55,405.50 71.80,405.38 72.05,405.38 72.30,405.34 72.55,405.30 72.80,405.23 73.05,405.31 73.30,405.33 73.55,405.40 73.80,405.42 74.05,405.56 74.30,405.55 74.55,405.63 74.80,405.64 75.05,405.51 75.30,405.44 75.55,405.44 75.80,405.44 76.05,405.44 76.30,405.44 76.55,405.52 76.80,405.61 77.05,405.56 77.30,405.52 77.55,405.61 77.80,405.55 78.05,405.50 78.30,405.70 78.55,405.67 78.80,405.72 79.05,405.65 79.30,405.63 79.55,405.48 79.80,405.67 80.05,405.73 80.30,405.75 80.55,405.80 80.80,405.83 81.05,405.69 81.30,405.69 81.55,405.69 81.80,405.61 82.05,405.67 82.30,405.62 82.55,405.58 82.80,405.69 83.05,405.78 83.30,405.76 83.55,405.80 83.80,405.69 84.05,405.59 84.30,405.64 84.55,405.57 84.80,405.67 85.05,405.63 85.30,405.64 85.55,405.56 85.80,405.54 86.05,405.47 86.30,405.66 86.55,405.73 86.80,405.67 87.05,405.66 87.30,405.69 87.55,405.57 87.80,405.62 88.05,405.58 88.30,405.77 88.55,405.77 88.80,405.73 89.05,405.58 89.30,405.72 89.55,405.59 89.80,405.48 90.05,405.42 90.30,405.44 90.55,405.43 90.80,405.45 91.05,405.44 91.30,405.49 91.55,405.58 91.80,405.52 92.05,405.54 92.30,405.70 92.55,405.69 92.80,405.67 93.05,405.66 93.30,405.60 93.55,405.62 93.80,405.69 94.05,405.66 94.30,405.67 94.55,405.67 94.80,405.63 95.05,405.64 95.30,405.56 95.55,405.57 95.80,405.64 96.05,405.56 96.30,405.54 96.55,405.64 96.80,405.57 97.05,405.46 97.30,405.50 97.55,405.47 97.80,405.36 98.05,405.34 98.30,405.39 98.55,405.36 98.80,405.34 99.05,405.39 99.30,405.46 99.55,405.51 99.80,405.41 100.05,405.54 100.30,405.56 100.55,405.50 100.80,405.49 101.05,405.61 101.30,405.47 101.55,405.50 101.80,405.54 102.05,405.51 102.30,405.48 102.55,405.64 102.80,405.58 103.05,405.59 103.30,405.55 103.55,405.54 103.80,405.53 104.05,405.53 104.30,405.46 104.55,405.42 104.80,405.44 105.05,405.41 105.30,405.46 105.55,405.47 105.80,405.57 106.05,405.54 106.30,405.44 106.55,405.34 106.80,405.36 107.05,405.23 107.30,405.24 107.55,405.21 107.80,405.32 108.05,405.20 108.30,405.20 108.55,405.22 108.80,405.25 109.05,405.12 109.30,405.13 109.55,404.94 109.80,404.57 110.05,404.03 110.30,402.54 110.55,399.03 110.80,392.77 111.05,385.87 111.30,384.99 111.55,391.44 111.80,398.25 112.05,402.27 112.30,403.97 112.55,404.51 112.80,404.69 113.05,404.90 113.30,405.02 113.55,405.13 113.80,405.29 114.05,405.37 114.30,405.46 114.55,405.44 114.80,405.38 115.05,405.31 115.30,405.31 115.55,405.29 115.80,405.35 116.05,405.55 116.30,405.57 116.55,405.61 116.80,405.60 117.05,405.60 117.30,405.48 117.55,405.55 117.80,405.60 118.05,405.67 118.30,405.63 118.55,405.60 118.80,405.60 119.05,405.53 119.30,405.48 119.55,405.52 119.80,405.57 120.05,405.60 120.30,405.68 120.55,405.60 120.80,405.60 121.05,405.66 121.30,405.70 121.55,405.65 121.80,405.70 122.05,405.72 122.30,405.64 122.55,405.58 122.80,405.59 123.05,405.58 123.30,405.62 123.55,405.50 123.80,405.54 124.05,405.46 124.30,405.50 124.55,405.45 124.80,405.46 125.05,405.42 125.30,405.47 125.55,405.35 125.80,405.32 126.05,405.48 126.30,405.51 126.55,405.62 126.80,405.67 127.05,405.79 127.30,405.72 127.55,405.59 127.80,405.51 128.05,405.50 128.30,405.40 128.55,405.45 128.80,405.44 129.05,405.42 129.30,405.52 129.55,405.55 129.80,405.49 130.05,405.63 130.30,405.67 130.55,405.65 130.80,405.58 131.05,405.50 131.30,405.38 131.55,405.34 131.80,405.23 132.05,405.33 132.30,405.48 132.55,405.47 132.80,405.48 133.05,405.58 133.30,405.55 133.55,405.53 133.80,405.61 134.05,405.57 134.30,405.57 134.55,405.51 134.80,405.41 135.05,405.35 135.30,405.46 135.55,405.50 135.80,405.45 136.05,405.47 136.30,405.54 136.55,405.45 136.80,405.29 137.05,405.27 137.30,405.40 137.55,405.42 137.80,405.40 138.05,405.56 138.30,405.59 138.55,405.52 138.80,405.47 139.05,405.55 139.30,405.42 139.55,405.53 139.80,405.50 140.05,405.50 140.30,405.50 140.55,405.57 140.80,405.49 141.05,405.56 141.30,405.63 141.55,405.58 141.80,405.54 142.05,405.59 142.30,405.57 142.55,405.53 142.80,405.48 143.05,405.43 143.30,405.51 143.55,405.49 143.80,405.54 144.05,405.73 144.30,405.93 144.55,405.81 144.80,405.87 145.05,405.71 145.30,405.61 145.55,405.45 145.80,405.40 146.05,405.43 146.30,405.46 146.55,405.46 146.80,405.58 147.05,405.63 147.30,405.55 147.55,405.62 147.80,405.51 148.05,405.35 148.30,405.38 148.55,405.45 148.80,405.50 149.05,405.62 149.30,405.65 149.55,405.60 149.80,405.51 150.05,405.42 150.30,405.45 150.55,405.53 150.80,405.54 151.05,405.64 151.30,405.66 151.55,405.62 151.80,405.56 152.05,405.55 152.30,405.41 152.55,405.44 152.80,405.47 153.05,405.57 153.30,405.56 153.55,405.65 153.80,405.63 154.05,405.52 154.30,405.49 154.55,405.56 154.80,405.58 155.05,405.70 155.30,405.77 155.55,405.74 155.80,405.73 156.05,405.69 156.30,405.56 156.55,405.54 156.80,405.55 157.05,405.49 157.30,405.48 157.55,405.46 157.80,405.47 158.05,405.48 158.30,405.49 158.55,405.45 158.80,405.47 159.05,405.39 159.30,405.31 159.55,405.36 159.80,405.52 160.05,405.53 160.30,405.54 160.55,405.61 160.80,405.57 161.05,405.40 161.30,405.43 161.55,405.52 161.80,405.52 162.05,405.57 162.30,405.66 162.55,405.59 162.80,405.50 163.05,405.50 163.30,405.44 163.55,405.41 163.80,405.37 164.05,405.34 164.30,405.30 164.55,405.24 164.80,405.24 165.05,405.30 165.30,405.29 165.55,405.28 165.80,405.34 166.05,405.28 166.30,405.28 166.55,405.28 166.80,405.16 167.05,405.03 167.30,404.85 167.55,404.72 167.80,404.59 168.05,404.39 168.30,404.23 168.55,403.95 168.80,403.45 169.05,402.78 169.30,401.58 169.55,399.09 169.80,393.13 170.05,381.38 170.30,363.63 170.55,346.81 170.80,344.49 171.05,359.16 171.30,376.52 171.55,387.55 171.80,391.00 172.05,389.49 172.30,387.31 172.55,388.41 172.80,392.81 173.05,397.30 173.30,400.48 173.55,402.11 173.80,402.21 174.05,400.91 174.30,398.60 174.55,396.78 174.80,397.82 175.05,400.74 175.30,403.13 175.55,404.26 175.80,404.75 176.05,404.86 176.30,404.94 176.55,404.99 176.80,405.06 177.05,405.17 177.30,405.32 177.55,405.41 177.80,405.37 178.05,405.42 178.30,405.34 178.55,405.31 178.80,405.28 179.05,405.36 179.30,405.40 179.55,405.44 179.80,405.47 180.05,405.56 180.30,405.48 180.55,405.46 180.80,405.50 181.05,405.58 181.30,405.44 181.55,405.43 181.80,405.39 182.05,405.39 182.30,405.31 182.55,405.30 182.80,405.30 183.05,405.40 183.30,405.45 183.55,405.44 183.80,405.50 184.05,405.56 184.30,405.52 184.55,405.49 184.80,405.62 185.05,405.63 185.30,405.63 185.55,405.59 185.80,405.75 186.05,405.68 186.30,405.74 186.55,405.73 186.80,405.81 187.05,405.67 187.30,405.62 187.55,405.61 187.80,405.69 188.05,405.68 188.30,405.60 188.55,405.71 188.80,405.59 189.05,405.54 189.30,405.57 189.55,405.60 189.80,405.54 190.05,405.73 190.30,405.61 190.55,405.44 190.80,405.49 191.05,405.37 191.30,405.17 191.55,405.40 191.80,405.54 192.05,405.56 192.30,405.63 192.55,405.76 192.80,405.66 193.05,405.67 193.30,405.60 193.55,405.74 193.80,405.79 194.05,405.71 194.30,405.59 194.55,405.53 194.80,405.50 195.05,405.50 195.30,405.58 195.55,405.69 195.80,405.70 196.05,405.62 196.30,405.46 196.55,405.47 196.80,405.43 197.05,405.47 197.30,405.54 197.55,405.60 197.80,405.54 198.05,405.52 198.30,405.42 198.55,405.29 198.80,405.40 199.05,405.46 199.30,405.39 199.55,405.51 199.80,405.56 200.05,405.44 200.30,405.48 200.55,405.55 200.80,405.52 201.05,405.56 201.30,405.61 201.55,405.48 201.80,405.51 202.05,405.56 202.30,405.52 202.55,405.50 202.80,405.59 203.05,405.62 203.30,405.62 203.55,405.62 203.80,405.62 204.05,405.65 204.30,405.61 204.55,405.60 204.80,405.61 205.05,405.62 205.30,405.51 205.55,405.54 205.80,405.54 206.05,405.69 206.30,405.62 206.55,405.67 206.80,405.53 207.05,405.47 207.30,405.26 207.55,405.26 207.80,405.24 208.05,405.30 208.30,405.24 208.55,405.46 208.80,405.57 209.05,405.63 209.30,405.61 209.55,405.70 209.80,405.56 210.05,405.54 210.30,405.50 210.55,405.57 210.80,405.61 211.05,405.57 211.30,405.52 211.55,405.55 211.80,405.56 212.05,405.61 212.30,405.70 212.55,405.79 212.80,405.72 213.05,405.75 213.30,405.67 213.55,405.57 213.80,405.44 214.05,405.55 214.30,405.50 214.55,405.51 214.80,405.54 215.05,405.58 215.30,405.46 215.55,405.55 215.80,405.54 216.05,405.54 216.30,405.57 216.55,405.67 216.80,405.61 217.05,405.62 217.30,405.66 217.55,405.70 217.80,405.69 218.05,405.63 218.30,405.57 218.55,405.62 218.80,405.57 219.05,405.54 219.30,405.53 219.55,405.57 219.80,405.50 220.05,405.51 220.30,405.51 220.55,405.55 220.80,405.52 221.05,405.48 221.30,405.50 221.55,405.50 221.80,405.40 222.05,405.46 222.30,405.51 222.55,405.45 222.80,405.51 223.05,405.55 223.30,405.58 223.55,405.53 223.80,405.69 224.05,405.61 224.30,405.66 224.55,405.62 224.80,405.65 225.05,405.61 225.30,405.64 225.55,405.52 225.80,405.45 226.05,405.47 226.30,405.38 226.55,405.30 226.80,405.44 227.05,405.47 227.30,405.46 227.55,405.47 227.80,405.58 228.05,405.54 228.30,405.62 228.55,405.63 228.80,405.65 229.05,405.65 229.30,405.67 229.55,405.67 229.80,405.65 230.05,405.77 230.30,405.74 230.55,405.76 230.80,405.67 231.05,405.72 231.30,405.49 231.55,405.41 231.80,405.34 232.05,405.44 232.30,405.33 232.55,405.33 232.80,405.46 233.05,405.53 233.30,405.53 233.55,405.51 233.80,405.67 234.05,405.68 234.30,405.57 234.55,405.50 234.80,405.53 235.05,405.38 235.30,405.22 235.55,405.04 235.80,404.63 236.05,404.16 236.30,403.55 236.55,403.02 236.80,402.58 237.05,402.54 237.30,402.76 237.55,403.34 237.80,403.85 238.05,404.36 238.30,404.77 238.55,405.07 238.80,405.28 239.05,405.46 239.30,405.47 239.55,405.52 239.80,405.56 240.05,405.42 240.30,405.37 240.55,405.44 240.80,405.46 241.05,405.50 241.30,405.59 241.55,405.54 241.80,405.60 242.05,405.49 242.30,405.52 242.55,405.51 242.80,405.60 243.05,405.57 243.30,405.67 243.55,405.64 243.80,405.62 244.05,405.64 244.30,405.68 244.55,405.69 244.80,405.53 245.05,405.53 245.30,405.54 245.55,405.54 245.80,405.47 246.05,405.60 246.30,405.70 246.55,405.58 246.80,405.64 247.05,405.62 247.30,405.67 247.55,405.54 247.80,405.64 248.05,405.51 248.30,405.50 248.55,405.48 248.80,405.54 249.05,405.49 249.30,405.60 249.55,405.69 249.80,405.62 250.05,405.55 250.30,405.57 250.55,405.49 250.80,405.42 251.05,405.38 251.30,405.47 251.55,405.53 251.80,405.50 252.05,405.51 252.30,405.56 252.55,405.55 252.80,405.49 253.05,405.49 253.30,405.49 253.55,405.40 253.80,405.24 254.05,405.21 254.30,405.16 254.55,405.14 254.80,405.09 255.05,405.09 255.30,404.83 255.55,404.48 255.80,403.59 256.05,401.93 256.30,399.35 256.55,396.87 256.80,396.66 257.05,398.73 257.30,401.38 257.55,403.12 257.80,403.85 258.05,403.44 258.30,402.49 258.55,401.37 258.80,401.20 259.05,401.95 259.30,402.84 259.55,403.27 259.80,403.18 260.05,402.72 260.30,402.10 260.55,401.63 260.80,401.64 261.05,402.07 261.30,402.61 261.55,403.33 261.80,403.99 262.05,404.37 262.30,404.67 262.55,404.99 262.80,405.16 263.05,405.29 263.30,405.41 263.55,405.52 263.80,405.46 264.05,405.48 264.30,405.49 264.55,405.59 264.80,405.51 265.05,405.63 265.30,405.58 265.55,405.61 265.80,405.53 266.05,405.50 266.30,405.39 266.55,405.45 266.80,405.49 267.05,405.49 267.30,405.55 267.55,405.64 267.80,405.64 268.05,405.64 268.30,405.70 268.55,405.71 268.80,405.66 269.05,405.69 269.30,405.61 269.55,405.48 269.80,405.54 270.05,405.60 270.30,405.65 270.55,405.56 270.80,405.55 271.05,405.52 271.30,405.50 271.55,405.46 271.80,405.51 272.05,405.68 272.30,405.48 272.55,405.50 272.80,405.53 273.05,405.68 273.30,405.70 273.55,405.75 273.80,405.79 274.05,405.73 274.30,405.68 274.55,405.61 274.80,405.64 275.05,405.54 275.30,405.55 275.55,405.56 275.80,405.56 276.05,405.65 276.30,405.67 276.55,405.72 276.80,405.68 277.05,405.71 277.30,405.72 277.55,405.76 277.80,405.64 278.05,405.58 278.30,405.53 278.55,405.55 278.80,405.49 279.05,405.48 279.30,405.53 279.55,405.53 279.80,405.41 280.05,405.51 280.30,405.59 280.55,405.56 280.80,405.51 281.05,405.56 281.30,405.55 281.55,405.49 281.80,405.39 282.05,405.34 282.30,405.22 282.55,404.87 282.80,404.48 283.05,404.44 283.30,404.56 283.55,404.70 283.80,404.96 284.05,405.10 284.30,405.14 284.55,405.23 284.80,405.19 285.05,405.19 285.30,405.27 285.55,405.28 285.80,405.31 286.05,405.36 286.30,405.37 286.55,405.27 286.80,405.15 287.05,404.99 287.30,404.79 287.55,404.30 287.80,403.28 288.05,400.64 288.30,395.90 288.55,390.63 288.80,389.94 289.05,394.67 289.30,399.77 289.55,402.87 289.80,404.28 290.05,404.75 290.30,405.07 290.55,405.22 290.80,405.33 291.05,405.38 291.30,405.50 291.55,405.58 291.80,405.62 292.05,405.59 292.30,405.53 292.55,405.52 292.80,405.49 293.05,405.47 293.30,405.46 293.55,405.57 293.80,405.60 294.05,405.59 294.30,405.54 294.55,405.53 294.80,405.52 295.05,405.56 295.30,405.52 295.55,405.64 295.80,405.61 296.05,405.51 296.30,405.45 296.55,405.43 296.80,405.37 297.05,405.39 297.30,405.51 297.55,405.57 297.80,405.57 298.05,405.72 298.30,405.80 298.55,405.81 298.80,405.74 299.05,405.69 299.30,405.66 299.55,405.59 299.80,405.59 300.05,405.64 300.30,405.70 300.55,405.50 300.80,405.44 301.05,405.54 301.30,405.51 301.55,405.54 301.80,405.70 302.05,405.70 302.30,405.52 302.55,405.53 302.80,405.52 303.05,405.54 303.30,405.47 303.55,405.50 303.80,405.62 304.05,405.73 304.30,405.74 304.55,405.79 304.80,405.83 305.05,405.69 305.30,405.52 305.55,405.40 305.80,405.54 306.05,405.55 306.30,405.50 306.55,405.50 306.80,405.54 307.05,405.40 307.30,405.32 307.55,405.43 307.80,405.49 308.05,405.49 308.30,405.55 308.55,405.66 308.80,405.66 309.05,405.69 309.30,405.81 309.55,405.81 309.80,405.72 310.05,405.69 310.30,405.61 310.55,405.57 310.80,405.52 311.05,405.54 311.30,405.55 311.55,405.59 311.80,405.47 312.05,405.53 312.30,405.50 312.55,405.49 312.80,405.58 313.05,405.60 313.30,405.62 313.55,405.71 313.80,405.62 314.05,405.49 314.30,405.56 314.55,405.47 314.80,405.38 315.05,405.46 315.30,405.45 315.55,405.44 315.80,405.47 316.05,405.54 316.30,405.46 316.55,405.52 316.80,405.41 317.05,405.38 317.30,405.35 317.55,405.39 317.80,405.40 318.05,405.57 318.30,405.54 318.55,405.59 318.80,405.57 319.05,405.54 319.30,405.59 319.55,405.68 319.80,405.65 320.05,405.66 320.30,405.66 320.55,405.65 320.80,405.67 321.05,405.66 321.30,405.63 321.55,405.61 321.80,405.51 322.05,405.47 322.30,405.40 322.55,405.54 322.80,405.54 323.05,405.61 323.30,405.52 323.55,405.64 323.80,405.54 324.05,405.66 324.30,405.52 324.55,405.62 324.80,405.51 325.05,405.54 325.30,405.46 325.55,405.58 325.80,405.56 326.05,405.53 326.30,405.60 326.55,405.54 326.80,405.44 327.05,405.45 327.30,405.37 327.55,405.25 327.80,405.24 328.05,405.21 328.30,405.12 328.55,405.21 328.80,405.16 329.05,405.06 329.30,405.02 329.55,404.88 329.80,404.64 330.05,404.08 330.30,402.45 330.55,398.65 330.80,391.92 331.05,384.52 331.30,383.52 331.55,390.40 331.80,397.49 332.05,401.47 332.30,402.58 332.55,401.79 332.80,399.63 333.05,396.97 333.30,395.66 333.55,397.24 333.80,400.20 334.05,402.56 334.30,403.93 334.55,404.55 334.80,404.80 335.05,404.93 335.30,405.02 335.55,405.13 335.80,405.13 336.05,405.03 336.30,404.88 336.55,404.69 336.80,404.30 337.05,403.82 337.30,403.35 337.55,402.88 337.80,402.35 338.05,402.21 338.30,402.53 338.55,403.00 338.80,403.48 339.05,404.05 339.30,404.53 339.55,404.82 339.80,405.07 340.05,405.34 340.30,405.47 340.55,405.54 340.80,405.54 341.05,405.50 341.30,405.42 341.55,405.45 341.80,405.34 342.05,405.41 342.30,405.44 342.55,405.42 342.80,405.28 343.05,405.34 343.30,405.29 343.55,405.33 343.80,405.40 344.05,405.54 344.30,405.63 344.55,405.60 344.80,405.61 345.05,405.57 345.30,405.50 345.55,405.54 345.80,405.67 346.05,405.66 346.30,405.75 346.55,405.85 346.80,405.79 347.05,405.70 347.30,405.66 347.55,405.64 347.80,405.61 348.05,405.65 348.30,405.65 348.55,405.63 348.80,405.49 349.05,405.46 349.30,405.38 349.55,405.49 349.80,405.53 350.05,405.66 350.30,405.71 350.55,405.78 350.80,405.69 351.05,405.68 351.30,405.65 351.55,405.64 351.80,405.66 352.05,405.65 352.30,405.65 352.55,405.59 352.80,405.62 353.05,405.60 353.30,405.57 353.55,405.48 353.80,405.60 354.05,405.45 354.30,405.47 354.55,405.50 354.80,405.63 355.05,405.65 355.30,405.75 355.55,405.74 355.80,405.71 356.05,405.70 356.30,405.67 356.55,405.61 356.80,405.71 357.05,405.75 357.30,405.75 357.55,405.74 357.80,405.78 358.05,405.73 358.30,405.68 358.55,405.67 358.80,405.58 359.05,405.58 359.30,405.56 359.55,405.63 359.80,405.56 360.05,405.60 360.30,405.64 360.55,405.55 360.80,405.49 361.05,405.51 361.30,405.36 361.55,405.25 361.80,405.30 362.05,405.36 362.30,405.42 362.55,405.54 362.80,405.55 363.05,405.50 363.30,405.46 363.55,405.30 363.80,405.27 364.05,405.23 364.30,405.30 364.55,405.38 364.80,405.54 365.05,405.66 365.30,405.71 365.55,405.60 365.80,405.51 366.05,405.45 366.30,405.28 366.55,405.32 366.80,405.37 367.05,405.43 367.30,405.49 367.55,405.57 367.80,405.52 368.05,405.39 368.30,405.38 368.55,405.38 368.80,405.46 369.05,405.51 369.30,405.63 369.55,405.72 369.80,405.69 370.05,405.72 370.30,405.72 370.55,405.81 370.80,405.80 371.05,405.75 371.30,405.65 371.55,405.53 371.80,405.51 372.05,405.44 372.30,405.51 372.55,405.56 372.80,405.75 373.05,405.72 373.30,405.67 373.55,405.65 373.80,405.67 374.05,405.54 374.30,405.52 374.55,405.65 374.80,405.54 375.05,405.41 375.30,405.45 375.55,405.46 375.80,405.38 376.05,405.34 376.30,405.40 376.55,405.40 376.80,405.44 377.05,405.42 377.30,405.58 377.55,405.62 377.80,405.67 378.05,405.63 378.30,405.53 378.55,405.52 378.80,405.44 379.05,405.39 379.30,405.33 379.55,405.36 379.80,405.31 380.05,405.31 380.30,405.08 380.55,404.96 380.80,404.65 381.05,404.11 381.30,403.34 381.55,402.34 381.80,400.99 382.05,399.74 382.30,398.82 382.55,398.56 382.80,399.23 383.05,400.44 383.30,401.79 383.55,402.99 383.80,403.96 384.05,404.66 384.30,404.98 384.55,405.18 384.80,405.22 385.05,405.24 385.30,405.16 385.55,405.31 385.80,405.37 386.05,405.46 386.30,405.53 386.55,405.57 386.80,405.65 387.05,405.66 387.30,405.67 387.55,405.69 387.80,405.75 388.05,405.72 388.30,405.73 388.55,405.79 388.80,405.67 389.05,405.66 389.30,405.59 389.55,405.64 389.80,405.65 390.05,405.60 390.30,405.60 390.55,405.56 390.80,405.43 391.05,405.45 391.30,405.53 391.55,405.51 391.80,405.54 392.05,405.59 392.30,405.49 392.55,405.48 392.80,405.49 393.05,405.60 393.30,405.65 393.55,405.70 393.80,405.61 394.05,405.59 394.30,405.51 394.55,405.41 394.80,405.27 395.05,405.32 395.30,405.31 395.55,405.25 395.80,405.09 396.05,404.96 396.30,404.77 396.55,404.37 396.80,403.84 397.05,403.27 397.30,402.54 397.55,401.79 397.80,401.46 398.05,401.68 398.30,402.28 398.55,403.02 398.80,403.79 399.05,404.46 399.30,404.75 399.55,404.97 399.80,405.10 400.05,405.22 400.30,405.22 400.55,405.30 400.80,405.36 401.05,405.47 401.30,405.37 401.55,405.31 401.80,405.36 402.05,405.32 402.30,405.31 402.55,405.46 402.80,405.62 403.05,405.66 403.30,405.66 403.55,405.61 403.80,405.64 404.05,405.46 404.30,405.41 404.55,405.43 404.80,405.48 405.05,405.34 405.30,405.45 405.55,405.43 405.80,405.38 406.05,405.33 406.30,405.45 406.55,405.53 406.80,405.62 407.05,405.72 407.30,405.73 407.55,405.71 407.80,405.60 408.05,405.69 408.30,405.71 408.55,405.69 408.80,405.75 409.05,405.64 409.30,405.51 409.55,405.43 409.80,405.47 410.05,405.44 410.30,405.56 410.55,405.56 410.80,405.46 411.05,405.46 411.30,405.49 411.55,405.61 411.80,405.60 412.05,405.67 412.30,405.67 412.55,405.68 412.80,405.51 413.05,405.45 413.30,405.54 413.55,405.52 413.80,405.49 414.05,405.45 414.30,405.46 414.55,405.45 414.80,405.48 415.05,405.49 415.30,405.58 415.55,405.71 415.80,405.74 416.05,405.73 416.30,405.61 416.55,405.52 416.80,405.53 417.05,405.43 417.30,405.42 417.55,405.45 417.80,405.51 418.05,405.39 418.30,405.37 418.55,405.35 418.80,405.40 419.05,405.32 419.30,405.36 419.55,405.40 419.80,405.51 420.05,405.42 420.30,405.47 420.55,405.47 420.80,405.40 421.05,405.21 421.30,405.09 421.55,404.87 421.80,404.43 422.05,403.91 422.30,403.23 422.55,402.46 422.80,401.89 423.05,401.77 423.30,402.07 423.55,402.71 423.80,403.39 424.05,404.05 424.30,404.56 424.55,404.86 424.80,405.05 425.05,405.27 425.30,405.30 425.55,405.39 425.80,405.41 426.05,405.48 426.30,405.59 426.55,405.60 426.80,405.51 427.05,405.59 427.30,405.60 427.55,405.54 427.80,405.55 428.05,405.57 428.30,405.57 428.55,405.57 428.80,405.54 429.05,405.57 429.30,405.58 429.55,405.59 429.80,405.51 430.05,405.58 430.30,405.59 430.55,405.60 430.80,405.56 431.05,405.64 431.30,405.60 431.55,405.56 431.80,405.63 432.05,405.59 432.30,405.58 432.55,405.55 432.80,405.61 433.05,405.51 433.30,405.54 433.55,405.49 433.80,405.44 434.05,405.38 434.30,405.54 434.55,405.60 434.80,405.57 435.05,405.64 435.30,405.75 435.55,405.67 435.80,405.67 436.05,405.75 436.30,405.76 436.55,405.73 436.80,405.69 437.05,405.66 437.30,405.68 437.55,405.70 437.80,405.71 438.05,405.67 438.30,405.72 438.55,405.62 438.80,405.67 439.05,405.66 439.30,405.60 439.55,405.46 439.80,405.58 440.05,405.56 440.30,405.59 440.55,405.72 440.80,405.72 441.05,405.65 441.30,405.57 441.55,405.55 441.80,405.62 442.05,405.75 442.30,405.79 442.55,405.79 442.80,405.73 443.05,405.61 443.30,405.55 443.55,405.53 443.80,405.51 444.05,405.44 444.30,405.53 444.55,405.49 444.80,405.52 445.05,405.65 445.30,405.76 445.55,405.62 445.80,405.73 446.05,405.63 446.30,405.46 446.55,405.51 446.80,405.57 447.05,405.53 447.30,405.59 447.55,405.61 447.80,405.52 448.05,405.51 448.30,405.45 448.55,405.47 448.80,405.52 449.05,405.52 449.30,405.52 449.55,405.55 449.80,405.51 450.05,405.55 450.30,405.52 450.55,405.59 450.80,405.58 451.05,405.62 451.30,405.59 451.55,405.65 451.80,405.56 452.05,405.62 452.30,405.64 452.55,405.59 452.80,405.56 453.05,405.66 453.30,405.46 453.55,405.45 453.80,405.56 454.05,405.62 454.30,405.48 454.55,405.68 454.80,405.68 455.05,405.49 455.30,405.25 455.55,405.23 455.80,405.08 456.05,405.07 456.30,405.12 456.55,405.17 456.80,405.04 457.05,404.95 457.30,404.43 457.55,403.61 457.80,401.39 458.05,397.15 458.30,391.61 458.55,389.70 458.80,393.70 459.05,398.91 459.30,402.26 459.55,403.69 459.80,403.72 460.05,402.69 460.30,400.68 460.55,397.88 460.80,396.31 461.05,397.94 461.30,400.77 461.55,403.11 461.80,404.23 462.05,404.80 462.30,405.11 462.55,405.33 462.80,405.27 463.05,405.36 463.30,405.37 463.55,405.22 463.80,405.10 464.05,405.03 464.30,404.85 464.55,404.53 464.80,404.21 465.05,403.83 465.30,403.28 465.55,402.76 465.80,402.52 466.05,402.46 466.30,402.60 466.55,403.11 466.80,403.62 467.05,404.06 467.30,404.57 467.55,404.94 467.80,405.16 468.05,405.30 468.30,405.28 468.55,405.27 468.80,405.30 469.05,405.34 469.30,405.34 469.55,405.41 469.80,405.41 470.05,405.44 470.30,405.47 470.55,405.50 470.80,405.60 471.05,405.45 471.30,405.44 471.55,405.41 471.80,405.45 472.05,405.39 472.30,405.52 472.55,405.61 472.80,405.61 473.05,405.66 473.30,405.70 473.55,405.72 473.80,405.64 474.05,405.58 474.30,405.63 474.55,405.52 474.80,405.61 475.05,405.61 475.30,405.54 475.55,405.46 475.80,405.50 476.05,405.42 476.30,405.38 476.55,405.49 476.80,405.46 477.05,405.41 477.30,405.51 477.55,405.52 477.80,405.47 478.05,405.52 478.30,405.55 478.55,405.46 478.80,405.47 479.05,405.52 479.30,405.50 479.55,405.52 479.80,405.51 480.05,405.54 480.30,405.48 480.55,405.51 480.80,405.48 481.05,405.49 481.30,405.48 481.55,405.48 481.80,405.53 482.05,405.66 482.30,405.62 482.55,405.58 482.80,405.60 483.05,405.51 483.30,405.41 483.55,405.50 483.80,405.55 484.05,405.61 484.30,405.64 484.55,405.70 484.80,405.63 485.05,405.61 485.30,405.55 485.55,405.61 485.80,405.48 486.05,405.52 486.30,405.56 486.55,405.52 486.80,405.42 487.05,405.50 487.30,405.42 487.55,405.37 487.80,405.39 488.05,405.47 488.30,405.49 488.55,405.49 488.80,405.40 489.05,405.48 489.30,405.42 489.55,405.42 489.80,405.41 490.05,405.53 490.30,405.53 490.55,405.53 490.80,405.53 491.05,405.54 491.30,405.54 491.55,405.40 491.80,405.50 492.05,405.39 492.30,405.53 492.55,405.58 492.80,405.63 493.05,405.60 493.30,405.64 493.55,405.66 493.80,405.59 494.05,405.64 494.30,405.66 494.55,405.65 494.80,405.58 495.05,405.60 495.30,405.67 495.55,405.58 495.80,405.64 496.05,405.61 496.30,405.60 496.55,405.52 496.80,405.55 497.05,405.52 497.30,405.51 497.55,405.45 497.80,405.35 498.05,405.32 498.30,405.29 498.55,405.36 498.80,405.32 499.05,405.44 499.30,405.41 499.55,405.44 499.80,405.29 500.05,405.39 500.30,405.32 500.55,405.34 500.80,405.31 501.05,405.21 501.30,405.03 501.55,404.71 501.80,404.29 502.05,403.67 502.30,403.02 502.55,402.50 502.80,402.18 503.05,402.02 503.30,402.38 503.55,402.96 503.80,403.47 504.05,403.96 504.30,404.48 504.55,404.77 504.80,405.01 505.05,405.21 505.30,405.35 505.55,405.44 505.80,405.50 506.05,405.56 506.30,405.48 506.55,405.42 506.80,405.41 507.05,405.55 507.30,405.52 507.55,405.55 507.80,405.62 508.05,405.62 508.30,405.58 508.55,405.61 508.80,405.66 509.05,405.75 509.30,405.68 509.55,405.62 509.80,405.62 510.05,405.67 510.30,405.51 510.55,405.60 510.80,405.60 511.05,405.59"/>
<rect x="39.05" y="0.3" width="471.95" height="412.25" fill="none" stroke="#000" stroke-width="2"/>
<line x1="38.90" y1="412.55" x2="38.90" y2="408.05" stroke="#000" stroke-width="1.35"/>
<line x1="68.35" y1="412.55" x2="68.35" y2="409.75" stroke="#000" stroke-width="1.35"/>
<line x1="97.80" y1="412.55" x2="97.80" y2="408.05" stroke="#000" stroke-width="1.35"/>
<line x1="127.25" y1="412.55" x2="127.25" y2="409.75" stroke="#000" stroke-width="1.35"/>
<line x1="156.70" y1="412.55" x2="156.70" y2="408.05" stroke="#000" stroke-width="1.35"/>
<line x1="186.15" y1="412.55" x2="186.15" y2="409.75" stroke="#000" stroke-width="1.35"/>
<line x1="215.60" y1="412.55" x2="215.60" y2="408.05" stroke="#000" stroke-width="1.35"/>
<line x1="245.05" y1="412.55" x2="245.05" y2="409.75" stroke="#000" stroke-width="1.35"/>
<line x1="274.50" y1="412.55" x2="274.50" y2="408.05" stroke="#000" stroke-width="1.35"/>
<line x1="303.95" y1="412.55" x2="303.95" y2="409.75" stroke="#000" stroke-width="1.35"/>
<line x1="333.40" y1="412.55" x2="333.40" y2="408.05" stroke="#000" stroke-width="1.35"/>
<line x1="362.85" y1="412.55" x2="362.85" y2="409.75" stroke="#000" stroke-width="1.35"/>
<line x1="392.30" y1="412.55" x2="392.30" y2="408.05" stroke="#000" stroke-width="1.35"/>
<line x1="421.75" y1="412.55" x2="421.75" y2="409.75" stroke="#000" stroke-width="1.35"/>
<line x1="451.20" y1="412.55" x2="451.20" y2="408.05" stroke="#000" stroke-width="1.35"/>
<line x1="480.65" y1="412.55" x2="480.65" y2="409.75" stroke="#000" stroke-width="1.35"/>
<line x1="510.10" y1="412.55" x2="510.10" y2="408.05" stroke="#000" stroke-width="1.35"/>
<text x="38.90" y="432.5" font-size="19" text-anchor="middle" class="t">20</text>
<text x="97.80" y="432.5" font-size="19" text-anchor="middle" class="t">25</text>
<text x="156.70" y="432.5" font-size="19" text-anchor="middle" class="t">30</text>
<text x="215.60" y="432.5" font-size="19" text-anchor="middle" class="t">35</text>
<text x="274.50" y="432.5" font-size="19" text-anchor="middle" class="t">40</text>
<text x="333.40" y="432.5" font-size="19" text-anchor="middle" class="t">45</text>
<text x="392.30" y="432.5" font-size="19" text-anchor="middle" class="t">50</text>
<text x="451.20" y="432.5" font-size="19" text-anchor="middle" class="t">55</text>
<text x="510.10" y="432.5" font-size="19" text-anchor="middle" class="t">60</text>
<rect x="123.4" y="44.3" width="7.2" height="7.2" fill="#2fe02f" stroke="#0a7a0a" stroke-width="1"/>
<rect x="224.8" y="58.4" width="7.2" height="7.2" fill="#2fe02f" stroke="#0a7a0a" stroke-width="1"/>
<rect x="286.4" y="63.9" width="7.2" height="7.2" fill="#2fe02f" stroke="#0a7a0a" stroke-width="1"/>
<rect x="441.7" y="57.9" width="7.2" height="7.2" fill="#2fe02f" stroke="#0a7a0a" stroke-width="1"/>
<circle cx="84" cy="15.8" r="3.45" fill="#ee1111" stroke="#4a0000" stroke-width="0.9"/>
<circle cx="90.5" cy="32.699999999999996" r="3.45" fill="#ee1111" stroke="#4a0000" stroke-width="0.9"/>
<circle cx="132" cy="58.4" r="3.45" fill="#ee1111" stroke="#4a0000" stroke-width="0.9"/>
<circle cx="150.5" cy="67.4" r="3.45" fill="#ee1111" stroke="#4a0000" stroke-width="0.9"/>
<circle cx="187.5" cy="67.4" r="3.45" fill="#ee1111" stroke="#4a0000" stroke-width="0.9"/>
<circle cx="200.7" cy="64.4" r="3.45" fill="#ee1111" stroke="#4a0000" stroke-width="0.9"/>
<circle cx="206.7" cy="57.9" r="3.45" fill="#ee1111" stroke="#4a0000" stroke-width="0.9"/>
<circle cx="211" cy="47.4" r="3.45" fill="#ee1111" stroke="#4a0000" stroke-width="0.9"/>
<circle cx="269.4" cy="67.4" r="3.45" fill="#ee1111" stroke="#4a0000" stroke-width="0.9"/>
<circle cx="296.7" cy="55.4" r="3.45" fill="#ee1111" stroke="#4a0000" stroke-width="0.9"/>
<circle cx="308.7" cy="62.4" r="3.45" fill="#ee1111" stroke="#4a0000" stroke-width="0.9"/>
<circle cx="323" cy="65.4" r="3.45" fill="#ee1111" stroke="#4a0000" stroke-width="0.9"/>
<circle cx="331.7" cy="58.9" r="3.45" fill="#ee1111" stroke="#4a0000" stroke-width="0.9"/>
<circle cx="356" cy="62.4" r="3.45" fill="#ee1111" stroke="#4a0000" stroke-width="0.9"/>
<circle cx="380" cy="64.9" r="3.45" fill="#ee1111" stroke="#4a0000" stroke-width="0.9"/>
<circle cx="425" cy="69.4" r="3.45" fill="#ee1111" stroke="#4a0000" stroke-width="0.9"/>
<circle cx="449" cy="66.4" r="3.45" fill="#ee1111" stroke="#4a0000" stroke-width="0.9"/>
<circle cx="460.7" cy="67.9" r="3.45" fill="#ee1111" stroke="#4a0000" stroke-width="0.9"/>
<text x="66.2" y="130.85" font-size="20" font-weight="bold" text-anchor="middle" style="fill:#1c1ccc" class="t">*</text>
<text x="174.7" y="101.35" font-size="20" font-weight="bold" text-anchor="middle" style="fill:#1c1ccc" class="t">*</text>
<text x="263.2" y="134.35" font-size="20" font-weight="bold" text-anchor="middle" style="fill:#1c1ccc" class="t">*</text>
<text x="262.5" y="191.35" font-size="20" font-weight="bold" text-anchor="middle" style="fill:#1c1ccc" class="t">*</text>
<text x="332.2" y="201.35" font-size="20" font-weight="bold" text-anchor="middle" style="fill:#1c1ccc" class="t">*</text>
<text x="339.2" y="189.85" font-size="20" font-weight="bold" text-anchor="middle" style="fill:#1c1ccc" class="t">*</text>
<text x="403.9" y="203.35" font-size="20" font-weight="bold" text-anchor="middle" style="fill:#1c1ccc" class="t">*</text>
<text x="466.2" y="196.35" font-size="20" font-weight="bold" text-anchor="middle" style="fill:#1c1ccc" class="t">*</text>
<path d="M108.4 255.7H117.6M113 251.1V260.3" stroke="#6e1fba" stroke-width="1.7" fill="none"/>
<path d="M108.60000000000001 319.5H117.8M113.2 314.9V324.1" stroke="#6e1fba" stroke-width="1.7" fill="none"/>
<path d="M166.1 306H175.29999999999998M170.7 301.4V310.6" stroke="#6e1fba" stroke-width="1.7" fill="none"/>
<path d="M234.9 324.5H244.1M239.5 319.9V329.1" stroke="#6e1fba" stroke-width="1.7" fill="none"/>
<path d="M284.59999999999997 325H293.8M289.2 320.4V329.6" stroke="#6e1fba" stroke-width="1.7" fill="none"/>
<path d="M327.09999999999997 316H336.3M331.7 311.4V320.6" stroke="#6e1fba" stroke-width="1.7" fill="none"/>
<path d="M377.4 323H386.6M382 318.4V327.6" stroke="#6e1fba" stroke-width="1.7" fill="none"/>
<path d="M57.9 385H67.1M62.5 380.4V389.6" stroke="#6e1fba" stroke-width="1.7" fill="none"/>
<path d="M254.1 384.5H263.3M258.7 379.9V389.1" stroke="#6e1fba" stroke-width="1.7" fill="none"/>
<path d="M416.9 389.4H426.1M421.5 384.79999999999995V394.0" stroke="#6e1fba" stroke-width="1.7" fill="none"/>
<path d="M452.4 384.8H461.6M457 380.2V389.40000000000003" stroke="#6e1fba" stroke-width="1.7" fill="none"/>
<text x="473.4" y="71" font-size="13.8" class="t">500</text>
<text x="473.2" y="96.7" font-size="13.8" class="t">600</text>
<text x="473.2" y="126.2" font-size="13.8" class="t">700</text>
<text x="476.5" y="197.6" font-size="13.8" class="t">800</text>
<text x="478.5" y="221" font-size="13.8" class="t">900</text>
<text x="477" y="242" font-size="13.8" class="t">1000</text>
<text x="477" y="261.1" font-size="13.8" class="t">1100</text>
<text x="476" y="327" font-size="13.8" class="t">1200</text>
<text x="475" y="398.3" font-size="13.8" class="t">1350</text>
<text x="434.2" y="43.2" font-size="14.5" class="t">T<tspan font-size="9.2" dy="6" dx="0.5">an</tspan><tspan dy="-6" dx="0.6"> (</tspan><tspan font-size="9.2" dy="-8">o</tspan><tspan dy="8" dx="0.3">C) =</tspan></text>
<text x="275" y="458.6" font-size="21" text-anchor="middle" class="t">2θ (degree)</text>
<text transform="translate(15.0,211.8) rotate(-90)" font-size="21.3" text-anchor="middle" class="t">Intensity (arb. units)</text>
</svg>
</body></html>
